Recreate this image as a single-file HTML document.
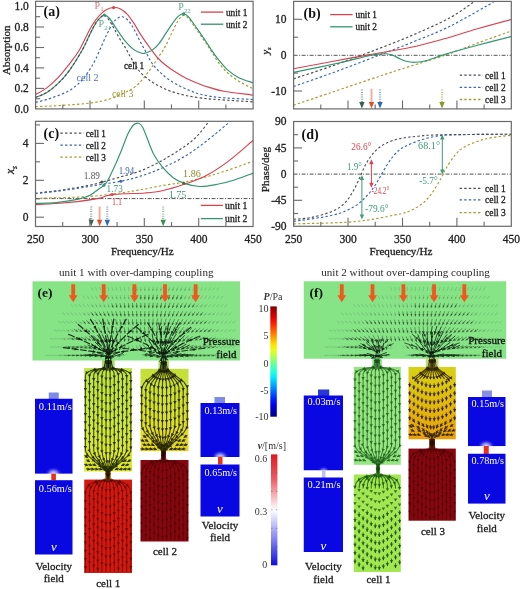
<!DOCTYPE html>
<html><head><meta charset="utf-8"><title>Figure</title>
<style>html,body{margin:0;padding:0;background:#fff;overflow:hidden;}svg{display:block;}</style>
</head><body>
<svg width="520" height="589" viewBox="0 0 520 589">
<rect width="520" height="589" fill="#fff"/>
<defs>
<clipPath id="ca"><rect x="35.6" y="1.3" width="217.5" height="107.6"/></clipPath>
<clipPath id="cb"><rect x="293.6" y="1.4" width="217.7" height="107.5"/></clipPath>
<clipPath id="cc"><rect x="35.5" y="121.3" width="217.6" height="105.2"/></clipPath>
<clipPath id="cd"><rect x="293.6" y="121.5" width="217.7" height="104.8"/></clipPath>
</defs>
<g clip-path="url(#ca)">
<path d="M35.6,106.6 C39.7,106.4 50.9,106.1 60.0,105.5 C69.1,104.9 81.7,104.2 90.0,103.1 C98.3,102.0 103.8,100.7 109.6,99.0 C115.4,97.3 120.4,94.7 124.6,92.7 C128.8,90.7 131.9,89.2 135.0,86.9 C138.1,84.6 140.5,81.7 143.0,78.8 C145.5,75.9 148.0,72.3 150.0,69.6 C152.0,66.9 153.3,65.0 155.0,62.5 C156.7,60.0 158.2,57.6 160.0,54.8 C161.8,52.0 163.7,49.5 165.8,45.5 C167.9,41.5 170.6,35.3 172.7,31.1 C174.8,26.9 176.6,22.8 178.4,20.2 C180.2,17.6 181.9,15.7 183.6,15.4 C185.3,15.1 187.0,16.7 188.8,18.6 C190.6,20.5 192.7,24.1 194.6,26.8 C196.5,29.5 198.4,32.1 200.4,35.0 C202.4,37.9 204.5,41.0 206.5,44.0 C208.5,47.0 210.0,49.3 212.3,52.8 C214.6,56.3 217.5,61.4 220.4,65.0 C223.3,68.6 226.2,71.7 229.6,74.6 C233.0,77.5 237.8,80.5 241.1,82.6 C244.4,84.6 247.1,85.9 249.2,86.9 C251.3,87.9 252.8,88.5 253.5,88.8" fill="none" stroke="#a49c2c" stroke-width="1.15" stroke-dasharray="2.4 2.2"/>
<path d="M35.6,102.5 C37.4,102.0 42.8,100.8 46.5,99.6 C50.2,98.4 54.2,97.1 58.1,95.6 C62.0,94.1 66.1,92.4 69.6,90.4 C73.0,88.4 76.2,85.7 78.8,83.4 C81.4,81.1 83.1,79.0 85.0,76.5 C86.9,74.0 88.6,71.3 90.4,68.4 C92.2,65.5 94.0,62.7 95.8,59.0 C97.6,55.3 99.6,50.4 101.5,46.1 C103.4,41.8 105.4,37.3 107.3,33.4 C109.2,29.5 111.4,25.3 113.1,22.8 C114.8,20.3 116.2,19.3 117.7,18.3 C119.2,17.3 120.6,16.4 122.3,16.7 C124.0,17.0 126.2,18.2 128.1,20.2 C130.0,22.2 131.9,25.4 133.8,28.8 C135.7,32.2 137.7,36.7 139.6,40.4 C141.5,44.1 143.4,47.3 145.4,51.0 C147.4,54.7 149.3,59.2 151.5,62.5 C153.7,65.8 155.8,68.1 158.5,70.8 C161.2,73.5 164.2,76.3 167.7,78.8 C171.1,81.3 175.4,83.8 179.2,85.8 C183.0,87.8 187.2,89.5 190.7,90.9 C194.2,92.3 195.4,93.1 200.0,94.2 C204.6,95.3 209.2,96.4 218.1,97.3 C227.0,98.2 247.6,99.2 253.5,99.6" fill="none" stroke="#3c64b4" stroke-width="1.15" stroke-dasharray="2.4 2.2"/>
<path d="M35.6,94.6 C37.4,93.5 42.8,90.9 46.5,88.1 C50.2,85.3 54.2,81.8 58.1,77.7 C62.0,73.7 66.0,68.4 69.6,63.8 C73.1,59.2 76.0,55.8 79.4,50.0 C82.8,44.2 87.3,34.0 90.0,29.0 C92.7,24.0 93.9,22.4 95.8,19.8 C97.7,17.2 99.6,15.1 101.5,13.3 C103.4,11.5 105.3,10.2 107.3,9.2 C109.3,8.2 111.5,7.6 113.6,7.5 C115.7,7.4 117.8,7.6 120.0,8.7 C122.2,9.8 124.6,11.4 126.9,13.8 C129.2,16.2 131.5,19.6 133.8,23.1 C136.1,26.6 137.8,30.1 140.7,34.6 C143.6,39.1 148.7,46.2 151.5,50.0 C154.3,53.8 155.0,55.0 157.3,57.5 C159.6,60.0 162.5,62.6 165.4,65.0 C168.3,67.3 171.2,69.4 174.6,71.6 C178.0,73.8 181.9,76.2 186.1,78.3 C190.3,80.4 196.0,82.7 200.0,84.2 C204.0,85.8 206.0,86.4 210.0,87.6 C214.0,88.8 216.6,89.9 223.8,91.2 C231.1,92.5 248.6,94.5 253.5,95.2" fill="none" stroke="#d8434f" stroke-width="1.15"/>
<path d="M35.6,97.3 C37.4,96.5 42.8,95.0 46.5,92.7 C50.2,90.4 54.2,87.2 58.1,83.4 C62.0,79.7 65.6,75.8 69.6,70.2 C73.6,64.6 78.9,56.0 82.3,50.0 C85.7,44.0 87.8,38.5 90.0,34.0 C92.2,29.5 94.1,25.8 95.8,23.1 C97.5,20.4 99.0,19.0 100.4,17.6 C101.8,16.2 102.9,14.8 104.4,15.0 C105.9,15.2 107.6,16.2 109.6,18.5 C111.6,20.8 114.0,25.2 116.5,28.8 C119.0,32.5 121.7,36.9 124.6,40.4 C127.5,43.9 130.9,47.5 133.8,49.6 C136.7,51.8 139.9,52.8 141.9,53.3 C143.9,53.8 144.3,53.3 146.0,52.8 C147.7,52.3 149.8,51.9 151.9,50.4 C154.0,48.9 156.5,46.6 158.8,43.8 C161.1,41.0 163.5,36.8 165.8,33.4 C168.1,29.9 170.6,26.0 172.7,23.1 C174.8,20.2 176.6,17.7 178.4,16.1 C180.2,14.6 181.9,13.6 183.6,13.8 C185.3,14.0 187.0,15.2 188.8,17.1 C190.6,19.0 192.7,22.3 194.6,25.0 C196.5,27.7 198.4,30.5 200.4,33.4 C202.4,36.3 204.7,39.6 206.5,42.3 C208.3,45.0 209.2,46.7 211.1,49.5 C213.0,52.3 215.4,55.9 218.1,59.2 C220.8,62.6 223.9,66.5 227.3,69.6 C230.8,72.7 234.4,75.5 238.8,77.7 C243.2,79.9 251.1,82.1 253.5,83.0" fill="none" stroke="#2f9670" stroke-width="1.15"/>
<path d="M35.6,97.3 C37.4,96.5 42.8,95.0 46.5,92.7 C50.2,90.4 54.2,87.2 58.1,83.4 C62.0,79.7 65.6,75.8 69.6,70.2 C73.6,64.6 78.9,56.0 82.3,50.0 C85.7,44.0 87.8,38.5 90.0,34.0 C92.2,29.5 94.1,25.8 95.8,23.1 C97.5,20.4 99.0,18.9 100.4,17.6 C101.8,16.3 102.9,14.7 104.4,15.2 C105.9,15.7 108.0,18.5 109.6,20.8 C111.2,23.1 112.5,25.7 114.2,28.8 C115.9,31.9 118.1,35.9 120.0,39.2 C121.9,42.5 124.1,45.5 125.8,48.4 C127.5,51.3 128.9,54.2 130.4,56.9 C131.9,59.6 133.3,61.9 135.0,64.5 C136.7,67.1 138.0,69.8 140.4,72.4 C142.8,75.0 146.2,77.8 149.2,80.0 C152.2,82.2 155.0,84.0 158.5,85.8 C162.0,87.6 165.8,89.5 170.0,91.0 C174.2,92.5 178.8,93.8 183.8,95.0 C188.8,96.2 194.3,97.1 200.0,97.9 C205.7,98.7 209.2,98.9 218.1,99.6 C227.0,100.3 247.6,101.5 253.5,101.9" fill="none" stroke="#4d4d55" stroke-width="1.15" stroke-dasharray="2.4 2.2"/>
</g>
<circle cx="113.6" cy="7.6" r="1.6" fill="#d8434f"/>
<circle cx="104.4" cy="15.1" r="1.6" fill="#2f9670"/>
<circle cx="183.6" cy="13.9" r="1.6" fill="#2f9670"/>
<rect x="35.6" y="1.3" width="217.5" height="107.6" fill="none" stroke="#6a6a6a" stroke-width="1.2"/>
<line x1="62.8" y1="108.9" x2="62.8" y2="104.4" stroke="#6a6a6a" stroke-width="1.1"/>
<line x1="90.0" y1="108.9" x2="90.0" y2="100.4" stroke="#6a6a6a" stroke-width="1.1"/>
<line x1="117.2" y1="108.9" x2="117.2" y2="104.4" stroke="#6a6a6a" stroke-width="1.1"/>
<line x1="144.3" y1="108.9" x2="144.3" y2="100.4" stroke="#6a6a6a" stroke-width="1.1"/>
<line x1="171.5" y1="108.9" x2="171.5" y2="104.4" stroke="#6a6a6a" stroke-width="1.1"/>
<line x1="198.7" y1="108.9" x2="198.7" y2="100.4" stroke="#6a6a6a" stroke-width="1.1"/>
<line x1="225.9" y1="108.9" x2="225.9" y2="104.4" stroke="#6a6a6a" stroke-width="1.1"/>
<line x1="35.6" y1="98.7" x2="40.1" y2="98.7" stroke="#6a6a6a" stroke-width="1.1"/>
<line x1="35.6" y1="88.4" x2="44.1" y2="88.4" stroke="#6a6a6a" stroke-width="1.1"/>
<line x1="35.6" y1="78.2" x2="40.1" y2="78.2" stroke="#6a6a6a" stroke-width="1.1"/>
<line x1="35.6" y1="67.9" x2="44.1" y2="67.9" stroke="#6a6a6a" stroke-width="1.1"/>
<line x1="35.6" y1="57.7" x2="40.1" y2="57.7" stroke="#6a6a6a" stroke-width="1.1"/>
<line x1="35.6" y1="47.5" x2="44.1" y2="47.5" stroke="#6a6a6a" stroke-width="1.1"/>
<line x1="35.6" y1="37.2" x2="40.1" y2="37.2" stroke="#6a6a6a" stroke-width="1.1"/>
<line x1="35.6" y1="27.0" x2="44.1" y2="27.0" stroke="#6a6a6a" stroke-width="1.1"/>
<line x1="35.6" y1="16.7" x2="40.1" y2="16.7" stroke="#6a6a6a" stroke-width="1.1"/>
<line x1="35.6" y1="6.5" x2="44.1" y2="6.5" stroke="#6a6a6a" stroke-width="1.1"/>
<text x="28.8" y="112.7" font-family="'Liberation Serif', serif" font-size="11.5" text-anchor="end" fill="#222" stroke="#222" stroke-width="0.30" font-weight="normal" font-style="normal">0.0</text>
<text x="28.8" y="92.2" font-family="'Liberation Serif', serif" font-size="11.5" text-anchor="end" fill="#222" stroke="#222" stroke-width="0.30" font-weight="normal" font-style="normal">0.2</text>
<text x="28.8" y="71.7" font-family="'Liberation Serif', serif" font-size="11.5" text-anchor="end" fill="#222" stroke="#222" stroke-width="0.30" font-weight="normal" font-style="normal">0.4</text>
<text x="28.8" y="51.3" font-family="'Liberation Serif', serif" font-size="11.5" text-anchor="end" fill="#222" stroke="#222" stroke-width="0.30" font-weight="normal" font-style="normal">0.6</text>
<text x="28.8" y="30.8" font-family="'Liberation Serif', serif" font-size="11.5" text-anchor="end" fill="#222" stroke="#222" stroke-width="0.30" font-weight="normal" font-style="normal">0.8</text>
<text x="28.8" y="10.3" font-family="'Liberation Serif', serif" font-size="11.5" text-anchor="end" fill="#222" stroke="#222" stroke-width="0.30" font-weight="normal" font-style="normal">1.0</text>
<text x="6.5" y="50.3" font-family="'Liberation Serif', serif" font-size="11.0" text-anchor="middle" fill="#222" stroke="#222" stroke-width="0.30" font-weight="normal" font-style="normal" transform="rotate(-90 6.5 50.3)" dy="3.5">Absorption</text>
<text x="43.5" y="16.0" font-family="'Liberation Serif', serif" font-size="14.0" text-anchor="start" fill="#111" stroke="#111" stroke-width="0.00" font-weight="bold" font-style="normal">(a)</text>
<text x="94.6" y="8.8" font-family="'Liberation Serif', serif" font-size="10.0" text-anchor="start" fill="#e0707a" stroke="#e0707a" stroke-width="0.00" font-weight="normal" font-style="normal" stroke-opacity="0">P<tspan font-size="7" dy="2.2">1</tspan></text>
<text x="98.6" y="26.8" font-family="'Liberation Serif', serif" font-size="10.0" text-anchor="start" fill="#60a888" stroke="#60a888" stroke-width="0.00" font-weight="normal" font-style="normal" stroke-opacity="0">P<tspan font-size="7" dy="3">21</tspan></text>
<text x="178.2" y="10.2" font-family="'Liberation Serif', serif" font-size="10.0" text-anchor="start" fill="#60a888" stroke="#60a888" stroke-width="0.00" font-weight="normal" font-style="normal" stroke-opacity="0">P<tspan font-size="7" dy="2.5">22</tspan></text>
<line x1="200.8" y1="12.1" x2="223.3" y2="12.1" stroke="#d8434f" stroke-width="1.3"/>
<text x="225.9" y="15.5" font-family="'Liberation Serif', serif" font-size="10.0" text-anchor="start" fill="#222" stroke="#222" stroke-width="0.30" font-weight="normal" font-style="normal" textLength="21.6" lengthAdjust="spacingAndGlyphs">unit 1</text>
<line x1="200.8" y1="24.2" x2="223.3" y2="24.2" stroke="#2f9670" stroke-width="1.3"/>
<text x="225.9" y="27.6" font-family="'Liberation Serif', serif" font-size="10.0" text-anchor="start" fill="#222" stroke="#222" stroke-width="0.30" font-weight="normal" font-style="normal" textLength="21.6" lengthAdjust="spacingAndGlyphs">unit 2</text>
<text x="124.0" y="69.0" font-family="'Liberation Serif', serif" font-size="10.5" text-anchor="start" fill="#1a1a1a" stroke="#1a1a1a" stroke-width="0.30" font-weight="normal" font-style="normal" textLength="20.2" lengthAdjust="spacingAndGlyphs">cell 1</text>
<text x="76.5" y="81.0" font-family="'Liberation Serif', serif" font-size="10.5" text-anchor="start" fill="#4a72b8" stroke="#4a72b8" stroke-width="0.00" font-weight="normal" font-style="normal" textLength="22" lengthAdjust="spacingAndGlyphs">cell 2</text>
<text x="111.9" y="96.8" font-family="'Liberation Serif', serif" font-size="10.5" text-anchor="start" fill="#9a9a30" stroke="#9a9a30" stroke-width="0.00" font-weight="normal" font-style="normal" textLength="21.4" lengthAdjust="spacingAndGlyphs">cell 3</text>
<g clip-path="url(#cb)">
<line x1="293.6" y1="55.3" x2="511.3" y2="55.3" stroke="#555" stroke-width="1" stroke-dasharray="4 1.5 1 1.5"/>
<path d="M293.6,105.2 C300.0,103.0 319.3,96.6 332.0,92.3 C344.7,88.0 358.7,83.2 370.0,79.4 C381.3,75.6 387.6,73.5 400.0,69.5 C412.4,65.5 431.3,59.9 444.2,55.5 C457.1,51.1 466.2,47.2 477.4,43.1 C488.6,39.0 505.8,33.0 511.5,31.0" fill="none" stroke="#a49c2c" stroke-width="1.15" stroke-dasharray="2.4 2.2"/>
<path d="M293.6,86.5 C300.0,84.2 319.3,77.6 332.0,73.0 C344.7,68.4 357.0,63.7 370.0,58.7 C383.0,53.7 396.7,48.5 410.0,43.1 C423.3,37.7 435.5,33.4 450.0,26.2 C464.5,19.0 489.2,4.4 497.0,0.0" fill="none" stroke="#3c64b4" stroke-width="1.15" stroke-dasharray="2.4 2.2"/>
<path d="M293.6,78.8 C300.0,76.7 319.3,70.5 332.0,66.0 C344.7,61.5 357.0,57.0 370.0,52.0 C383.0,47.0 396.7,41.9 410.0,36.2 C423.3,30.5 438.7,23.9 450.0,17.7 C461.3,11.5 473.3,2.1 478.0,-1.0" fill="none" stroke="#4d4d55" stroke-width="1.15" stroke-dasharray="2.4 2.2"/>
<path d="M293.6,68.8 C300.1,67.6 319.6,63.9 332.3,61.5 C345.0,59.1 357.1,56.9 370.0,54.6 C382.9,52.3 397.6,50.1 410.0,47.5 C422.4,44.9 433.0,41.9 444.2,38.8 C455.4,35.7 466.2,31.9 477.4,28.7 C488.6,25.5 505.8,20.9 511.5,19.4" fill="none" stroke="#d8434f" stroke-width="1.15"/>
<path d="M293.6,72.4 C301.3,70.8 327.3,65.5 340.0,62.7 C352.7,59.9 362.8,57.0 370.0,55.5 C377.2,54.0 379.5,54.0 383.0,53.8 C386.5,53.6 388.4,53.8 391.0,54.5 C393.6,55.2 396.0,57.0 398.5,58.1 C401.0,59.2 403.4,60.5 406.2,61.2 C409.0,61.9 411.8,62.5 415.4,62.3 C419.0,62.1 422.9,61.5 427.7,60.2 C432.5,58.9 435.9,57.1 444.2,54.6 C452.5,52.1 466.2,48.3 477.4,45.3 C488.6,42.3 505.8,37.9 511.5,36.4" fill="none" stroke="#2f9670" stroke-width="1.15"/>
</g>
<line x1="361.9" y1="89.6" x2="361.9" y2="102.4" stroke="#3f5d50" stroke-width="2.2" stroke-dasharray="1 1.3" opacity="0.55"/>
<path d="M359.2,101.9 L364.6,101.9 L361.9,108.4 Z" fill="#3f5d50"/>
<line x1="371.5" y1="88.8" x2="371.5" y2="102.4" stroke="#e0502a" stroke-width="2" opacity="0.45"/>
<path d="M368.8,101.9 L374.2,101.9 L371.5,108.4 Z" fill="#e0502a"/>
<line x1="380.0" y1="89.6" x2="380.0" y2="102.4" stroke="#2a6ab0" stroke-width="2.2" stroke-dasharray="1 1.3" opacity="0.55"/>
<path d="M377.3,101.9 L382.7,101.9 L380.0,108.4 Z" fill="#2a6ab0"/>
<line x1="442.0" y1="89.6" x2="442.0" y2="102.4" stroke="#8a9a20" stroke-width="2.2" stroke-dasharray="1 1.3" opacity="0.55"/>
<path d="M439.3,101.9 L444.7,101.9 L442.0,108.4 Z" fill="#8a9a20"/>
<rect x="293.6" y="1.4" width="217.7" height="107.5" fill="none" stroke="#6a6a6a" stroke-width="1.2"/>
<line x1="320.8" y1="108.9" x2="320.8" y2="104.4" stroke="#6a6a6a" stroke-width="1.1"/>
<line x1="348.0" y1="108.9" x2="348.0" y2="100.4" stroke="#6a6a6a" stroke-width="1.1"/>
<line x1="375.2" y1="108.9" x2="375.2" y2="104.4" stroke="#6a6a6a" stroke-width="1.1"/>
<line x1="402.5" y1="108.9" x2="402.5" y2="100.4" stroke="#6a6a6a" stroke-width="1.1"/>
<line x1="429.7" y1="108.9" x2="429.7" y2="104.4" stroke="#6a6a6a" stroke-width="1.1"/>
<line x1="456.9" y1="108.9" x2="456.9" y2="100.4" stroke="#6a6a6a" stroke-width="1.1"/>
<line x1="484.1" y1="108.9" x2="484.1" y2="104.4" stroke="#6a6a6a" stroke-width="1.1"/>
<line x1="293.6" y1="19.3" x2="302.1" y2="19.3" stroke="#6a6a6a" stroke-width="1.1"/>
<line x1="293.6" y1="37.2" x2="298.1" y2="37.2" stroke="#6a6a6a" stroke-width="1.1"/>
<line x1="293.6" y1="73.1" x2="298.1" y2="73.1" stroke="#6a6a6a" stroke-width="1.1"/>
<line x1="293.6" y1="91.0" x2="302.1" y2="91.0" stroke="#6a6a6a" stroke-width="1.1"/>
<text x="286.5" y="22.8" font-family="'Liberation Serif', serif" font-size="11.5" text-anchor="end" fill="#222" stroke="#222" stroke-width="0.30" font-weight="normal" font-style="normal">10</text>
<text x="286.5" y="59.0" font-family="'Liberation Serif', serif" font-size="11.5" text-anchor="end" fill="#222" stroke="#222" stroke-width="0.30" font-weight="normal" font-style="normal">0</text>
<text x="286.5" y="94.8" font-family="'Liberation Serif', serif" font-size="11.5" text-anchor="end" fill="#222" stroke="#222" stroke-width="0.30" font-weight="normal" font-style="normal">-10</text>
<text x="268.6" y="51.0" font-family="'Liberation Serif', serif" font-size="10.5" text-anchor="middle" fill="#222" stroke="#222" stroke-width="0.30" font-weight="normal" font-style="italic" transform="rotate(-90 268.6 51)">y<tspan font-size="6.5" dy="2">s</tspan></text>
<text x="303.5" y="18.0" font-family="'Liberation Serif', serif" font-size="14.0" text-anchor="start" fill="#111" stroke="#111" stroke-width="0.00" font-weight="bold" font-style="normal">(b)</text>
<line x1="330.2" y1="14.6" x2="352.6" y2="14.6" stroke="#d8434f" stroke-width="1.3"/>
<text x="355.6" y="18.0" font-family="'Liberation Serif', serif" font-size="10.0" text-anchor="start" fill="#222" stroke="#222" stroke-width="0.30" font-weight="normal" font-style="normal" textLength="21.3" lengthAdjust="spacingAndGlyphs">unit 1</text>
<line x1="330.2" y1="26.8" x2="352.6" y2="26.8" stroke="#2f9670" stroke-width="1.3"/>
<text x="355.6" y="30.2" font-family="'Liberation Serif', serif" font-size="10.0" text-anchor="start" fill="#222" stroke="#222" stroke-width="0.30" font-weight="normal" font-style="normal" textLength="21.3" lengthAdjust="spacingAndGlyphs">unit 2</text>
<line x1="459.7" y1="75.2" x2="482.9" y2="75.2" stroke="#4d4d55" stroke-width="1.3" stroke-dasharray="2.4 2.2"/>
<text x="485.1" y="78.6" font-family="'Liberation Serif', serif" font-size="10.0" text-anchor="start" fill="#222" stroke="#222" stroke-width="0.30" font-weight="normal" font-style="normal" textLength="20.6" lengthAdjust="spacingAndGlyphs">cell 1</text>
<line x1="459.7" y1="87.4" x2="482.9" y2="87.4" stroke="#3c64b4" stroke-width="1.3" stroke-dasharray="2.4 2.2"/>
<text x="485.1" y="90.8" font-family="'Liberation Serif', serif" font-size="10.0" text-anchor="start" fill="#222" stroke="#222" stroke-width="0.30" font-weight="normal" font-style="normal" textLength="20.6" lengthAdjust="spacingAndGlyphs">cell 2</text>
<line x1="459.7" y1="99.5" x2="482.9" y2="99.5" stroke="#a49c2c" stroke-width="1.3" stroke-dasharray="2.4 2.2"/>
<text x="485.1" y="102.9" font-family="'Liberation Serif', serif" font-size="10.0" text-anchor="start" fill="#222" stroke="#222" stroke-width="0.30" font-weight="normal" font-style="normal" textLength="20.6" lengthAdjust="spacingAndGlyphs">cell 3</text>
<g clip-path="url(#cc)">
<line x1="35.5" y1="198.6" x2="253.1" y2="198.6" stroke="#555" stroke-width="1" stroke-dasharray="4 1.5 1 1.5"/>
<path d="M35.5,198.3 C41.2,198.2 60.1,197.8 70.0,197.4 C79.9,197.0 86.7,196.7 95.0,196.0 C103.3,195.3 112.5,194.0 120.0,193.0 C127.5,192.0 133.0,191.1 140.0,189.9 C147.0,188.7 154.7,186.9 162.1,185.6 C169.5,184.3 176.8,183.6 184.2,182.1 C191.6,180.6 198.9,178.8 206.3,176.8 C213.7,174.8 220.6,172.6 228.5,170.0 C236.4,167.4 249.3,162.5 253.5,161.0" fill="none" stroke="#a49c2c" stroke-width="1.15" stroke-dasharray="2.4 2.2"/>
<path d="M35.5,193.2 C39.6,192.7 52.6,191.3 60.0,190.3 C67.4,189.3 74.2,188.1 80.0,187.0 C85.8,185.9 91.3,184.8 95.0,184.0 C98.7,183.2 97.8,183.3 101.9,182.2 C106.0,181.1 113.2,179.0 119.6,177.2 C125.9,175.3 132.9,173.9 140.0,171.1 C147.1,168.3 154.7,164.6 162.1,160.5 C169.5,156.4 178.3,150.8 184.2,146.7 C190.1,142.6 193.2,140.1 197.5,135.7 C201.8,131.2 207.9,122.6 210.0,120.0" fill="none" stroke="#4d4d55" stroke-width="1.15" stroke-dasharray="2.4 2.2"/>
<path d="M35.5,193.6 C39.6,193.2 52.6,191.8 60.0,190.9 C67.4,190.0 74.2,188.9 80.0,188.0 C85.8,187.1 88.2,186.5 95.0,185.4 C101.8,184.3 113.3,182.7 120.8,181.2 C128.3,179.7 133.1,178.5 140.0,176.3 C146.9,174.1 154.7,171.3 162.1,168.0 C169.5,164.7 176.8,161.2 184.2,156.7 C191.6,152.2 198.3,147.3 206.3,141.2 C214.3,135.1 227.7,123.5 232.0,120.0" fill="none" stroke="#3c64b4" stroke-width="1.15" stroke-dasharray="2.4 2.2"/>
<path d="M35.5,204.6 C39.6,204.4 53.0,203.7 60.0,203.2 C67.0,202.7 70.9,202.4 77.3,201.6 C83.7,200.8 93.7,199.3 98.5,198.4 C103.3,197.5 103.7,196.6 106.0,196.0 C108.3,195.4 109.0,195.0 112.2,194.6 C115.4,194.2 119.5,194.1 125.0,193.8 C130.5,193.5 138.8,193.5 145.0,193.0 C151.2,192.5 155.6,192.2 162.1,190.8 C168.6,189.4 176.8,186.9 184.2,184.3 C191.6,181.8 198.9,179.4 206.3,175.5 C213.7,171.6 220.6,167.0 228.5,161.1 C236.4,155.2 249.3,143.5 253.5,140.0" fill="none" stroke="#d8434f" stroke-width="1.15"/>
<path d="M35.5,203.4 C39.0,203.3 49.2,203.3 56.2,202.6 C63.2,201.9 71.7,200.6 77.3,199.4 C82.9,198.2 86.5,196.9 90.0,195.2 C93.5,193.5 96.2,190.8 98.5,189.2 C100.8,187.5 102.3,186.8 103.9,185.3 C105.5,183.8 106.1,183.5 108.0,180.0 C109.9,176.5 113.1,169.6 115.4,164.5 C117.7,159.4 119.6,154.9 121.7,149.7 C123.8,144.5 126.1,137.6 128.1,133.5 C130.1,129.4 131.8,126.7 133.5,125.0 C135.2,123.3 137.0,123.0 138.5,123.3 C140.0,123.6 141.2,124.8 142.5,127.0 C143.8,129.2 144.8,132.4 146.6,136.8 C148.4,141.2 150.7,148.4 153.3,153.4 C155.9,158.4 158.8,162.6 162.1,166.7 C165.4,170.8 169.5,174.9 173.2,177.7 C176.9,180.5 179.8,181.9 184.2,183.4 C188.6,184.9 194.2,186.3 199.7,186.5 C205.2,186.7 211.5,185.4 217.4,184.3 C223.3,183.2 229.1,181.6 235.1,179.7 C241.1,177.8 250.4,174.2 253.5,173.1" fill="none" stroke="#2f9670" stroke-width="1.15"/>
</g>
<circle cx="101.9" cy="182" r="1.5" fill="#4d4d55"/>
<circle cx="103.9" cy="185.3" r="1.5" fill="#2f9670"/>
<circle cx="120.8" cy="181.2" r="1.5" fill="#3c64b4"/>
<circle cx="112.2" cy="194.6" r="1.5" fill="#d8434f"/>
<circle cx="183.8" cy="183.3" r="1.5" fill="#5a6a2a"/>
<line x1="91.2" y1="206.5" x2="91.2" y2="220.2" stroke="#3f5d50" stroke-width="2.2" stroke-dasharray="1 1.3" opacity="0.55"/>
<path d="M88.5,219.7 L93.9,219.7 L91.2,226.2 Z" fill="#3f5d50"/>
<line x1="99.6" y1="206.5" x2="99.6" y2="220.2" stroke="#e0502a" stroke-width="2" opacity="0.45"/>
<path d="M96.9,219.7 L102.3,219.7 L99.6,226.2 Z" fill="#e0502a"/>
<line x1="107.3" y1="206.5" x2="107.3" y2="220.2" stroke="#2a6ab0" stroke-width="2.2" stroke-dasharray="1 1.3" opacity="0.55"/>
<path d="M104.6,219.7 L110.0,219.7 L107.3,226.2 Z" fill="#2a6ab0"/>
<line x1="163.2" y1="206.5" x2="163.2" y2="220.2" stroke="#3f8a50" stroke-width="2.2" stroke-dasharray="1 1.3" opacity="0.55"/>
<path d="M160.5,219.7 L165.9,219.7 L163.2,226.2 Z" fill="#3f8a50"/>
<rect x="35.5" y="121.3" width="217.6" height="105.2" fill="none" stroke="#6a6a6a" stroke-width="1.2"/>
<line x1="62.7" y1="226.5" x2="62.7" y2="222.0" stroke="#6a6a6a" stroke-width="1.1"/>
<line x1="89.9" y1="226.5" x2="89.9" y2="218.0" stroke="#6a6a6a" stroke-width="1.1"/>
<line x1="117.1" y1="226.5" x2="117.1" y2="222.0" stroke="#6a6a6a" stroke-width="1.1"/>
<line x1="144.3" y1="226.5" x2="144.3" y2="218.0" stroke="#6a6a6a" stroke-width="1.1"/>
<line x1="171.5" y1="226.5" x2="171.5" y2="222.0" stroke="#6a6a6a" stroke-width="1.1"/>
<line x1="198.7" y1="226.5" x2="198.7" y2="218.0" stroke="#6a6a6a" stroke-width="1.1"/>
<line x1="225.9" y1="226.5" x2="225.9" y2="222.0" stroke="#6a6a6a" stroke-width="1.1"/>
<line x1="35.5" y1="198.8" x2="40.0" y2="198.8" stroke="#6a6a6a" stroke-width="1.1"/>
<line x1="35.5" y1="180.3" x2="44.0" y2="180.3" stroke="#6a6a6a" stroke-width="1.1"/>
<line x1="35.5" y1="161.8" x2="40.0" y2="161.8" stroke="#6a6a6a" stroke-width="1.1"/>
<line x1="35.5" y1="143.4" x2="44.0" y2="143.4" stroke="#6a6a6a" stroke-width="1.1"/>
<line x1="35.5" y1="124.9" x2="40.0" y2="124.9" stroke="#6a6a6a" stroke-width="1.1"/>
<line x1="35.5" y1="217.2" x2="44.0" y2="217.2" stroke="#6a6a6a" stroke-width="1.1"/>
<text x="28.5" y="221.0" font-family="'Liberation Serif', serif" font-size="11.5" text-anchor="end" fill="#222" stroke="#222" stroke-width="0.30" font-weight="normal" font-style="normal">0</text>
<text x="28.5" y="184.1" font-family="'Liberation Serif', serif" font-size="11.5" text-anchor="end" fill="#222" stroke="#222" stroke-width="0.30" font-weight="normal" font-style="normal">2</text>
<text x="28.5" y="147.2" font-family="'Liberation Serif', serif" font-size="11.5" text-anchor="end" fill="#222" stroke="#222" stroke-width="0.30" font-weight="normal" font-style="normal">4</text>
<text x="14.0" y="170.0" font-family="'Liberation Serif', serif" font-size="11.5" text-anchor="middle" fill="#222" stroke="#222" stroke-width="0.30" font-weight="normal" font-style="italic" transform="rotate(-90 14 170)">x<tspan font-size="7.5" dy="2.5">s</tspan></text>
<text x="43.5" y="137.5" font-family="'Liberation Serif', serif" font-size="14.0" text-anchor="start" fill="#111" stroke="#111" stroke-width="0.00" font-weight="bold" font-style="normal">(c)</text>
<line x1="60.4" y1="133.2" x2="83.7" y2="133.2" stroke="#4d4d55" stroke-width="1.3" stroke-dasharray="2.4 2.2"/>
<text x="85.8" y="136.6" font-family="'Liberation Serif', serif" font-size="10.0" text-anchor="start" fill="#222" stroke="#222" stroke-width="0.30" font-weight="normal" font-style="normal" textLength="20.1" lengthAdjust="spacingAndGlyphs">cell 1</text>
<line x1="60.4" y1="145.1" x2="83.7" y2="145.1" stroke="#3c64b4" stroke-width="1.3" stroke-dasharray="2.4 2.2"/>
<text x="85.8" y="148.5" font-family="'Liberation Serif', serif" font-size="10.0" text-anchor="start" fill="#222" stroke="#222" stroke-width="0.30" font-weight="normal" font-style="normal" textLength="20.1" lengthAdjust="spacingAndGlyphs">cell 2</text>
<line x1="60.4" y1="157.1" x2="83.7" y2="157.1" stroke="#a49c2c" stroke-width="1.3" stroke-dasharray="2.4 2.2"/>
<text x="85.8" y="160.5" font-family="'Liberation Serif', serif" font-size="10.0" text-anchor="start" fill="#222" stroke="#222" stroke-width="0.30" font-weight="normal" font-style="normal" textLength="20.1" lengthAdjust="spacingAndGlyphs">cell 3</text>
<line x1="200.8" y1="205.4" x2="222.9" y2="205.4" stroke="#d8434f" stroke-width="1.3"/>
<text x="225.1" y="208.8" font-family="'Liberation Serif', serif" font-size="10.0" text-anchor="start" fill="#222" stroke="#222" stroke-width="0.30" font-weight="normal" font-style="normal" textLength="22.2" lengthAdjust="spacingAndGlyphs">unit 1</text>
<line x1="200.8" y1="218.6" x2="222.9" y2="218.6" stroke="#2f9670" stroke-width="1.3"/>
<text x="225.1" y="222.0" font-family="'Liberation Serif', serif" font-size="10.0" text-anchor="start" fill="#222" stroke="#222" stroke-width="0.30" font-weight="normal" font-style="normal" textLength="22.2" lengthAdjust="spacingAndGlyphs">unit 2</text>
<text x="83.7" y="179.2" font-family="'Liberation Serif', serif" font-size="10.0" text-anchor="start" fill="#555" stroke="#555" stroke-width="0.00" font-weight="normal" font-style="normal" textLength="16.2" lengthAdjust="spacingAndGlyphs">1.89</text>
<text x="118.7" y="174.4" font-family="'Liberation Serif', serif" font-size="10.0" text-anchor="start" fill="#3c64b4" stroke="#3c64b4" stroke-width="0.00" font-weight="normal" font-style="normal" textLength="15.5" lengthAdjust="spacingAndGlyphs">1.94</text>
<text x="106.6" y="192.0" font-family="'Liberation Serif', serif" font-size="10.0" text-anchor="start" fill="#3f9a78" stroke="#3f9a78" stroke-width="0.00" font-weight="normal" font-style="normal" textLength="16.2" lengthAdjust="spacingAndGlyphs">1.73</text>
<text x="112.0" y="205.4" font-family="'Liberation Serif', serif" font-size="10.0" text-anchor="start" fill="#d8434f" stroke="#d8434f" stroke-width="0.00" font-weight="normal" font-style="normal" textLength="10.1" lengthAdjust="spacingAndGlyphs">1.1</text>
<text x="183.1" y="177.1" font-family="'Liberation Serif', serif" font-size="10.0" text-anchor="start" fill="#8a8a28" stroke="#8a8a28" stroke-width="0.00" font-weight="normal" font-style="normal" textLength="17.7" lengthAdjust="spacingAndGlyphs">1.86</text>
<text x="168.7" y="197.7" font-family="'Liberation Serif', serif" font-size="10.0" text-anchor="start" fill="#3f9a78" stroke="#3f9a78" stroke-width="0.00" font-weight="normal" font-style="normal" textLength="17.7" lengthAdjust="spacingAndGlyphs">1.75</text>
<text x="35.6" y="243.3" font-family="'Liberation Serif', serif" font-size="11.5" text-anchor="middle" fill="#222" stroke="#222" stroke-width="0.30" font-weight="normal" font-style="normal">250</text>
<text x="90.0" y="243.3" font-family="'Liberation Serif', serif" font-size="11.5" text-anchor="middle" fill="#222" stroke="#222" stroke-width="0.30" font-weight="normal" font-style="normal">300</text>
<text x="144.4" y="243.3" font-family="'Liberation Serif', serif" font-size="11.5" text-anchor="middle" fill="#222" stroke="#222" stroke-width="0.30" font-weight="normal" font-style="normal">350</text>
<text x="198.8" y="243.3" font-family="'Liberation Serif', serif" font-size="11.5" text-anchor="middle" fill="#222" stroke="#222" stroke-width="0.30" font-weight="normal" font-style="normal">400</text>
<text x="253.1" y="243.3" font-family="'Liberation Serif', serif" font-size="11.5" text-anchor="middle" fill="#222" stroke="#222" stroke-width="0.30" font-weight="normal" font-style="normal">450</text>
<text x="142.3" y="255.0" font-family="'Liberation Serif', serif" font-size="11.1" text-anchor="middle" fill="#222" stroke="#222" stroke-width="0.30" font-weight="normal" font-style="normal">Frequency/Hz</text>
<g clip-path="url(#cd)">
<line x1="293.6" y1="174.1" x2="511.3" y2="174.1" stroke="#555" stroke-width="1" stroke-dasharray="4 1.5 1 1.5"/>
<path d="M293.6,223.9 C303.6,223.5 336.6,223.2 353.5,221.7 C370.4,220.2 385.4,216.9 395.0,215.0 C404.6,213.1 406.2,212.6 411.2,210.3 C416.2,208.0 421.2,204.7 425.0,201.3 C428.8,197.9 431.5,193.7 434.2,189.8 C436.9,185.9 439.3,181.5 441.2,178.0 C443.1,174.5 443.5,172.6 445.8,168.8 C448.1,165.0 451.9,158.8 455.0,155.2 C458.1,151.6 460.3,149.3 464.2,147.0 C468.1,144.7 473.5,142.8 478.1,141.2 C482.7,139.6 486.3,138.6 491.9,137.6 C497.5,136.6 508.2,135.7 511.5,135.3" fill="none" stroke="#a49c2c" stroke-width="1.15" stroke-dasharray="2.4 2.2"/>
<path d="M293.6,221.4 C300.1,220.4 322.3,217.7 332.3,215.3 C342.3,212.9 347.9,210.2 353.5,207.1 C359.1,204.0 362.7,200.0 366.2,196.5 C369.7,193.0 372.1,189.5 374.6,186.0 C377.1,182.5 378.9,178.9 381.0,175.3 C383.1,171.7 385.2,167.8 387.3,164.5 C389.4,161.2 391.6,158.0 393.7,155.5 C395.8,153.0 397.9,151.1 400.0,149.5 C402.1,147.9 403.5,147.2 406.5,145.8 C409.5,144.4 413.5,142.5 418.1,141.0 C422.7,139.5 428.4,137.6 434.2,136.6 C440.0,135.6 439.8,135.2 452.7,134.8 C465.6,134.4 501.7,134.3 511.5,134.2" fill="none" stroke="#3c64b4" stroke-width="1.15" stroke-dasharray="2.4 2.2"/>
<path d="M293.6,219.3 C296.5,219.0 304.8,218.8 311.2,217.5 C317.6,216.2 326.7,213.8 332.3,211.3 C337.9,208.9 341.5,206.3 345.0,202.8 C348.5,199.3 351.0,194.7 353.5,190.5 C356.0,186.3 357.7,182.0 359.8,177.5 C361.9,173.0 363.7,167.8 366.2,163.5 C368.7,159.2 371.4,155.1 374.6,151.8 C377.8,148.5 381.0,145.8 385.2,143.6 C389.4,141.4 394.5,139.8 400.0,138.6 C405.5,137.4 411.2,136.8 418.1,136.2 C425.0,135.6 425.6,135.1 441.2,134.8 C456.8,134.5 499.8,134.3 511.5,134.2" fill="none" stroke="#4d4d55" stroke-width="1.15" stroke-dasharray="2.4 2.2"/>
</g>
<line x1="371.4" y1="162.3" x2="371.4" y2="184.8" stroke="#d8434f" stroke-width="1.0"/>
<path d="M369.2,164.3 L373.6,164.3 L371.4,159.3 Z" fill="#d8434f"/>
<path d="M369.2,182.8 L373.6,182.8 L371.4,187.8 Z" fill="#d8434f"/>
<line x1="361.9" y1="178.1" x2="361.9" y2="216.5" stroke="#3f9a78" stroke-width="1.0"/>
<path d="M359.7,180.1 L364.1,180.1 L361.9,175.1 Z" fill="#3f9a78"/>
<path d="M359.7,214.5 L364.1,214.5 L361.9,219.5 Z" fill="#3f9a78"/>
<line x1="442.3" y1="137.6" x2="442.3" y2="171.5" stroke="#3f9a78" stroke-width="1.0"/>
<path d="M440.1,139.6 L444.5,139.6 L442.3,134.6 Z" fill="#3f9a78"/>
<path d="M440.1,169.5 L444.5,169.5 L442.3,174.5 Z" fill="#3f9a78"/>
<rect x="293.6" y="121.5" width="217.7" height="104.8" fill="none" stroke="#6a6a6a" stroke-width="1.2"/>
<line x1="320.8" y1="226.3" x2="320.8" y2="221.8" stroke="#6a6a6a" stroke-width="1.1"/>
<line x1="348.0" y1="226.3" x2="348.0" y2="217.8" stroke="#6a6a6a" stroke-width="1.1"/>
<line x1="375.2" y1="226.3" x2="375.2" y2="221.8" stroke="#6a6a6a" stroke-width="1.1"/>
<line x1="402.5" y1="226.3" x2="402.5" y2="217.8" stroke="#6a6a6a" stroke-width="1.1"/>
<line x1="429.7" y1="226.3" x2="429.7" y2="221.8" stroke="#6a6a6a" stroke-width="1.1"/>
<line x1="456.9" y1="226.3" x2="456.9" y2="217.8" stroke="#6a6a6a" stroke-width="1.1"/>
<line x1="484.1" y1="226.3" x2="484.1" y2="221.8" stroke="#6a6a6a" stroke-width="1.1"/>
<line x1="293.6" y1="134.7" x2="298.1" y2="134.7" stroke="#6a6a6a" stroke-width="1.1"/>
<line x1="293.6" y1="147.9" x2="302.1" y2="147.9" stroke="#6a6a6a" stroke-width="1.1"/>
<line x1="293.6" y1="161.0" x2="298.1" y2="161.0" stroke="#6a6a6a" stroke-width="1.1"/>
<line x1="293.6" y1="187.2" x2="298.1" y2="187.2" stroke="#6a6a6a" stroke-width="1.1"/>
<line x1="293.6" y1="200.3" x2="302.1" y2="200.3" stroke="#6a6a6a" stroke-width="1.1"/>
<line x1="293.6" y1="213.5" x2="298.1" y2="213.5" stroke="#6a6a6a" stroke-width="1.1"/>
<text x="286.5" y="125.4" font-family="'Liberation Serif', serif" font-size="11.5" text-anchor="end" fill="#222" stroke="#222" stroke-width="0.30" font-weight="normal" font-style="normal">90</text>
<text x="286.5" y="151.7" font-family="'Liberation Serif', serif" font-size="11.5" text-anchor="end" fill="#222" stroke="#222" stroke-width="0.30" font-weight="normal" font-style="normal">45</text>
<text x="286.5" y="177.9" font-family="'Liberation Serif', serif" font-size="11.5" text-anchor="end" fill="#222" stroke="#222" stroke-width="0.30" font-weight="normal" font-style="normal">0</text>
<text x="286.5" y="204.1" font-family="'Liberation Serif', serif" font-size="11.5" text-anchor="end" fill="#222" stroke="#222" stroke-width="0.30" font-weight="normal" font-style="normal">-45</text>
<text x="286.5" y="230.4" font-family="'Liberation Serif', serif" font-size="11.5" text-anchor="end" fill="#222" stroke="#222" stroke-width="0.30" font-weight="normal" font-style="normal">-90</text>
<text x="265.3" y="169.5" font-family="'Liberation Serif', serif" font-size="11.2" text-anchor="middle" fill="#222" stroke="#222" stroke-width="0.30" font-weight="normal" font-style="normal" transform="rotate(-90 265.3 169.5)" dy="3.3">Phase/deg</text>
<text x="301.5" y="138.5" font-family="'Liberation Serif', serif" font-size="14.0" text-anchor="start" fill="#111" stroke="#111" stroke-width="0.00" font-weight="bold" font-style="normal">(d)</text>
<text x="351.3" y="150.0" font-family="'Liberation Serif', serif" font-size="10.0" text-anchor="start" fill="#d8434f" stroke="#d8434f" stroke-width="0.00" font-weight="normal" font-style="normal" textLength="20" lengthAdjust="spacingAndGlyphs">26.6°</text>
<text x="347.1" y="170.1" font-family="'Liberation Serif', serif" font-size="10.0" text-anchor="start" fill="#3f9a78" stroke="#3f9a78" stroke-width="0.00" font-weight="normal" font-style="normal" textLength="14.8" lengthAdjust="spacingAndGlyphs">1.9°</text>
<text x="371.4" y="194.4" font-family="'Liberation Serif', serif" font-size="10.0" text-anchor="start" fill="#d8434f" stroke="#d8434f" stroke-width="0.00" font-weight="normal" font-style="normal" textLength="18" lengthAdjust="spacingAndGlyphs">-24.2°</text>
<text x="365.1" y="212.4" font-family="'Liberation Serif', serif" font-size="10.0" text-anchor="start" fill="#3f9a78" stroke="#3f9a78" stroke-width="0.00" font-weight="normal" font-style="normal" textLength="23.3" lengthAdjust="spacingAndGlyphs">-79.6°</text>
<text x="418.1" y="148.6" font-family="'Liberation Serif', serif" font-size="10.0" text-anchor="start" fill="#3f9a78" stroke="#3f9a78" stroke-width="0.00" font-weight="normal" font-style="normal" textLength="21.9" lengthAdjust="spacingAndGlyphs">68.1°</text>
<text x="419.2" y="183.7" font-family="'Liberation Serif', serif" font-size="10.0" text-anchor="start" fill="#3f9a78" stroke="#3f9a78" stroke-width="0.00" font-weight="normal" font-style="normal" textLength="18.5" lengthAdjust="spacingAndGlyphs">-5.7°</text>
<line x1="459.6" y1="188.4" x2="482.7" y2="188.4" stroke="#4d4d55" stroke-width="1.3" stroke-dasharray="2.4 2.2"/>
<text x="485.0" y="191.8" font-family="'Liberation Serif', serif" font-size="10.0" text-anchor="start" fill="#222" stroke="#222" stroke-width="0.30" font-weight="normal" font-style="normal" textLength="20.8" lengthAdjust="spacingAndGlyphs">cell 1</text>
<line x1="459.6" y1="199.9" x2="482.7" y2="199.9" stroke="#3c64b4" stroke-width="1.3" stroke-dasharray="2.4 2.2"/>
<text x="485.0" y="203.3" font-family="'Liberation Serif', serif" font-size="10.0" text-anchor="start" fill="#222" stroke="#222" stroke-width="0.30" font-weight="normal" font-style="normal" textLength="20.8" lengthAdjust="spacingAndGlyphs">cell 2</text>
<line x1="459.6" y1="212.6" x2="482.7" y2="212.6" stroke="#a49c2c" stroke-width="1.3" stroke-dasharray="2.4 2.2"/>
<text x="485.0" y="216.0" font-family="'Liberation Serif', serif" font-size="10.0" text-anchor="start" fill="#222" stroke="#222" stroke-width="0.30" font-weight="normal" font-style="normal" textLength="20.8" lengthAdjust="spacingAndGlyphs">cell 3</text>
<text x="293.6" y="243.3" font-family="'Liberation Serif', serif" font-size="11.5" text-anchor="middle" fill="#222" stroke="#222" stroke-width="0.30" font-weight="normal" font-style="normal">250</text>
<text x="348.0" y="243.3" font-family="'Liberation Serif', serif" font-size="11.5" text-anchor="middle" fill="#222" stroke="#222" stroke-width="0.30" font-weight="normal" font-style="normal">300</text>
<text x="402.5" y="243.3" font-family="'Liberation Serif', serif" font-size="11.5" text-anchor="middle" fill="#222" stroke="#222" stroke-width="0.30" font-weight="normal" font-style="normal">350</text>
<text x="456.9" y="243.3" font-family="'Liberation Serif', serif" font-size="11.5" text-anchor="middle" fill="#222" stroke="#222" stroke-width="0.30" font-weight="normal" font-style="normal">400</text>
<text x="511.3" y="243.3" font-family="'Liberation Serif', serif" font-size="11.5" text-anchor="middle" fill="#222" stroke="#222" stroke-width="0.30" font-weight="normal" font-style="normal">450</text>
<text x="401.0" y="255.0" font-family="'Liberation Serif', serif" font-size="11.1" text-anchor="middle" fill="#222" stroke="#222" stroke-width="0.30" font-weight="normal" font-style="normal">Frequency/Hz</text>
<defs>
<linearGradient id="gP" x1="0" y1="0" x2="0" y2="1"><stop offset="0.000" stop-color="#800000"/><stop offset="0.050" stop-color="#b30000"/><stop offset="0.100" stop-color="#e50000"/><stop offset="0.150" stop-color="#ff1a00"/><stop offset="0.200" stop-color="#ff4c00"/><stop offset="0.250" stop-color="#ff8000"/><stop offset="0.300" stop-color="#ffb300"/><stop offset="0.350" stop-color="#ffe500"/><stop offset="0.400" stop-color="#e5ff1a"/><stop offset="0.450" stop-color="#b3ff4c"/><stop offset="0.500" stop-color="#80ff80"/><stop offset="0.550" stop-color="#4cffb3"/><stop offset="0.600" stop-color="#1affe5"/><stop offset="0.650" stop-color="#00e5ff"/><stop offset="0.700" stop-color="#00b3ff"/><stop offset="0.750" stop-color="#0080ff"/><stop offset="0.800" stop-color="#004cff"/><stop offset="0.850" stop-color="#001aff"/><stop offset="0.900" stop-color="#0000e5"/><stop offset="0.950" stop-color="#0000b3"/><stop offset="1.000" stop-color="#000080"/></linearGradient>
<linearGradient id="gV" x1="0" y1="0" x2="0" y2="1"><stop offset="0.000" stop-color="#dc1a20"/><stop offset="0.220" stop-color="#ec5a62"/><stop offset="0.500" stop-color="#ffffff"/><stop offset="0.780" stop-color="#7a7cf0"/><stop offset="1.000" stop-color="#1010dc"/></linearGradient>
<linearGradient id="gE1" x1="0" y1="0" x2="0" y2="1"><stop offset="0.000" stop-color="#bee446"/><stop offset="0.500" stop-color="#cce840"/><stop offset="1.000" stop-color="#dee632"/></linearGradient>
<linearGradient id="gE2" x1="0" y1="0" x2="0" y2="1"><stop offset="0.000" stop-color="#c2e03a"/><stop offset="0.550" stop-color="#d8e232"/><stop offset="1.000" stop-color="#e4d428"/></linearGradient>
<linearGradient id="gF3" x1="0" y1="0" x2="0" y2="1"><stop offset="0.000" stop-color="#d6d214"/><stop offset="0.500" stop-color="#e0b812"/><stop offset="1.000" stop-color="#e8a00c"/></linearGradient>
<radialGradient id="glow"><stop offset="0" stop-color="#ffffff" stop-opacity="0.95"/><stop offset="0.45" stop-color="#c8c8ff" stop-opacity="0.6"/><stop offset="1" stop-color="#0a08e2" stop-opacity="0"/></radialGradient>
</defs>
<text x="136.3" y="276.0" font-family="'Liberation Serif', serif" font-size="11.1" text-anchor="middle" fill="#2a2a2a" stroke="#2a2a2a" stroke-width="0.00" font-weight="normal" font-style="normal">unit 1 with over-damping coupling</text>
<text x="405.6" y="276.0" font-family="'Liberation Serif', serif" font-size="11.1" text-anchor="middle" fill="#2a2a2a" stroke="#2a2a2a" stroke-width="0.00" font-weight="normal" font-style="normal">unit 2 without over-damping coupling</text>
<rect x="32.50" y="281.30" width="207.50" height="79.20" fill="#86e386"/>
<rect x="102.00" y="360.00" width="12.60" height="8.50" fill="#a8d868"/>
<rect x="158.50" y="360.00" width="10.40" height="9.00" fill="#a8d868"/>
<rect x="84.20" y="368.10" width="47.80" height="103.40" fill="url(#gE1)"/>
<rect x="105.00" y="471.00" width="6.00" height="9.00" fill="#b09020"/>
<rect x="84.20" y="479.60" width="47.80" height="93.40" fill="#d41a10"/>
<rect x="140.50" y="368.80" width="48.00" height="82.40" fill="url(#gE2)"/>
<rect x="161.00" y="451.00" width="5.00" height="9.50" fill="#8a1010"/>
<rect x="140.50" y="460.00" width="48.00" height="81.50" fill="#84080e"/>
<path d="M104.8,368.1L102.6,368.4L100.4,368.6L98.1,369.0L95.9,369.4L93.8,369.8L91.8,370.3L90.1,371.0L88.5,371.7L87.2,372.6L86.2,373.6L85.6,374.8L85.4,376.1L85.4,451.0L88.5,456.2L106.3,471.5M105.5,368.1L103.6,368.4L101.8,368.6L99.9,369.0L98.1,369.4L96.4,369.8L94.8,370.3L93.3,371.0L92.1,371.7L91.0,372.6L90.2,373.6L89.7,374.8L89.5,376.1L89.5,451.0L92.1,456.2L106.7,471.5M106.1,360.1L106.1,368.1L104.7,368.4L103.2,368.6L101.8,369.0L100.4,369.4L99.0,369.8L97.8,370.3L96.6,371.0L95.6,371.7L94.8,372.6L94.2,373.6L93.8,374.8L93.7,376.1L93.7,451.0L95.6,456.2L107.0,471.5L107.0,479.5M106.7,360.1L106.7,368.1L105.7,368.4L104.7,368.6L103.6,369.0L102.6,369.4L101.6,369.8L100.7,370.3L99.9,371.0L99.2,371.7L98.6,372.6L98.2,373.6L97.9,374.8L97.8,376.1L97.8,451.0L99.2,456.2L107.2,471.5L107.2,479.5M107.4,360.1L107.4,368.1L106.7,368.4L106.1,368.6L105.5,369.0L104.9,369.4L104.3,369.8L103.7,370.3L103.2,371.0L102.8,371.7L102.4,372.6L102.1,373.6L102.0,374.8L101.9,376.1L101.9,451.0L102.8,456.2L107.5,471.5L107.5,479.5M108.0,360.1L108.0,368.1L107.8,368.4L107.5,368.6L107.3,369.0L107.1,369.4L106.9,369.8L106.7,370.3L106.5,371.0L106.3,371.7L106.2,372.6L106.1,373.6L106.1,374.8L106.0,376.1L106.0,451.0L106.3,456.2L107.8,471.5L107.8,479.5M108.6,360.1L108.6,368.1L108.8,368.4L109.0,368.6L109.2,369.0L109.3,369.4L109.5,369.8L109.7,370.3L109.8,371.0L109.9,371.7L110.0,372.6L110.1,373.6L110.1,374.8L110.2,376.1L110.2,451.0L109.9,456.2L108.2,471.5L108.2,479.5M109.2,360.1L109.2,368.1L109.8,368.4L110.4,368.6L111.0,369.0L111.6,369.4L112.1,369.8L112.6,370.3L113.1,371.0L113.5,371.7L113.8,372.6L114.1,373.6L114.2,374.8L114.3,376.1L114.3,451.0L113.4,456.2L108.5,471.5L108.5,479.5M109.9,360.1L109.9,368.1L110.9,368.4L111.8,368.6L112.8,369.0L113.8,369.4L114.7,369.8L115.6,370.3L116.4,371.0L117.1,371.7L117.6,372.6L118.1,373.6L118.3,374.8L118.4,376.1L118.4,451.0L117.0,456.2L108.8,471.5L108.8,479.5M110.5,360.1L110.5,368.1L111.9,368.4L113.3,368.6L114.7,369.0L116.0,369.4L117.3,369.8L118.6,370.3L119.7,371.0L120.6,371.7L121.4,372.6L122.0,373.6L122.4,374.8L122.5,376.1L122.5,451.0L120.5,456.2L109.0,471.5L109.0,479.5M111.1,368.1L112.9,368.4L114.7,368.6L116.5,369.0L118.3,369.4L120.0,369.8L121.5,370.3L123.0,371.0L124.2,371.7L125.2,372.6L126.0,373.6L126.5,374.8L126.7,376.1L126.7,451.0L124.1,456.2L109.3,471.5M111.8,368.1L113.9,368.4L116.1,368.6L118.4,369.0L120.5,369.4L122.6,369.8L124.5,370.3L126.2,371.0L127.8,371.7L129.0,372.6L130.0,373.6L130.6,374.8L130.8,376.1L130.8,451.0L127.6,456.2L109.7,471.5M84.5,455.3L87.9,457.7M86.4,459.7L90.0,461.7M126.9,459.6L123.3,461.8M131.1,459.7L127.3,461.7M84.2,464.3L88.2,465.5M88.3,464.2L92.3,465.6M92.5,464.0L96.3,465.8M125.0,464.1L121.2,465.7M129.2,464.2L125.2,465.6M86.1,468.8L90.3,469.4M90.2,468.8L94.4,469.4M94.3,468.7L98.5,469.5M98.5,468.5L102.5,469.7M118.9,468.6L114.9,469.6M123.1,468.7L118.9,469.5M127.2,468.8L123.0,469.4M131.3,468.9L127.1,469.3" fill="none" stroke="#1a2200" stroke-width="1.10" opacity="0.80"/>
<path d="M100.7,368.6L103.5,366.4L103.9,370.0ZM92.6,370.1L95.0,367.6L95.9,371.1ZM85.8,374.4L85.6,371.0L88.8,372.6ZM85.4,382.7L83.6,379.7L87.2,379.7ZM85.4,391.0L83.6,388.0L87.2,388.0ZM85.4,399.3L83.6,396.3L87.2,396.3ZM85.4,407.6L83.6,404.6L87.2,404.6ZM85.4,415.9L83.6,412.9L87.2,412.9ZM85.4,424.2L83.6,421.2L87.2,421.2ZM85.4,432.5L83.6,429.5L87.2,429.5ZM85.4,440.8L83.6,437.8L87.2,437.8ZM85.4,449.1L83.6,446.1L87.2,446.1ZM88.8,456.4L85.3,455.8L87.7,453.1ZM95.1,461.8L91.6,461.2L94.0,458.5ZM101.4,467.2L97.9,466.6L100.3,463.9ZM101.4,368.7L104.0,366.4L104.6,370.0ZM93.4,370.9L95.4,368.1L96.9,371.4ZM89.5,377.6L87.7,374.6L91.3,374.6ZM89.5,385.9L87.7,382.9L91.3,382.9ZM89.5,394.2L87.7,391.2L91.3,391.2ZM89.5,402.5L87.7,399.5L91.3,399.5ZM89.5,410.8L87.7,407.8L91.3,407.8ZM89.5,419.1L87.7,416.1L91.3,416.1ZM89.5,427.4L87.7,424.4L91.3,424.4ZM89.5,435.7L87.7,432.7L91.3,432.7ZM89.5,444.0L87.7,441.0L91.3,441.0ZM90.1,452.2L87.2,450.3L90.4,448.7ZM94.7,458.9L91.3,458.0L93.9,455.5ZM100.4,465.0L97.1,464.0L99.7,461.5ZM106.1,471.0L102.8,470.0L105.4,467.6ZM106.1,364.2L104.3,361.2L107.9,361.2ZM101.7,369.0L104.2,366.5L105.1,369.9ZM94.6,372.9L94.7,369.4L97.7,371.3ZM93.7,381.0L91.9,378.0L95.5,378.0ZM93.7,389.3L91.9,386.3L95.5,386.3ZM93.7,397.6L91.9,394.6L95.5,394.6ZM93.7,405.9L91.9,402.9L95.5,402.9ZM93.7,414.2L91.9,411.2L95.5,411.2ZM93.7,422.5L91.9,419.5L95.5,419.5ZM93.7,430.8L91.9,427.8L95.5,427.8ZM93.7,439.1L91.9,436.1L95.5,436.1ZM93.7,447.4L91.9,444.4L95.5,444.4ZM95.3,455.4L92.6,453.2L95.9,451.9ZM100.1,462.2L96.8,460.8L99.7,458.7ZM105.0,468.9L101.8,467.5L104.7,465.4ZM107.0,476.5L105.2,473.5L108.8,473.5ZM106.7,364.2L104.9,361.2L108.5,361.2ZM102.5,369.4L104.4,366.5L106.0,369.8ZM97.8,375.7L96.2,372.5L99.8,372.8ZM97.8,384.0L96.0,381.0L99.6,381.0ZM97.8,392.3L96.0,389.3L99.6,389.3ZM97.8,400.6L96.0,397.6L99.6,397.6ZM97.8,408.9L96.0,405.9L99.6,405.9ZM97.8,417.2L96.0,414.2L99.6,414.2ZM97.8,425.5L96.0,422.5L99.6,422.5ZM97.8,433.8L96.0,430.8L99.6,430.8ZM97.8,442.1L96.0,439.1L99.6,439.1ZM97.8,450.4L96.0,447.4L99.6,447.4ZM100.3,458.2L97.3,456.4L100.5,454.7ZM104.1,465.6L101.1,463.7L104.3,462.1ZM107.2,473.1L105.5,470.1L109.0,470.1ZM107.4,364.2L105.6,361.2L109.2,361.2ZM103.6,370.4L104.1,367.0L106.9,369.2ZM101.9,378.4L100.1,375.4L103.7,375.4ZM101.9,386.7L100.1,383.7L103.7,383.7ZM101.9,395.0L100.1,392.0L103.7,392.0ZM101.9,403.3L100.1,400.3L103.7,400.3ZM101.9,411.6L100.1,408.6L103.7,408.6ZM101.9,419.9L100.1,416.9L103.7,416.9ZM101.9,428.2L100.1,425.2L103.7,425.2ZM101.9,436.5L100.1,433.5L103.7,433.5ZM101.9,444.8L100.1,441.8L103.7,441.8ZM102.2,453.0L100.0,450.4L103.5,449.8ZM104.3,461.1L101.7,458.7L105.1,457.7ZM106.8,469.0L104.1,466.7L107.6,465.6ZM107.5,477.2L105.8,474.2L109.3,474.2ZM108.0,364.2L106.2,361.2L109.8,361.2ZM106.3,372.1L104.9,368.9L108.5,369.4ZM106.0,380.4L104.2,377.4L107.8,377.4ZM106.0,388.7L104.2,385.7L107.8,385.7ZM106.0,397.0L104.2,394.0L107.8,394.0ZM106.0,405.3L104.2,402.3L107.8,402.3ZM106.0,413.6L104.2,410.6L107.8,410.6ZM106.0,421.9L104.2,418.9L107.8,418.9ZM106.0,430.2L104.2,427.2L107.8,427.2ZM106.0,438.5L104.2,435.5L107.8,435.5ZM106.0,446.8L104.2,443.8L107.8,443.8ZM106.3,455.1L104.3,452.2L107.9,452.0ZM107.0,463.4L104.9,460.6L108.5,460.2ZM107.8,471.6L106.0,468.6L109.6,468.6ZM108.6,364.2L106.8,361.2L110.4,361.2ZM110.0,372.3L107.8,369.5L111.4,369.1ZM110.2,380.6L108.4,377.6L112.0,377.6ZM110.2,388.9L108.4,385.9L112.0,385.9ZM110.2,397.2L108.4,394.2L112.0,394.2ZM110.2,405.5L108.4,402.5L112.0,402.5ZM110.2,413.8L108.4,410.8L112.0,410.8ZM110.2,422.1L108.4,419.1L112.0,419.1ZM110.2,430.4L108.4,427.4L112.0,427.4ZM110.2,438.7L108.4,435.7L112.0,435.7ZM110.2,447.0L108.4,444.0L112.0,444.0ZM109.9,455.3L108.3,452.2L111.9,452.4ZM109.0,463.5L107.6,460.3L111.2,460.7ZM108.2,471.8L106.4,468.8L110.0,468.8ZM109.2,364.2L107.4,361.2L111.0,361.2ZM112.8,370.6L109.6,369.3L112.5,367.1ZM114.3,378.6L112.5,375.6L116.1,375.6ZM114.3,386.9L112.5,383.9L116.1,383.9ZM114.3,395.2L112.5,392.2L116.1,392.2ZM114.3,403.5L112.5,400.5L116.1,400.5ZM114.3,411.8L112.5,408.8L116.1,408.8ZM114.3,420.1L112.5,417.1L116.1,417.1ZM114.3,428.4L112.5,425.4L116.1,425.4ZM114.3,436.7L112.5,433.7L116.1,433.7ZM114.3,445.0L112.5,442.0L116.1,442.0ZM113.9,453.3L112.6,450.1L116.2,450.6ZM111.8,461.3L111.0,457.9L114.4,459.0ZM109.2,469.2L108.4,465.8L111.8,466.9ZM108.5,477.4L106.7,474.4L110.2,474.4ZM109.9,364.2L108.1,361.2L111.7,361.2ZM114.1,369.5L110.6,369.8L112.2,366.6ZM118.4,376.0L116.4,373.1L120.0,372.9ZM118.4,384.3L116.6,381.3L120.2,381.3ZM118.4,392.6L116.6,389.6L120.2,389.6ZM118.4,400.9L116.6,397.9L120.2,397.9ZM118.4,409.2L116.6,406.2L120.2,406.2ZM118.4,417.5L116.6,414.5L120.2,414.5ZM118.4,425.8L116.6,422.8L120.2,422.8ZM118.4,434.1L116.6,431.1L120.2,431.1ZM118.4,442.4L116.6,439.4L120.2,439.4ZM118.4,450.7L116.6,447.7L120.2,447.7ZM115.7,458.5L115.6,455.0L118.7,456.7ZM111.8,465.8L111.6,462.3L114.8,464.0ZM108.8,473.3L107.0,470.3L110.5,470.3ZM110.5,364.2L108.7,361.2L112.3,361.2ZM114.9,369.0L111.5,369.9L112.5,366.5ZM121.8,373.2L118.7,371.5L121.8,369.7ZM122.5,381.3L120.7,378.3L124.3,378.3ZM122.5,389.6L120.7,386.6L124.3,386.6ZM122.5,397.9L120.7,394.9L124.3,394.9ZM122.5,406.2L120.7,403.2L124.3,403.2ZM122.5,414.5L120.7,411.5L124.3,411.5ZM122.5,422.8L120.7,419.8L124.3,419.8ZM122.5,431.1L120.7,428.1L124.3,428.1ZM122.5,439.4L120.7,436.4L124.3,436.4ZM122.5,447.7L120.7,444.7L124.3,444.7ZM120.7,455.7L120.1,452.3L123.5,453.6ZM115.9,462.4L116.2,458.9L119.1,461.1ZM110.9,469.1L111.2,465.6L114.1,467.7ZM109.0,476.7L107.2,473.7L110.8,473.7ZM115.2,368.7L112.0,370.0L112.6,366.4ZM123.2,371.1L119.7,371.1L121.5,368.0ZM126.7,377.9L124.9,374.9L128.5,374.9ZM126.7,386.2L124.9,383.2L128.5,383.2ZM126.7,394.5L124.9,391.5L128.5,391.5ZM126.7,402.8L124.9,399.8L128.5,399.8ZM126.7,411.1L124.9,408.1L128.5,408.1ZM126.7,419.4L124.9,416.4L128.5,416.4ZM126.7,427.7L124.9,424.7L128.5,424.7ZM126.7,436.0L124.9,433.0L128.5,433.0ZM126.7,444.3L124.9,441.3L128.5,441.3ZM125.9,452.5L125.7,449.0L128.9,450.6ZM121.2,459.2L122.0,455.8L124.6,458.3ZM115.5,465.2L116.2,461.8L118.8,464.2ZM109.7,471.1L110.5,467.7L113.1,470.2ZM115.9,368.6L112.7,370.0L113.1,366.4ZM124.0,370.2L120.6,371.1L121.6,367.7ZM130.6,374.8L128.3,372.1L131.9,371.5ZM130.8,383.1L129.0,380.1L132.6,380.1ZM130.8,391.4L129.0,388.4L132.6,388.4ZM130.8,399.7L129.0,396.7L132.6,396.7ZM130.8,408.0L129.0,405.0L132.6,405.0ZM130.8,416.3L129.0,413.3L132.6,413.3ZM130.8,424.6L129.0,421.6L132.6,421.6ZM130.8,432.9L129.0,429.9L132.6,429.9ZM130.8,441.2L129.0,438.2L132.6,438.2ZM130.8,449.5L129.0,446.5L132.6,446.5ZM127.1,456.6L128.2,453.3L130.6,456.1ZM120.8,462.0L121.9,458.7L124.2,461.4ZM114.5,467.4L115.6,464.1L117.9,466.8ZM87.9,457.7L84.4,457.5L86.5,454.5ZM90.0,461.7L86.5,461.8L88.3,458.7ZM123.3,461.8L124.9,458.7L126.8,461.7ZM127.3,461.7L129.2,458.7L130.8,461.9ZM88.2,465.5L84.8,466.4L85.9,462.9ZM92.3,465.6L88.8,466.3L90.1,462.9ZM96.3,465.8L92.8,466.1L94.4,462.9ZM121.2,465.7L123.2,462.9L124.6,466.2ZM125.2,465.6L127.5,462.9L128.6,466.3ZM90.3,469.4L87.1,470.8L87.5,467.2ZM94.4,469.4L91.1,470.7L91.7,467.2ZM98.5,469.5L95.2,470.7L95.9,467.2ZM102.5,469.7L99.1,470.5L100.2,467.1ZM114.9,469.6L117.3,467.1L118.2,470.6ZM118.9,469.5L121.6,467.2L122.2,470.7ZM123.0,469.4L125.7,467.2L126.2,470.8ZM127.1,469.3L129.9,467.2L130.3,470.8Z" fill="#1a2200" opacity="0.80"/>
<path d="M106.3,479.6L104.0,479.9L101.5,480.2L99.1,480.6L96.7,481.2L94.5,481.9L92.3,482.8L90.4,483.9L88.7,485.3L87.3,486.9L86.3,488.8L85.6,491.0L85.4,493.6L85.4,572.0M106.7,479.6L104.7,479.9L102.7,480.2L100.7,480.6L98.8,481.2L96.9,481.9L95.2,482.8L93.6,483.9L92.3,485.3L91.1,486.9L90.3,488.8L89.7,491.0L89.5,493.6L89.5,572.0M107.0,471.6L107.0,479.6L105.4,479.9L103.9,480.2L102.3,480.6L100.8,481.2L99.4,481.9L98.1,482.8L96.8,483.9L95.8,485.3L94.9,486.9L94.2,488.8L93.8,491.0L93.7,493.6L93.7,572.0M107.2,471.6L107.2,479.6L106.2,479.9L105.1,480.2L104.0,480.6L102.9,481.2L101.9,481.9L100.9,482.8L100.0,483.9L99.3,485.3L98.7,486.9L98.2,488.8L97.9,491.0L97.8,493.6L97.8,572.0M107.5,471.6L107.5,479.6L106.9,479.9L106.3,480.2L105.6,480.6L105.0,481.2L104.3,481.9L103.8,482.8L103.3,483.9L102.8,485.3L102.4,486.9L102.2,488.8L102.0,491.0L101.9,493.6L101.9,572.0M107.8,471.6L107.8,479.6L107.6,479.9L107.4,480.2L107.2,480.6L107.0,481.2L106.8,481.9L106.6,482.8L106.5,483.9L106.3,485.3L106.2,486.9L106.1,488.8L106.1,491.0L106.0,493.6L106.0,572.0M108.2,471.6L108.2,479.6L108.4,479.9L108.6,480.2L108.8,480.6L109.1,481.2L109.3,481.9L109.5,482.8L109.7,483.9L109.8,485.3L110.0,486.9L110.1,488.8L110.1,491.0L110.2,493.6L110.2,572.0M108.5,471.6L108.5,479.6L109.1,479.9L109.8,480.2L110.5,480.6L111.1,481.2L111.8,481.9L112.4,482.8L112.9,483.9L113.4,485.3L113.7,486.9L114.0,488.8L114.2,491.0L114.3,493.6L114.3,572.0M108.8,471.6L108.8,479.6L109.9,479.9L111.0,480.2L112.1,480.6L113.2,481.2L114.2,481.9L115.2,482.8L116.1,483.9L116.9,485.3L117.5,486.9L118.0,488.8L118.3,491.0L118.4,493.6L118.4,572.0M109.0,471.6L109.0,479.6L110.6,479.9L112.2,480.2L113.7,480.6L115.2,481.2L116.7,481.9L118.1,482.8L119.3,483.9L120.4,485.3L121.3,486.9L122.0,488.8L122.4,491.0L122.5,493.6L122.5,572.0M109.3,479.6L111.3,479.9L113.3,480.2L115.3,480.6L117.3,481.2L119.2,481.9L120.9,482.8L122.5,483.9L123.9,485.3L125.1,486.9L125.9,488.8L126.5,491.0L126.7,493.6L126.7,572.0M109.7,479.6L112.1,479.9L114.5,480.2L117.0,480.6L119.4,481.2L121.7,481.9L123.8,482.8L125.7,483.9L127.4,485.3L128.8,486.9L129.9,488.8L130.6,491.0L130.8,493.6L130.8,572.0" fill="none" stroke="#3a0000" stroke-width="1.10" opacity="0.50"/>
<path d="M102.2,480.1L105.0,477.9L105.5,481.5ZM94.2,482.0L96.2,479.2L97.6,482.5ZM87.5,486.7L88.1,483.3L90.8,485.6ZM85.4,494.6L83.6,491.6L87.2,491.6ZM85.4,502.9L83.6,499.9L87.2,499.9ZM85.4,511.2L83.6,508.2L87.2,508.2ZM85.4,519.5L83.6,516.5L87.2,516.5ZM85.4,527.8L83.6,524.8L87.2,524.8ZM85.4,536.1L83.6,533.1L87.2,533.1ZM85.4,544.4L83.6,541.4L87.2,541.4ZM85.4,552.7L83.6,549.7L87.2,549.7ZM85.4,561.0L83.6,558.0L87.2,558.0ZM85.4,569.3L83.6,566.3L87.2,566.3ZM102.6,480.2L105.1,477.8L105.9,481.4ZM94.8,483.1L96.2,479.9L98.3,482.8ZM90.1,489.6L89.0,486.3L92.5,487.1ZM89.5,497.9L87.7,494.9L91.3,494.9ZM89.5,506.2L87.7,503.2L91.3,503.2ZM89.5,514.5L87.7,511.5L91.3,511.5ZM89.5,522.8L87.7,519.8L91.3,519.8ZM89.5,531.1L87.7,528.1L91.3,528.1ZM89.5,539.4L87.7,536.4L91.3,536.4ZM89.5,547.7L87.7,544.7L91.3,544.7ZM89.5,556.0L87.7,553.0L91.3,553.0ZM89.5,564.3L87.7,561.3L91.3,561.3ZM107.0,475.8L105.2,472.8L108.8,472.8ZM102.6,480.6L105.0,478.0L106.0,481.5ZM95.9,485.1L96.3,481.7L99.1,483.9ZM93.7,493.0L92.1,489.9L95.7,490.1ZM93.7,501.3L91.9,498.3L95.5,498.3ZM93.7,509.6L91.9,506.6L95.5,506.6ZM93.7,517.9L91.9,514.9L95.5,514.9ZM93.7,526.2L91.9,523.2L95.5,523.2ZM93.7,534.5L91.9,531.5L95.5,531.5ZM93.7,542.8L91.9,539.8L95.5,539.8ZM93.7,551.1L91.9,548.1L95.5,548.1ZM93.7,559.4L91.9,556.4L95.5,556.4ZM93.7,567.7L91.9,564.7L95.5,564.7ZM107.2,475.8L105.5,472.8L109.0,472.8ZM103.1,481.1L104.9,478.1L106.6,481.3ZM98.5,487.7L97.4,484.4L100.9,485.2ZM97.8,496.0L96.0,493.0L99.6,493.0ZM97.8,504.3L96.0,501.3L99.6,501.3ZM97.8,512.6L96.0,509.6L99.6,509.6ZM97.8,520.9L96.0,517.9L99.6,517.9ZM97.8,529.2L96.0,526.2L99.6,526.2ZM97.8,537.5L96.0,534.5L99.6,534.5ZM97.8,545.8L96.0,542.8L99.6,542.8ZM97.8,554.1L96.0,551.1L99.6,551.1ZM97.8,562.4L96.0,559.4L99.6,559.4ZM97.8,570.7L96.0,567.7L99.6,567.7ZM107.5,475.8L105.8,472.8L109.3,472.8ZM104.1,482.3L104.2,478.8L107.2,480.7ZM102.0,490.2L100.5,487.1L104.1,487.4ZM101.9,498.5L100.1,495.5L103.7,495.5ZM101.9,506.8L100.1,503.8L103.7,503.8ZM101.9,515.1L100.1,512.1L103.7,512.1ZM101.9,523.4L100.1,520.4L103.7,520.4ZM101.9,531.7L100.1,528.7L103.7,528.7ZM101.9,540.0L100.1,537.0L103.7,537.0ZM101.9,548.3L100.1,545.3L103.7,545.3ZM101.9,556.6L100.1,553.6L103.7,553.6ZM101.9,564.9L100.1,561.9L103.7,561.9ZM107.8,475.8L106.0,472.8L109.6,472.8ZM106.5,483.8L105.2,480.5L108.7,481.1ZM106.0,492.1L104.3,489.0L107.9,489.1ZM106.0,500.4L104.2,497.4L107.8,497.4ZM106.0,508.7L104.2,505.7L107.8,505.7ZM106.0,517.0L104.2,514.0L107.8,514.0ZM106.0,525.3L104.2,522.3L107.8,522.3ZM106.0,533.6L104.2,530.6L107.8,530.6ZM106.0,541.9L104.2,538.9L107.8,538.9ZM106.0,550.2L104.2,547.2L107.8,547.2ZM106.0,558.5L104.2,555.5L107.8,555.5ZM106.0,566.8L104.2,563.8L107.8,563.8ZM108.2,475.8L106.4,472.8L110.0,472.8ZM109.6,483.7L107.4,481.1L110.9,480.5ZM110.1,492.0L108.3,489.0L111.9,489.0ZM110.2,500.3L108.4,497.3L112.0,497.3ZM110.2,508.6L108.4,505.6L112.0,505.6ZM110.2,516.9L108.4,513.9L112.0,513.9ZM110.2,525.2L108.4,522.2L112.0,522.2ZM110.2,533.5L108.4,530.5L112.0,530.5ZM110.2,541.8L108.4,538.8L112.0,538.8ZM110.2,550.1L108.4,547.1L112.0,547.1ZM110.2,558.4L108.4,555.4L112.0,555.4ZM110.2,566.7L108.4,563.7L112.0,563.7ZM108.5,475.8L106.7,472.8L110.2,472.8ZM112.0,482.2L108.8,480.7L111.8,478.7ZM114.2,490.1L112.1,487.3L115.7,487.0ZM114.3,498.4L112.5,495.4L116.1,495.4ZM114.3,506.7L112.5,503.7L116.1,503.7ZM114.3,515.0L112.5,512.0L116.1,512.0ZM114.3,523.3L112.5,520.3L116.1,520.3ZM114.3,531.6L112.5,528.6L116.1,528.6ZM114.3,539.9L112.5,536.9L116.1,536.9ZM114.3,548.2L112.5,545.2L116.1,545.2ZM114.3,556.5L112.5,553.5L116.1,553.5ZM114.3,564.8L112.5,561.8L116.1,561.8ZM108.8,475.8L107.0,472.8L110.5,472.8ZM112.9,481.1L109.4,481.3L111.1,478.1ZM117.7,487.6L115.2,485.1L118.7,484.2ZM118.4,495.8L116.6,492.8L120.2,492.8ZM118.4,504.1L116.6,501.1L120.2,501.1ZM118.4,512.4L116.6,509.4L120.2,509.4ZM118.4,520.7L116.6,517.7L120.2,517.7ZM118.4,529.0L116.6,526.0L120.2,526.0ZM118.4,537.3L116.6,534.3L120.2,534.3ZM118.4,545.6L116.6,542.6L120.2,542.6ZM118.4,553.9L116.6,550.9L120.2,550.9ZM118.4,562.2L116.6,559.2L120.2,559.2ZM118.4,570.5L116.6,567.5L120.2,567.5ZM109.0,475.8L107.2,472.8L110.8,472.8ZM113.4,480.6L110.0,481.5L111.0,478.0ZM120.2,485.0L116.9,483.8L119.7,481.6ZM122.5,492.9L120.5,490.0L124.1,489.8ZM122.5,501.2L120.7,498.2L124.3,498.2ZM122.5,509.5L120.7,506.5L124.3,506.5ZM122.5,517.8L120.7,514.8L124.3,514.8ZM122.5,526.1L120.7,523.1L124.3,523.1ZM122.5,534.4L120.7,531.4L124.3,531.4ZM122.5,542.7L120.7,539.7L124.3,539.7ZM122.5,551.0L120.7,548.0L124.3,548.0ZM122.5,559.3L120.7,556.3L124.3,556.3ZM122.5,567.6L120.7,564.6L124.3,564.6ZM113.5,480.2L110.1,481.4L110.9,477.8ZM121.2,483.0L117.7,482.8L119.8,479.8ZM126.1,489.5L123.6,487.0L127.1,486.1ZM126.7,497.7L124.9,494.7L128.5,494.7ZM126.7,506.0L124.9,503.0L128.5,503.0ZM126.7,514.3L124.9,511.3L128.5,511.3ZM126.7,522.6L124.9,519.6L128.5,519.6ZM126.7,530.9L124.9,527.9L128.5,527.9ZM126.7,539.2L124.9,536.2L128.5,536.2ZM126.7,547.5L124.9,544.5L128.5,544.5ZM126.7,555.8L124.9,552.8L128.5,552.8ZM126.7,564.1L124.9,561.1L128.5,561.1ZM113.8,480.1L110.5,481.5L111.0,477.9ZM121.8,482.0L118.4,482.5L119.8,479.2ZM128.6,486.6L125.3,485.5L128.0,483.2ZM130.8,494.4L129.0,491.4L132.6,491.4ZM130.8,502.7L129.0,499.7L132.6,499.7ZM130.8,511.0L129.0,508.0L132.6,508.0ZM130.8,519.3L129.0,516.3L132.6,516.3ZM130.8,527.6L129.0,524.6L132.6,524.6ZM130.8,535.9L129.0,532.9L132.6,532.9ZM130.8,544.2L129.0,541.2L132.6,541.2ZM130.8,552.5L129.0,549.5L132.6,549.5ZM130.8,560.8L129.0,557.8L132.6,557.8ZM130.8,569.1L129.0,566.1L132.6,566.1Z" fill="#3a0000" opacity="0.50"/>
<path d="M160.8,368.8L144.6,382.4L141.7,387.3L141.7,426.7L144.8,432.5L162.1,451.2M161.4,368.8L148.2,382.4L145.8,387.3L145.8,426.7L148.3,432.5L162.4,451.2M161.9,360.8L161.9,368.8L151.8,382.4L150.0,387.3L150.0,426.7L151.9,432.5L162.6,451.2L162.6,459.2M162.4,360.8L162.4,368.8L155.4,382.4L154.1,387.3L154.1,426.7L155.4,432.5L162.9,451.2L162.9,459.2M162.9,360.8L162.9,368.8L159.0,382.4L158.3,387.3L158.3,426.7L159.0,432.5L163.1,451.2L163.1,459.2M163.4,360.8L163.4,368.8L162.6,382.4L162.4,387.3L162.4,426.7L162.6,432.5L163.4,451.2L163.4,459.2M164.0,360.8L164.0,368.8L166.2,382.4L166.6,387.3L166.6,426.7L166.1,432.5L163.6,451.2L163.6,459.2M164.5,360.8L164.5,368.8L169.8,382.4L170.7,387.3L170.7,426.7L169.7,432.5L163.9,451.2L163.9,459.2M165.0,360.8L165.0,368.8L173.4,382.4L174.9,387.3L174.9,426.7L173.3,432.5L164.1,451.2L164.1,459.2M165.5,360.8L165.5,368.8L177.0,382.4L179.0,387.3L179.0,426.7L176.8,432.5L164.4,451.2L164.4,459.2M166.0,368.8L180.6,382.4L183.2,387.3L183.2,426.7L180.4,432.5L164.6,451.2M166.6,368.8L184.2,382.4L187.3,387.3L187.3,426.7L183.9,432.5L164.9,451.2M142.8,435.1L146.2,437.7M187.2,435.2L183.8,437.6M140.6,439.7L144.4,441.5M144.8,439.5L148.4,441.7M181.1,439.4L177.7,441.8M185.4,439.6L181.6,441.6M142.5,444.1L146.5,445.5M146.7,444.0L150.5,445.6M150.9,443.7L154.5,445.9M179.2,443.9L175.4,445.7M183.4,444.1L179.4,445.5M187.5,444.2L183.5,445.4M140.4,448.8L144.6,449.2M144.5,448.7L148.7,449.3M148.6,448.6L152.8,449.4M152.8,448.5L156.8,449.5M173.2,448.4L169.2,449.6M177.4,448.6L173.2,449.4M181.5,448.7L177.3,449.3M185.6,448.8L181.4,449.2" fill="none" stroke="#1a1a00" stroke-width="1.10" opacity="0.80"/>
<path d="M157.7,371.5L158.8,368.2L161.1,370.9ZM151.3,376.8L152.4,373.5L154.7,376.2ZM144.9,382.1L146.1,378.8L148.4,381.6ZM141.7,389.5L139.9,386.5L143.5,386.5ZM141.7,397.8L139.9,394.8L143.5,394.8ZM141.7,406.1L139.9,403.1L143.5,403.1ZM141.7,414.4L139.9,411.4L143.5,411.4ZM141.7,422.7L139.9,419.7L143.5,419.7ZM143.7,430.5L140.7,428.7L143.9,427.0ZM148.9,436.9L145.5,435.9L148.1,433.5ZM154.5,443.0L151.1,442.0L153.8,439.6ZM160.1,449.1L156.8,448.1L159.4,445.6ZM158.5,371.8L159.3,368.4L161.9,370.9ZM152.7,377.7L153.5,374.3L156.1,376.8ZM147.4,384.0L147.1,380.5L150.3,382.1ZM145.8,392.0L144.0,389.0L147.6,389.0ZM145.8,400.3L144.0,397.3L147.6,397.3ZM145.8,408.6L144.0,405.6L147.6,405.6ZM145.8,416.9L144.0,413.9L147.6,413.9ZM145.8,425.2L144.0,422.2L147.6,422.2ZM148.6,432.9L145.4,431.6L148.2,429.4ZM153.6,439.5L150.4,438.2L153.2,436.0ZM158.6,446.2L155.3,444.8L158.2,442.7ZM161.9,364.9L160.1,361.9L163.7,361.9ZM159.2,372.4L159.6,368.9L162.5,371.0ZM154.3,379.0L154.6,375.6L157.5,377.7ZM150.4,386.3L149.7,382.8L153.1,384.1ZM150.0,394.5L148.2,391.5L151.8,391.5ZM150.0,402.8L148.2,399.8L151.8,399.8ZM150.0,411.1L148.2,408.1L151.8,408.1ZM150.0,419.4L148.2,416.4L151.8,416.4ZM150.3,427.6L147.7,425.4L151.1,424.2ZM153.5,435.3L150.4,433.6L153.5,431.8ZM157.6,442.5L154.6,440.8L157.7,439.0ZM161.7,449.7L158.7,448.0L161.8,446.2ZM162.6,457.7L160.8,454.7L164.4,454.7ZM162.4,364.9L160.6,361.9L164.2,361.9ZM160.4,372.8L160.1,369.3L163.3,370.9ZM156.5,380.1L156.3,376.6L159.5,378.3ZM154.1,388.0L152.3,385.0L155.9,385.0ZM154.1,396.3L152.3,393.3L155.9,393.3ZM154.1,404.6L152.3,401.6L155.9,401.6ZM154.1,412.9L152.3,409.9L155.9,409.9ZM154.1,421.2L152.3,418.2L155.9,418.2ZM154.8,429.4L152.3,426.9L155.8,426.1ZM157.3,437.3L154.6,435.2L157.9,433.8ZM160.4,445.0L157.6,442.9L161.0,441.5ZM162.9,452.8L161.1,449.8L164.7,449.8ZM162.9,364.9L161.1,361.9L164.7,361.9ZM161.7,373.1L160.8,369.7L164.2,370.7ZM159.4,381.0L158.5,377.7L161.9,378.7ZM158.3,389.2L156.5,386.2L160.1,386.2ZM158.3,397.5L156.5,394.5L160.1,394.5ZM158.3,405.8L156.5,402.8L160.1,402.8ZM158.3,414.1L156.5,411.1L160.1,411.1ZM158.3,422.4L156.5,419.4L160.1,419.4ZM158.8,430.7L156.6,428.0L160.2,427.5ZM160.4,438.8L158.0,436.3L161.5,435.5ZM162.2,446.9L159.8,444.4L163.3,443.6ZM163.1,455.1L161.3,452.1L164.9,452.1ZM163.4,364.9L161.6,361.9L165.2,361.9ZM163.2,373.2L161.6,370.1L165.1,370.4ZM162.6,381.5L161.0,378.4L164.6,378.6ZM162.4,389.8L160.6,386.8L164.2,386.8ZM162.4,398.1L160.6,395.1L164.2,395.1ZM162.4,406.4L160.6,403.4L164.2,403.4ZM162.4,414.7L160.6,411.7L164.2,411.7ZM162.4,423.0L160.6,420.0L164.2,420.0ZM162.5,431.3L160.7,428.4L164.3,428.3ZM162.9,439.6L160.9,436.7L164.5,436.5ZM163.2,447.9L161.3,445.0L164.9,444.8ZM163.4,456.2L161.6,453.2L165.2,453.2ZM164.0,364.9L162.2,361.9L165.8,361.9ZM164.7,373.2L162.4,370.5L166.0,369.9ZM166.0,381.4L163.8,378.7L167.3,378.1ZM166.6,389.7L164.8,386.7L168.4,386.7ZM166.6,398.0L164.8,395.0L168.4,395.0ZM166.6,406.3L164.8,403.3L168.4,403.3ZM166.6,414.6L164.8,411.6L168.4,411.6ZM166.6,422.9L164.8,419.9L168.4,419.9ZM166.2,431.1L164.7,428.0L168.3,428.3ZM165.2,439.4L163.8,436.2L167.4,436.6ZM164.1,447.6L162.7,444.4L166.3,444.9ZM163.6,455.9L161.8,452.9L165.4,452.9ZM164.5,364.9L162.7,361.9L166.3,361.9ZM166.1,372.9L163.3,370.8L166.7,369.5ZM169.1,380.7L166.3,378.5L169.7,377.2ZM170.7,388.8L168.9,385.8L172.5,385.8ZM170.7,397.1L168.9,394.1L172.5,394.1ZM170.7,405.4L168.9,402.4L172.5,402.4ZM170.7,413.7L168.9,410.7L172.5,410.7ZM170.7,422.0L168.9,419.0L172.5,419.0ZM170.1,430.2L168.8,426.9L172.4,427.6ZM167.9,438.2L167.1,434.8L170.5,435.9ZM165.5,446.1L164.6,442.7L168.1,443.8ZM163.9,454.2L162.1,451.2L165.7,451.2ZM165.0,364.9L163.2,361.9L166.8,361.9ZM167.3,372.6L164.2,371.0L167.3,369.1ZM171.7,379.7L168.6,378.0L171.6,376.2ZM174.9,387.3L172.3,384.9L175.7,383.9ZM174.9,395.6L173.1,392.6L176.7,392.6ZM174.9,403.9L173.1,400.9L176.7,400.9ZM174.9,412.2L173.1,409.2L176.7,409.2ZM174.9,420.5L173.1,417.5L176.7,417.5ZM174.3,428.7L173.4,425.3L176.9,426.3ZM171.4,436.4L171.0,432.9L174.3,434.5ZM167.7,443.9L167.4,440.4L170.6,441.9ZM164.1,451.3L162.3,448.3L165.9,448.3ZM165.5,364.9L163.7,361.9L167.3,361.9ZM168.4,372.2L165.1,371.1L167.8,368.7ZM173.7,378.5L170.4,377.4L173.2,375.1ZM178.2,385.4L175.4,383.3L178.7,382.0ZM179.0,393.6L177.2,390.6L180.8,390.6ZM179.0,401.9L177.2,398.9L180.8,398.9ZM179.0,410.2L177.2,407.2L180.8,407.2ZM179.0,418.5L177.2,415.5L180.8,415.5ZM179.0,426.8L178.4,423.3L181.7,424.6ZM175.6,434.3L175.8,430.8L178.8,432.8ZM171.0,441.2L171.2,437.7L174.2,439.7ZM166.4,448.1L166.6,444.6L169.6,446.6ZM164.4,455.8L162.6,452.8L166.2,452.8ZM169.1,371.6L165.7,370.9L168.1,368.3ZM175.1,377.3L171.7,376.6L174.2,373.9ZM181.0,383.1L178.0,381.3L181.2,379.6ZM183.2,390.9L181.4,387.9L185.0,387.9ZM183.2,399.2L181.4,396.2L185.0,396.2ZM183.2,407.5L181.4,404.5L185.0,404.5ZM183.2,415.8L181.4,412.8L185.0,412.8ZM183.2,424.1L181.4,421.1L185.0,421.1ZM180.7,431.8L180.4,428.4L183.6,429.9ZM175.5,438.3L176.1,434.8L178.8,437.2ZM170.2,444.6L170.7,441.2L173.5,443.5ZM164.8,451.0L165.4,447.5L168.1,449.9ZM169.8,371.3L166.4,370.9L168.6,368.1ZM176.4,376.4L172.9,376.0L175.1,373.1ZM183.0,381.5L179.5,381.1L181.7,378.2ZM187.3,388.3L185.5,385.3L189.1,385.3ZM187.3,396.6L185.5,393.6L189.1,393.6ZM187.3,404.9L185.5,401.9L189.1,401.9ZM187.3,413.2L185.5,410.2L189.1,410.2ZM187.3,421.5L185.5,418.5L189.1,418.5ZM185.8,429.4L185.7,425.9L188.8,427.7ZM180.6,435.8L181.5,432.4L184.0,435.0ZM174.7,441.6L175.6,438.2L178.1,440.8ZM168.7,447.4L169.6,444.0L172.2,446.6ZM146.2,437.7L142.7,437.3L144.9,434.4ZM183.8,437.6L185.2,434.4L187.3,437.4ZM144.4,441.5L140.9,441.8L142.5,438.6ZM148.4,441.7L144.9,441.6L146.8,438.6ZM177.7,441.8L179.2,438.6L181.1,441.6ZM181.6,441.6L183.5,438.6L185.1,441.8ZM146.5,445.5L143.1,446.2L144.2,442.8ZM150.5,445.6L147.1,446.1L148.5,442.8ZM154.5,445.9L151.0,445.9L152.8,442.8ZM175.4,445.7L177.4,442.8L178.9,446.1ZM179.4,445.5L181.6,442.8L182.9,446.2ZM183.5,445.4L185.9,442.8L186.9,446.3ZM144.6,449.2L141.4,450.7L141.8,447.1ZM148.7,449.3L145.5,450.7L145.9,447.1ZM152.8,449.4L149.5,450.6L150.1,447.1ZM156.8,449.5L153.5,450.5L154.4,447.0ZM169.2,449.6L171.6,447.0L172.6,450.5ZM173.2,449.4L175.9,447.1L176.5,450.6ZM177.3,449.3L180.0,447.1L180.5,450.7ZM181.4,449.2L184.2,447.1L184.6,450.7Z" fill="#1a1a00" opacity="0.80"/>
<path d="M162.1,460.0L159.8,460.3L157.4,460.6L155.1,461.0L152.7,461.6L150.5,462.3L148.5,463.2L146.6,464.3L145.0,465.7L143.6,467.3L142.6,469.2L141.9,471.4L141.7,474.0L141.7,540.5M162.4,460.0L160.5,460.3L158.6,460.6L156.7,461.0L154.8,461.6L153.0,462.3L151.3,463.2L149.8,464.3L148.5,465.7L147.4,467.3L146.6,469.2L146.0,471.4L145.8,474.0L145.8,540.5M162.6,452.0L162.6,460.0L161.2,460.3L159.7,460.6L158.3,461.0L156.8,461.6L155.5,462.3L154.2,463.2L153.0,464.3L152.0,465.7L151.2,467.3L150.5,469.2L150.1,471.4L150.0,474.0L150.0,540.5M162.9,452.0L162.9,460.0L161.9,460.3L160.9,460.6L159.9,461.0L158.9,461.6L157.9,462.3L157.0,463.2L156.2,464.3L155.5,465.7L154.9,467.3L154.5,469.2L154.2,471.4L154.1,474.0L154.1,540.5M163.1,452.0L163.1,460.0L162.6,460.3L162.0,460.6L161.4,461.0L160.9,461.6L160.4,462.3L159.9,463.2L159.4,464.3L159.1,465.7L158.7,467.3L158.5,469.2L158.3,471.4L158.3,474.0L158.3,540.5M163.4,452.0L163.4,460.0L163.3,460.3L163.2,460.6L163.0,461.0L162.9,461.6L162.8,462.3L162.7,463.2L162.7,464.3L162.6,465.7L162.5,467.3L162.5,469.2L162.4,471.4L162.4,474.0L162.4,540.5M163.6,452.0L163.6,460.0L164.0,460.3L164.3,460.6L164.6,461.0L165.0,461.6L165.3,462.3L165.6,463.2L165.9,464.3L166.1,465.7L166.3,467.3L166.4,469.2L166.5,471.4L166.6,474.0L166.6,540.5M163.9,452.0L163.9,460.0L164.7,460.3L165.5,460.6L166.2,461.0L167.0,461.6L167.8,462.3L168.5,463.2L169.1,464.3L169.6,465.7L170.1,467.3L170.4,469.2L170.6,471.4L170.7,474.0L170.7,540.5M164.1,452.0L164.1,460.0L165.4,460.3L166.6,460.6L167.8,461.0L169.1,461.6L170.2,462.3L171.3,463.2L172.3,464.3L173.2,465.7L173.9,467.3L174.4,469.2L174.7,471.4L174.9,474.0L174.9,540.5M164.4,452.0L164.4,460.0L166.0,460.3L167.7,460.6L169.4,461.0L171.1,461.6L172.7,462.3L174.2,463.2L175.5,464.3L176.7,465.7L177.6,467.3L178.4,469.2L178.8,471.4L179.0,474.0L179.0,540.5M164.6,460.0L166.7,460.3L168.9,460.6L171.0,461.0L173.1,461.6L175.1,462.3L177.0,463.2L178.7,464.3L180.2,465.7L181.4,467.3L182.4,469.2L182.9,471.4L183.2,474.0L183.2,540.5M164.9,460.0L167.4,460.3L170.0,460.6L172.6,461.0L175.2,461.6L177.6,462.3L179.9,463.2L181.9,464.3L183.7,465.7L185.2,467.3L186.3,469.2L187.1,471.4L187.3,474.0L187.3,540.5" fill="none" stroke="#2a0000" stroke-width="1.10" opacity="0.35"/>
<path d="M158.0,460.5L160.7,458.3L161.2,461.9ZM150.0,462.6L152.0,459.7L153.5,463.0ZM143.5,467.5L143.3,464.0L146.5,465.7ZM141.7,475.5L139.9,472.5L143.5,472.5ZM141.7,483.8L139.9,480.8L143.5,480.8ZM141.7,492.1L139.9,489.1L143.5,489.1ZM141.7,500.4L139.9,497.4L143.5,497.4ZM141.7,508.7L139.9,505.7L143.5,505.7ZM141.7,517.0L139.9,514.0L143.5,514.0ZM141.7,525.3L139.9,522.3L143.5,522.3ZM141.7,533.6L139.9,530.6L143.5,530.6ZM158.3,460.7L160.8,458.3L161.6,461.8ZM150.6,463.7L152.0,460.5L154.1,463.4ZM146.2,470.5L145.2,467.2L148.7,468.0ZM145.8,478.8L144.0,475.8L147.6,475.8ZM145.8,487.1L144.0,484.1L147.6,484.1ZM145.8,495.4L144.0,492.4L147.6,492.4ZM145.8,503.7L144.0,500.7L147.6,500.7ZM145.8,512.0L144.0,509.0L147.6,509.0ZM145.8,520.3L144.0,517.3L147.6,517.3ZM145.8,528.6L144.0,525.6L147.6,525.6ZM145.8,536.9L144.0,533.9L147.6,533.9ZM162.6,456.1L160.8,453.1L164.4,453.1ZM158.3,461.0L160.7,458.5L161.7,461.9ZM151.9,466.0L151.6,462.5L154.8,464.1ZM150.0,473.9L148.4,470.8L152.0,471.0ZM150.0,482.2L148.2,479.2L151.8,479.2ZM150.0,490.5L148.2,487.5L151.8,487.5ZM150.0,498.8L148.2,495.8L151.8,495.8ZM150.0,507.1L148.2,504.1L151.8,504.1ZM150.0,515.4L148.2,512.4L151.8,512.4ZM150.0,523.7L148.2,520.7L151.8,520.7ZM150.0,532.0L148.2,529.0L151.8,529.0ZM150.0,540.3L148.2,537.3L151.8,537.3ZM162.9,456.1L161.1,453.1L164.7,453.1ZM158.8,461.7L160.1,458.4L162.3,461.3ZM154.6,468.6L153.6,465.3L157.1,466.1ZM154.1,476.9L152.3,473.9L155.9,473.9ZM154.1,485.2L152.3,482.2L155.9,482.2ZM154.1,493.5L152.3,490.5L155.9,490.5ZM154.1,501.8L152.3,498.8L155.9,498.8ZM154.1,510.1L152.3,507.1L155.9,507.1ZM154.1,518.4L152.3,515.4L155.9,515.4ZM154.1,526.7L152.3,523.7L155.9,523.7ZM154.1,535.0L152.3,532.0L155.9,532.0ZM163.1,456.1L161.3,453.1L164.9,453.1ZM160.0,463.0L159.9,459.5L163.0,461.3ZM158.4,471.1L156.8,468.0L160.4,468.2ZM158.3,479.4L156.5,476.4L160.1,476.4ZM158.3,487.7L156.5,484.7L160.1,484.7ZM158.3,496.0L156.5,493.0L160.1,493.0ZM158.3,504.3L156.5,501.3L160.1,501.3ZM158.3,512.6L156.5,509.6L160.1,509.6ZM158.3,520.9L156.5,517.9L160.1,517.9ZM158.3,529.2L156.5,526.2L160.1,526.2ZM158.3,537.5L156.5,534.5L160.1,534.5ZM163.4,456.1L161.6,453.1L165.2,453.1ZM162.7,464.4L161.0,461.3L164.6,461.5ZM162.4,472.7L160.6,469.7L164.2,469.7ZM162.4,481.0L160.6,478.0L164.2,478.0ZM162.4,489.3L160.6,486.3L164.2,486.3ZM162.4,497.6L160.6,494.6L164.2,494.6ZM162.4,505.9L160.6,502.9L164.2,502.9ZM162.4,514.2L160.6,511.2L164.2,511.2ZM162.4,522.5L160.6,519.5L164.2,519.5ZM162.4,530.8L160.6,527.8L164.2,527.8ZM162.4,539.1L160.6,536.1L164.2,536.1ZM163.6,456.1L161.8,453.1L165.4,453.1ZM165.7,463.8L163.3,461.3L166.8,460.5ZM166.5,472.0L164.7,469.1L168.3,469.0ZM166.6,480.3L164.8,477.3L168.4,477.3ZM166.6,488.6L164.8,485.6L168.4,485.6ZM166.6,496.9L164.8,493.9L168.4,493.9ZM166.6,505.2L164.8,502.2L168.4,502.2ZM166.6,513.5L164.8,510.5L168.4,510.5ZM166.6,521.8L164.8,518.8L168.4,518.8ZM166.6,530.1L164.8,527.1L168.4,527.1ZM166.6,538.4L164.8,535.4L168.4,535.4ZM163.9,456.1L162.1,453.1L165.7,453.1ZM167.7,462.2L164.3,461.5L166.7,458.9ZM170.5,469.9L168.4,467.1L172.0,466.7ZM170.7,478.2L168.9,475.2L172.5,475.2ZM170.7,486.5L168.9,483.5L172.5,483.5ZM170.7,494.8L168.9,491.8L172.5,491.8ZM170.7,503.1L168.9,500.1L172.5,500.1ZM170.7,511.4L168.9,508.4L172.5,508.4ZM170.7,519.7L168.9,516.7L172.5,516.7ZM170.7,528.0L168.9,525.0L172.5,525.0ZM170.7,536.3L168.9,533.3L172.5,533.3ZM164.1,456.1L162.3,453.1L165.9,453.1ZM168.4,461.3L164.9,461.7L166.4,458.4ZM173.8,467.2L171.0,465.2L174.3,463.7ZM174.9,475.4L173.1,472.4L176.7,472.4ZM174.9,483.7L173.1,480.7L176.7,480.7ZM174.9,492.0L173.1,489.0L176.7,489.0ZM174.9,500.3L173.1,497.3L176.7,497.3ZM174.9,508.6L173.1,505.6L176.7,505.6ZM174.9,516.9L173.1,513.9L176.7,513.9ZM174.9,525.2L173.1,522.2L176.7,522.2ZM174.9,533.5L173.1,530.5L176.7,530.5ZM164.4,456.1L162.6,453.1L166.2,453.1ZM168.7,460.9L165.4,461.9L166.3,458.4ZM175.9,464.8L172.6,463.7L175.3,461.3ZM178.9,472.3L176.9,469.5L180.5,469.2ZM179.0,480.6L177.2,477.6L180.8,477.6ZM179.0,488.9L177.2,485.9L180.8,485.9ZM179.0,497.2L177.2,494.2L180.8,494.2ZM179.0,505.5L177.2,502.5L180.8,502.5ZM179.0,513.8L177.2,510.8L180.8,510.8ZM179.0,522.1L177.2,519.1L180.8,519.1ZM179.0,530.4L177.2,527.4L180.8,527.4ZM179.0,538.7L177.2,535.7L180.8,535.7ZM168.7,460.6L165.5,461.9L166.1,458.3ZM176.6,463.0L173.1,463.4L174.7,460.1ZM182.2,468.9L179.3,467.0L182.5,465.4ZM183.2,477.1L181.4,474.1L185.0,474.1ZM183.2,485.4L181.4,482.4L185.0,482.4ZM183.2,493.7L181.4,490.7L185.0,490.7ZM183.2,502.0L181.4,499.0L185.0,499.0ZM183.2,510.3L181.4,507.3L185.0,507.3ZM183.2,518.6L181.4,515.6L185.0,515.6ZM183.2,526.9L181.4,523.9L185.0,523.9ZM183.2,535.2L181.4,532.2L185.0,532.2ZM169.0,460.5L165.8,461.9L166.3,458.3ZM177.1,462.2L173.7,463.1L174.7,459.6ZM184.2,466.2L180.9,465.2L183.5,462.8ZM187.3,473.7L185.2,470.9L188.8,470.6ZM187.3,482.0L185.5,479.0L189.1,479.0ZM187.3,490.3L185.5,487.3L189.1,487.3ZM187.3,498.6L185.5,495.6L189.1,495.6ZM187.3,506.9L185.5,503.9L189.1,503.9ZM187.3,515.2L185.5,512.2L189.1,512.2ZM187.3,523.5L185.5,520.5L189.1,520.5ZM187.3,531.8L185.5,528.8L189.1,528.8ZM187.3,540.1L185.5,537.1L189.1,537.1Z" fill="#2a0000" opacity="0.35"/>
<path d="M91.5,287.8L92.9,290.2M95.6,287.7L96.9,290.3M99.7,287.6L100.9,290.4M103.8,287.6L104.9,290.4M107.9,287.5L108.9,290.5M112.0,287.4L112.9,290.6M116.1,287.4L116.9,290.6M120.2,287.3L120.9,290.7M124.3,287.3L124.9,290.7M128.4,287.3L128.9,290.7M132.6,287.2L132.8,290.8M136.7,287.2L136.8,290.8M140.8,287.2L140.8,290.8M144.9,287.2L144.8,290.8M149.0,287.1L148.8,290.9M153.2,287.1L152.7,290.9M157.3,287.1L156.7,290.9M161.4,287.1L160.7,290.9M165.5,287.2L164.7,290.8M169.6,287.2L168.7,290.8M173.7,287.2L172.7,290.8M177.9,287.2L176.6,290.8M182.0,287.3L180.6,290.7M186.0,287.3L184.7,290.7M190.1,287.4L188.7,290.6M194.2,287.5L192.7,290.5M198.3,287.5L196.7,290.5M202.3,287.6L200.8,290.4M206.4,287.7L204.8,290.3M210.5,287.7L208.8,290.3M214.5,287.8L212.9,290.2M218.6,287.8L216.9,290.2M83.3,296.1L84.9,298.5M87.3,296.0L89.0,298.6M91.4,295.9L93.0,298.7M95.5,295.9L97.0,298.7M99.6,295.8L101.0,298.8M103.7,295.7L105.0,298.9M107.8,295.6L109.0,299.0M111.9,295.6L113.0,299.0M116.0,295.5L117.0,299.1M120.2,295.5L120.9,299.1M124.3,295.4L124.9,299.2M128.4,295.4L128.9,299.2M132.5,295.3L132.9,299.3M136.7,295.3L136.8,299.3M186.2,295.5L184.5,299.1M190.3,295.6L188.5,299.0M194.4,295.7L192.5,298.9M198.4,295.8L196.6,298.8M202.5,295.8L200.6,298.8M206.5,295.9L204.7,298.7M210.6,296.0L208.7,298.6M214.6,296.1L212.8,298.5M218.7,296.1L216.8,298.5M222.7,296.2L220.9,298.4M70.9,304.6L73.0,306.6M75.0,304.5L77.0,306.7M79.0,304.4L81.1,306.8M83.1,304.3L85.1,306.9M87.2,304.2L89.1,307.0M91.3,304.1L93.1,307.1M95.4,304.0L97.1,307.2M99.5,303.9L101.1,307.3M103.6,303.8L105.1,307.4M107.7,303.7L109.1,307.5M198.6,304.0L196.4,307.2M202.7,304.1L200.4,307.1M206.7,304.2L204.5,307.0M210.7,304.3L208.6,306.9M214.8,304.3L212.6,306.9M218.8,304.4L216.7,306.8M222.8,304.5L220.8,306.7M226.9,304.6L224.8,306.6M62.7,313.1L65.0,314.7M66.7,313.0L69.1,314.8M70.7,312.9L73.2,314.9M74.8,312.8L77.2,315.0M78.8,312.7L81.3,315.1M82.9,312.5L85.3,315.3M86.9,312.4L89.4,315.4M206.9,312.5L204.3,315.3M210.9,312.6L208.4,315.2M214.9,312.7L212.5,315.1M219.0,312.7L216.5,315.1M223.0,312.8L220.6,315.0M227.0,312.9L224.7,314.9M231.0,312.9L228.8,314.9M58.5,321.5L61.1,322.9M62.5,321.4L65.2,323.0M66.5,321.3L69.3,323.1M70.5,321.2L73.4,323.2M74.5,321.1L77.5,323.3M78.5,320.9L81.6,323.5M211.1,320.9L208.2,323.5M215.1,321.0L212.3,323.4M219.1,321.1L216.4,323.3M223.1,321.2L220.5,323.2M227.1,321.2L224.6,323.2M231.1,321.3L228.7,323.1M235.1,321.4L232.8,323.0M54.4,330.0L57.1,331.0M58.4,329.9L61.2,331.1M62.3,329.8L65.4,331.2M66.3,329.7L69.5,331.3M70.2,329.6L73.7,331.4M215.3,329.4L212.1,331.6M219.3,329.5L216.2,331.5M223.2,329.6L220.4,331.4M227.2,329.6L224.5,331.4M231.2,329.7L228.6,331.3M235.2,329.7L232.7,331.3M50.3,338.4L53.1,339.2M54.3,338.4L57.2,339.2M58.2,338.3L61.4,339.3M62.1,338.2L65.6,339.4M66.0,338.2L69.8,339.4M219.4,337.9L216.1,339.7M223.4,338.0L220.2,339.6M227.3,338.1L224.4,339.5M231.3,338.1L228.5,339.5M235.2,338.2L232.7,339.4M50.2,346.9L53.2,347.3M54.2,346.9L57.3,347.3M58.1,346.8L61.5,347.4M62.0,346.8L65.7,347.4M128.9,345.3L128.4,348.9M132.5,345.5L132.9,348.7M136.2,345.5L137.3,348.7M219.5,346.4L216.0,347.8M223.4,346.5L220.2,347.7M227.4,346.5L224.3,347.7M231.3,346.6L228.5,347.6M235.3,346.6L232.6,347.6M46.2,355.4L49.1,355.4M50.2,355.4L53.2,355.4M54.1,355.4L57.4,355.4M58.0,355.4L61.6,355.4M61.9,355.3L65.8,355.5M126.0,354.8L123.2,356.0M219.6,355.0L215.9,355.8M223.5,355.0L220.1,355.8M227.4,355.0L224.3,355.8M231.3,355.0L228.5,355.8M235.3,355.0L232.6,355.8" fill="none" stroke="#16301a" stroke-width="0.70" opacity="0.22" stroke-linecap="round"/>
<path d="M140.8,295.3L140.8,299.3M144.9,295.3L144.8,299.3M149.1,295.2L148.7,299.4M153.2,295.2L152.7,299.4M157.3,295.2L156.7,299.4M161.5,295.2L160.6,299.4M165.6,295.2L164.6,299.4M169.7,295.3L168.6,299.3M173.9,295.3L172.5,299.3M178.0,295.4L176.5,299.2M182.1,295.4L180.5,299.2M111.8,303.7L113.1,307.5M116.0,303.6L117.0,307.6M120.1,303.6L121.0,307.6M124.2,303.5L125.0,307.7M128.4,303.5L128.9,307.7M132.5,303.4L132.9,307.8M136.6,303.4L136.9,307.8M140.8,303.4L140.8,307.8M144.9,303.3L144.8,307.9M149.1,303.3L148.7,307.9M153.2,303.3L152.7,307.9M157.4,303.3L156.6,307.9M161.5,303.3L160.6,307.9M165.7,303.3L164.5,307.9M169.9,303.3L168.4,307.9M174.0,303.4L172.4,307.8M178.1,303.5L176.4,307.7M182.3,303.5L180.3,307.7M186.4,303.6L184.3,307.6M190.5,303.8L188.3,307.4M194.5,303.9L192.4,307.3M91.0,312.2L93.4,315.6M95.1,312.1L97.4,315.7M99.3,312.0L101.3,315.8M103.4,311.9L105.3,315.9M107.6,311.8L109.2,316.0M111.7,311.7L113.2,316.1M115.9,311.7L117.1,316.1M120.0,311.6L121.1,316.2M124.2,311.6L125.0,316.2M128.3,311.5L129.0,316.3M132.4,311.5L133.0,316.3M136.6,311.5L136.9,316.3M140.7,311.4L140.9,316.4M144.9,311.4L144.8,316.4M149.0,311.3L148.8,316.5M153.2,311.2L152.7,316.6M157.4,311.2L156.6,316.6M161.6,311.2L160.5,316.6M165.8,311.2L164.4,316.6M170.0,311.3L168.3,316.5M174.2,311.4L172.2,316.4M178.4,311.5L176.1,316.3M182.5,311.6L180.1,316.2M186.6,311.8L184.1,316.0M190.7,311.9L188.1,315.9M194.8,312.1L192.1,315.7M198.8,312.2L196.2,315.6M202.9,312.3L200.2,315.5M82.6,320.7L85.6,323.7M86.6,320.5L89.7,323.9M90.7,320.3L93.7,324.1M94.8,320.2L97.7,324.2M99.0,320.0L101.6,324.4M103.2,319.8L105.5,324.6M107.4,319.7L109.4,324.7M111.6,319.7L113.3,324.7M115.8,319.6L117.2,324.8M120.0,319.6L121.1,324.8M124.2,319.6L125.0,324.8M128.3,319.6L129.0,324.8M132.4,319.6L133.0,324.8M136.5,319.6L137.0,324.8M140.6,319.5L141.0,324.9M144.8,319.4L144.9,325.0M148.9,319.2L148.9,325.2M153.2,319.1L152.7,325.3M157.4,319.0L156.6,325.4M161.7,319.0L160.4,325.4M166.0,319.0L164.2,325.4M170.3,319.1L168.0,325.3M174.5,319.3L171.9,325.1M178.7,319.4L175.8,325.0M182.9,319.6L179.7,324.8M187.0,319.9L183.7,324.5M191.1,320.1L187.7,324.3M195.1,320.3L191.8,324.1M199.1,320.5L195.9,323.9M203.1,320.6L200.0,323.8M207.1,320.8L204.1,323.6M74.2,329.4L77.8,331.6M78.2,329.2L81.9,331.8M82.2,329.0L86.0,332.0M86.2,328.7L90.1,332.3M90.2,328.4L94.2,332.6M94.4,328.1L98.1,332.9M98.6,327.8L102.0,333.2M102.9,327.6L105.8,333.4M107.2,327.5L109.6,333.5M111.6,327.4L113.3,333.6M115.9,327.5L117.1,333.5M120.1,327.6L121.0,333.4M124.2,327.7L125.0,333.3M128.3,327.8L129.0,333.2M132.4,327.8L133.0,333.2M136.4,327.8L137.1,333.2M140.5,327.6L141.1,333.4M144.5,327.4L145.2,333.6M148.7,327.2L149.1,333.8M152.9,326.9L153.0,334.1M157.3,326.6L156.7,334.4M179.3,327.3L175.2,333.7M183.5,327.6L179.1,333.4M187.6,328.0L183.1,333.0M191.6,328.3L187.2,332.7M195.6,328.6L191.3,332.4M199.5,328.8L195.5,332.2M203.5,329.0L199.6,332.0M207.4,329.2L203.8,331.8M211.4,329.3L207.9,331.7M69.9,338.0L74.0,339.6M73.8,337.8L78.2,339.8M77.7,337.6L82.4,340.0M81.6,337.3L86.6,340.3M85.5,337.0L90.8,340.6M89.4,336.5L95.0,341.1M116.3,335.1L116.7,342.5M120.5,335.6L120.6,342.0M124.6,336.0L124.6,341.6M128.5,336.3L128.8,341.3M132.4,336.4L133.0,341.2M136.3,336.3L137.2,341.3M140.1,336.1L141.5,341.5M144.0,335.7L145.7,341.9M148.0,335.2L149.8,342.4M188.4,336.2L182.3,341.4M192.3,336.7L186.5,340.9M196.1,337.0L190.8,340.6M199.9,337.3L195.1,340.3M203.8,337.5L199.3,340.1M207.7,337.6L203.5,340.0M211.6,337.8L207.7,339.8M215.5,337.9L211.9,339.7M65.8,346.7L70.0,347.5M69.7,346.6L74.2,347.6M73.5,346.5L78.5,347.7M77.2,346.3L82.9,347.9M80.9,346.0L87.3,348.2M84.5,345.6L91.8,348.6M121.8,344.1L119.3,350.1M125.4,344.9L123.8,349.3M139.7,345.2L141.9,349.0M143.1,344.7L146.6,349.5M193.0,345.5L185.8,348.7M196.6,345.8L190.3,348.4M200.3,346.0L194.7,348.2M204.1,346.1L199.0,348.1M207.9,346.2L203.3,348.0M211.7,346.3L207.6,347.9M215.6,346.4L211.8,347.8M65.7,355.3L70.1,355.5M69.6,355.3L74.3,355.5M73.3,355.3L78.7,355.5M76.9,355.2L83.2,355.6M80.5,355.2L87.7,355.6M123.5,354.5L117.6,356.3M142.5,354.7L147.2,356.1M196.9,354.8L190.0,356.0M200.5,354.8L194.5,356.0M204.2,354.9L198.9,355.9M208.0,354.9L203.2,355.9M211.8,354.9L207.5,355.9M215.7,355.0L211.7,355.8" fill="none" stroke="#16301a" stroke-width="0.80" opacity="0.55" stroke-linecap="round"/>
<path d="M161.7,326.5L160.4,334.5M166.2,326.5L164.0,334.5M170.7,326.6L167.6,334.4M175.1,326.9L171.3,334.1M93.4,335.9L99.1,341.7M97.7,335.3L102.9,342.3M102.3,334.8L106.4,342.8M107.0,334.6L109.8,343.0M111.7,334.7L113.2,342.9M152.2,334.4L153.7,343.2M156.7,333.7L157.3,343.9M161.5,333.1L160.6,344.5M166.6,333.0L163.6,344.6M171.6,333.4L166.7,344.2M176.2,334.2L170.2,343.4M180.5,335.0L174.0,342.6M184.5,335.7L178.1,341.9M88.0,345.0L96.4,349.2M91.5,344.0L101.0,350.2M95.3,342.3L105.3,351.9M100.2,340.3L108.5,353.9M106.8,339.3L110.0,354.9M113.2,340.5L111.7,353.7M118.0,342.6L115.0,351.6M146.5,343.8L151.3,350.4M149.9,342.2L156.0,352.0M154.0,339.7L160.0,354.5M160.2,339.1L161.9,355.1M167.1,339.4L163.1,354.8M173.5,340.4L164.8,353.8M179.0,341.6L167.4,352.6M182.8,343.1L171.7,351.1M186.1,344.3L176.5,349.9M189.5,345.0L181.2,349.2M83.8,355.0L92.5,355.8M86.7,354.9L97.7,355.9M88.8,354.4L103.7,356.4M92.4,353.9L108.2,356.9M96.9,352.6L111.8,358.2M108.1,347.4L108.7,363.4M119.7,352.0L105.2,358.8M122.5,353.6L110.5,357.2M144.9,354.4L152.9,356.4M146.1,353.7L159.8,357.1M149.4,353.0L164.6,357.8M154.4,350.9L167.7,359.9M170.5,349.5L159.7,361.3M176.8,353.1L161.5,357.7M181.0,353.8L165.4,357.0M185.1,354.1L169.4,356.7M187.5,354.4L175.1,356.4M190.3,354.6L180.4,356.2M193.5,354.7L185.3,356.1" fill="none" stroke="#16301a" stroke-width="0.95" opacity="0.90" stroke-linecap="round"/>
<path d="M132.8,290.8L131.7,289.0L133.7,288.8ZM136.8,290.8L135.7,288.9L137.8,288.9ZM140.8,290.8L139.7,288.9L141.9,288.9ZM144.8,290.8L143.8,288.9L145.9,289.0ZM148.8,290.9L147.8,288.9L150.0,289.0ZM152.7,290.9L151.9,288.8L154.0,289.1ZM156.7,290.9L156.0,288.8L158.1,289.1ZM160.7,290.9L160.0,288.8L162.1,289.1ZM164.7,290.8L164.1,288.7L166.2,289.2ZM168.7,290.8L168.1,288.7L170.2,289.2ZM172.7,290.8L172.2,288.6L174.2,289.3ZM176.6,290.8L176.3,288.6L178.3,289.3ZM180.6,290.7L180.3,288.6L182.3,289.3ZM184.7,290.7L184.4,288.5L186.4,289.3ZM188.7,290.6L188.5,288.5L190.4,289.3ZM109.0,299.0L107.4,297.5L109.3,296.8ZM113.0,299.0L111.4,297.5L113.4,296.9ZM117.0,299.1L115.5,297.5L117.5,297.0ZM120.9,299.1L119.5,297.5L121.6,297.0ZM124.9,299.2L123.5,297.4L125.7,297.1ZM128.9,299.2L127.6,297.4L129.7,297.1ZM132.9,299.3L131.6,297.4L133.8,297.2ZM136.8,299.3L135.7,297.3L137.8,297.2ZM184.5,299.1L184.4,296.8L186.3,297.8ZM188.5,299.0L188.5,296.8L190.4,297.8ZM192.5,298.9L192.6,296.7L194.4,297.8ZM196.6,298.8L196.7,296.7L198.4,297.8ZM93.1,307.1L91.3,306.1L93.0,304.9ZM97.1,307.2L95.3,306.0L97.1,305.0ZM101.1,307.3L99.3,306.0L101.2,305.1ZM105.1,307.4L103.3,306.0L105.3,305.1ZM109.1,307.5L107.4,306.0L109.4,305.2ZM196.4,307.2L196.6,305.0L198.4,306.2ZM200.4,307.1L200.7,304.9L202.4,306.2ZM204.5,307.0L204.8,304.9L206.5,306.2ZM85.3,315.3L83.3,314.5L84.8,313.1ZM89.4,315.4L87.3,314.5L89.0,313.2ZM204.3,315.3L204.8,313.2L206.4,314.6ZM208.4,315.2L208.9,313.1L210.5,314.6ZM212.5,315.1L213.1,313.1L214.5,314.5ZM77.5,323.3L75.3,323.0L76.6,321.3ZM81.6,323.5L79.3,323.0L80.8,321.4ZM208.2,323.5L208.9,321.4L210.4,323.0ZM212.3,323.4L213.1,321.3L214.4,323.0ZM216.4,323.3L217.2,321.3L218.5,322.9ZM69.5,331.3L67.3,331.4L68.3,329.5ZM73.7,331.4L71.4,331.4L72.4,329.5ZM212.1,331.6L213.1,329.6L214.3,331.4ZM216.2,331.5L217.2,329.6L218.4,331.3ZM65.6,339.4L63.4,339.8L64.1,337.8ZM69.8,339.4L67.5,339.8L68.2,337.8ZM216.1,339.7L217.3,337.8L218.3,339.7ZM65.7,347.4L63.6,348.1L64.0,346.0ZM128.4,348.9L127.6,346.8L129.7,347.2ZM137.3,348.7L135.7,347.3L137.7,346.6ZM216.0,347.8L217.4,346.1L218.2,348.1ZM61.6,355.4L59.7,356.4L59.7,354.4ZM65.8,355.5L63.8,356.5L63.9,354.3ZM215.9,355.8L217.6,354.4L218.1,356.4Z" fill="#16301a" opacity="0.22"/>
<path d="M140.8,299.3L139.7,297.3L141.9,297.3ZM144.8,299.3L143.7,297.3L146.0,297.4ZM148.7,299.4L147.8,297.3L150.0,297.4ZM152.7,299.4L151.8,297.2L154.1,297.5ZM156.7,299.4L155.9,297.2L158.1,297.5ZM160.6,299.4L159.9,297.1L162.1,297.6ZM164.6,299.4L164.0,297.1L166.2,297.6ZM168.6,299.3L168.1,297.0L170.2,297.7ZM172.5,299.3L172.1,297.0L174.3,297.7ZM176.5,299.2L176.2,296.9L178.3,297.7ZM180.5,299.2L180.3,296.9L182.3,297.7ZM113.1,307.5L111.4,305.9L113.5,305.3ZM117.0,307.6L115.4,305.9L117.6,305.3ZM121.0,307.6L119.5,305.9L121.7,305.4ZM125.0,307.7L123.5,305.9L125.7,305.5ZM128.9,307.7L127.5,305.8L129.8,305.5ZM132.9,307.8L131.6,305.8L133.9,305.6ZM136.9,307.8L135.6,305.8L137.9,305.6ZM140.8,307.8L139.6,305.7L142.0,305.7ZM144.8,307.9L143.7,305.7L146.0,305.8ZM148.7,307.9L147.7,305.7L150.1,305.8ZM152.7,307.9L151.7,305.6L154.1,305.9ZM156.6,307.9L155.8,305.6L158.2,306.0ZM160.6,307.9L159.8,305.5L162.2,306.0ZM164.5,307.9L163.9,305.5L166.2,306.1ZM168.4,307.9L167.9,305.4L170.2,306.1ZM172.4,307.8L172.0,305.4L174.3,306.2ZM176.4,307.7L176.1,305.3L178.3,306.2ZM180.3,307.7L180.2,305.2L182.3,306.2ZM184.3,307.6L184.3,305.2L186.3,306.2ZM188.3,307.4L188.4,305.1L190.4,306.2ZM192.4,307.3L192.5,305.0L194.4,306.2ZM93.4,315.6L91.3,314.5L93.1,313.3ZM97.4,315.7L95.3,314.5L97.2,313.3ZM101.3,315.8L99.3,314.5L101.3,313.4ZM105.3,315.9L103.3,314.5L105.5,313.5ZM109.2,316.0L107.4,314.5L109.5,313.6ZM113.2,316.1L111.4,314.4L113.6,313.7ZM117.1,316.1L115.4,314.4L117.7,313.7ZM121.1,316.2L119.4,314.3L121.8,313.8ZM125.0,316.2L123.5,314.3L125.8,313.9ZM129.0,316.3L127.5,314.3L129.9,313.9ZM133.0,316.3L131.5,314.2L133.9,314.0ZM136.9,316.3L135.5,314.2L138.0,314.0ZM140.9,316.4L139.6,314.2L142.0,314.1ZM144.8,316.4L143.6,314.2L146.1,314.2ZM148.8,316.5L147.6,314.1L150.1,314.3ZM152.7,316.6L151.6,314.1L154.2,314.4ZM156.6,316.6L155.7,314.1L158.2,314.4ZM160.5,316.6L159.7,314.0L162.2,314.5ZM164.4,316.6L163.7,313.9L166.3,314.6ZM168.3,316.5L167.8,313.8L170.3,314.7ZM172.2,316.4L171.9,313.7L174.3,314.7ZM176.1,316.3L175.9,313.7L178.3,314.7ZM180.1,316.2L180.1,313.6L182.3,314.8ZM184.1,316.0L184.2,313.5L186.3,314.7ZM188.1,315.9L188.3,313.4L190.3,314.7ZM192.1,315.7L192.4,313.3L194.3,314.7ZM196.2,315.6L196.6,313.3L198.3,314.7ZM200.2,315.5L200.7,313.2L202.4,314.6ZM85.6,323.7L83.4,323.1L84.9,321.4ZM89.7,323.9L87.4,323.1L89.1,321.5ZM93.7,324.1L91.4,323.1L93.3,321.6ZM97.7,324.2L95.4,323.1L97.4,321.7ZM101.6,324.4L99.4,323.1L101.5,321.8ZM105.5,324.6L103.3,323.0L105.6,321.9ZM109.4,324.7L107.3,323.0L109.7,322.0ZM113.3,324.7L111.3,322.9L113.8,322.1ZM117.2,324.8L115.3,322.8L117.8,322.2ZM121.1,324.8L119.4,322.8L121.9,322.2ZM125.0,324.8L123.4,322.7L125.9,322.3ZM129.0,324.8L127.4,322.7L129.9,322.3ZM133.0,324.8L131.5,322.6L134.0,322.4ZM137.0,324.8L135.5,322.6L138.1,322.4ZM141.0,324.9L139.5,322.6L142.1,322.5ZM144.9,325.0L143.5,322.7L146.2,322.6ZM148.9,325.2L147.5,322.7L150.3,322.7ZM152.7,325.3L151.5,322.6L154.3,322.8ZM156.6,325.4L155.5,322.6L158.3,323.0ZM160.4,325.4L159.5,322.5L162.3,323.1ZM164.2,325.4L163.5,322.4L166.3,323.2ZM168.0,325.3L167.6,322.3L170.3,323.3ZM171.9,325.1L171.6,322.2L174.3,323.4ZM175.8,325.0L175.7,322.0L178.2,323.4ZM179.7,324.8L179.9,321.9L182.2,323.4ZM183.7,324.5L184.0,321.8L186.2,323.3ZM187.7,324.3L188.2,321.7L190.2,323.3ZM191.8,324.1L192.3,321.6L194.2,323.2ZM195.9,323.9L196.5,321.5L198.2,323.2ZM200.0,323.8L200.6,321.5L202.3,323.1ZM204.1,323.6L204.8,321.4L206.3,323.1ZM77.8,331.6L75.5,331.5L76.6,329.6ZM81.9,331.8L79.5,331.5L80.8,329.6ZM86.0,332.0L83.5,331.6L85.0,329.7ZM90.1,332.3L87.5,331.7L89.3,329.8ZM94.2,332.6L91.5,331.7L93.5,329.9ZM98.1,332.9L95.5,331.8L97.7,330.1ZM102.0,333.2L99.4,331.8L101.8,330.2ZM105.8,333.4L103.3,331.7L105.9,330.4ZM109.6,333.5L107.3,331.6L110.0,330.6ZM113.3,333.6L111.2,331.5L114.0,330.7ZM117.1,333.5L115.2,331.3L118.0,330.7ZM121.0,333.4L119.3,331.2L122.0,330.7ZM125.0,333.3L123.3,331.1L126.0,330.7ZM129.0,333.2L127.4,331.0L130.0,330.7ZM133.0,333.2L131.5,331.0L134.0,330.7ZM137.1,333.2L135.5,331.0L138.1,330.7ZM141.1,333.4L139.5,331.1L142.2,330.8ZM145.2,333.6L143.5,331.2L146.3,330.9ZM149.1,333.8L147.5,331.3L150.4,331.1ZM153.0,334.1L151.4,331.3L154.5,331.3ZM156.7,334.4L155.3,331.3L158.5,331.6ZM175.2,333.7L175.4,330.4L178.1,332.2ZM179.1,333.4L179.6,330.2L182.0,332.1ZM183.1,333.0L183.8,330.0L186.0,332.0ZM187.2,332.7L188.0,329.9L190.0,331.9ZM191.3,332.4L192.2,329.8L194.0,331.8ZM195.5,332.2L196.4,329.7L198.1,331.7ZM199.6,332.0L200.6,329.7L202.1,331.6ZM203.8,331.8L204.8,329.6L206.2,331.5ZM207.9,331.7L209.0,329.6L210.3,331.4ZM74.0,339.6L71.6,339.9L72.4,337.8ZM78.2,339.8L75.7,340.0L76.7,337.8ZM82.4,340.0L79.8,340.1L80.9,337.8ZM86.6,340.3L83.8,340.2L85.2,337.9ZM90.8,340.6L87.9,340.3L89.5,338.0ZM95.0,341.1L91.8,340.5L93.8,338.1ZM116.7,342.5L115.0,339.7L118.1,339.5ZM120.6,342.0L119.1,339.4L122.0,339.4ZM124.6,341.6L123.3,339.2L125.9,339.2ZM128.8,341.3L127.4,339.1L129.9,339.0ZM133.0,341.2L131.5,339.2L133.9,338.9ZM137.2,341.3L135.6,339.3L138.0,338.8ZM141.5,341.5L139.6,339.5L142.2,338.9ZM145.7,341.9L143.6,339.8L146.4,339.0ZM149.8,342.4L147.6,340.0L150.6,339.3ZM182.3,341.4L183.5,338.2L185.6,340.7ZM186.5,340.9L187.9,338.0L189.7,340.5ZM190.8,340.6L192.2,337.9L193.8,340.3ZM195.1,340.3L196.4,337.9L197.8,340.2ZM199.3,340.1L200.6,337.9L201.9,340.0ZM203.5,340.0L204.8,337.8L206.0,339.9ZM207.7,339.8L209.0,337.8L210.1,339.9ZM211.9,339.7L213.2,337.8L214.2,339.8ZM70.0,347.5L67.7,348.2L68.2,346.0ZM74.2,347.6L71.9,348.3L72.4,346.0ZM78.5,347.7L76.0,348.4L76.6,345.9ZM82.9,347.9L80.1,348.5L80.9,345.9ZM87.3,348.2L84.3,348.7L85.2,345.9ZM91.8,348.6L88.4,349.0L89.7,345.9ZM119.3,350.1L119.0,347.1L121.7,348.2ZM123.8,349.3L123.4,346.9L125.7,347.6ZM141.9,349.0L139.9,347.8L141.8,346.6ZM146.6,349.5L144.0,348.3L146.2,346.7ZM185.8,348.7L187.8,346.0L189.2,349.0ZM190.3,348.4L192.2,346.0L193.4,348.8ZM194.7,348.2L196.5,346.0L197.5,348.6ZM199.0,348.1L200.7,346.0L201.7,348.4ZM203.3,348.0L205.0,346.0L205.8,348.3ZM207.6,347.9L209.1,346.1L210.0,348.2ZM211.8,347.8L213.3,346.1L214.1,348.1ZM70.1,355.5L67.9,356.5L68.0,354.3ZM74.3,355.5L72.1,356.6L72.2,354.2ZM78.7,355.5L76.3,356.7L76.4,354.1ZM83.2,355.6L80.5,356.8L80.7,354.0ZM87.7,355.6L84.8,357.0L85.0,353.9ZM117.6,356.3L119.6,354.2L120.4,356.9ZM147.2,356.1L144.7,356.6L145.4,354.3ZM190.0,356.0L192.4,354.0L193.0,357.0ZM194.5,356.0L196.7,354.1L197.2,356.9ZM198.9,355.9L201.0,354.2L201.4,356.7ZM203.2,355.9L205.1,354.2L205.6,356.6ZM207.5,355.9L209.3,354.3L209.8,356.6ZM211.7,355.8L213.5,354.3L213.9,356.5Z" fill="#16301a" opacity="0.55"/>
<path d="M160.4,334.5L159.2,331.3L162.5,331.8ZM164.0,334.5L163.2,331.2L166.4,332.1ZM167.6,334.4L167.2,331.0L170.3,332.2ZM171.3,334.1L171.2,330.7L174.2,332.2ZM99.1,341.7L95.8,340.7L98.1,338.4ZM102.9,342.3L99.8,340.9L102.4,338.9ZM106.4,342.8L103.6,340.9L106.5,339.4ZM109.8,343.0L107.3,340.7L110.4,339.7ZM113.2,342.9L111.0,340.2L114.3,339.6ZM153.7,343.2L151.6,340.5L154.8,339.9ZM157.3,343.9L155.5,341.0L158.8,340.8ZM160.6,344.5L159.2,341.4L162.5,341.7ZM163.6,344.6L162.7,341.3L165.9,342.1ZM166.7,344.2L166.4,340.8L169.4,342.1ZM170.2,343.4L170.4,340.0L173.2,341.8ZM174.0,342.6L174.7,339.3L177.2,341.4ZM178.1,341.9L179.1,338.7L181.4,341.0ZM96.4,349.2L93.0,349.3L94.5,346.4ZM101.0,350.2L97.6,350.0L99.4,347.2ZM105.3,351.9L102.0,351.0L104.3,348.6ZM108.5,353.9L105.5,352.2L108.4,350.5ZM110.0,354.9L107.8,352.3L111.0,351.7ZM111.7,353.7L110.4,350.5L113.7,350.9ZM115.0,351.6L114.4,348.3L117.5,349.3ZM151.3,350.4L148.2,349.0L150.9,347.0ZM156.0,352.0L153.0,350.3L155.8,348.6ZM160.0,354.5L157.4,352.4L160.4,351.1ZM161.9,355.1L159.9,352.2L163.2,351.9ZM163.1,354.8L162.2,351.5L165.4,352.4ZM164.8,353.8L165.0,350.4L167.8,352.2ZM167.4,352.6L168.4,349.4L170.7,351.7ZM171.7,351.1L173.2,348.0L175.1,350.7ZM176.5,349.9L178.2,347.0L179.9,349.8ZM181.2,349.2L183.1,346.4L184.6,349.3ZM92.5,355.8L89.4,357.2L89.7,353.9ZM97.7,355.9L94.6,357.3L94.9,354.0ZM103.7,356.4L100.5,357.6L100.9,354.3ZM108.2,356.9L104.9,357.9L105.5,354.7ZM111.8,358.2L108.5,358.7L109.6,355.6ZM108.7,363.4L106.9,360.5L110.2,360.3ZM105.2,358.8L107.2,356.1L108.6,359.0ZM110.5,357.2L112.8,354.8L113.8,357.9ZM152.9,356.4L149.6,357.3L150.4,354.1ZM159.8,357.1L156.5,358.0L157.3,354.8ZM164.6,357.8L161.3,358.5L162.3,355.3ZM167.7,359.9L164.3,359.6L166.1,356.8ZM159.7,361.3L160.5,358.0L162.9,360.2ZM161.5,357.7L163.9,355.3L164.8,358.4ZM165.4,357.0L168.0,354.8L168.6,358.0ZM169.4,356.7L172.0,354.6L172.6,357.9ZM175.1,356.4L177.8,354.3L178.3,357.6ZM180.4,356.2L183.1,354.1L183.6,357.3ZM185.3,356.1L188.0,354.0L188.5,357.2Z" fill="#16301a" opacity="0.90"/>
<path d="M62.9,347.6Q87.9,350.5 108.3,354.0M68.1,334.2Q90.2,343.1 108.3,354.0M77.9,324.2Q94.6,337.6 108.3,354.0M90.2,318.9Q100.1,334.7 108.3,354.0M102.6,318.6Q105.7,334.5 108.3,354.0M114.0,318.6Q110.9,334.5 108.3,354.0M126.4,318.9Q116.5,334.7 108.3,354.0M138.7,324.2Q122.0,337.6 108.3,354.0M148.5,334.2Q126.4,343.1 108.3,354.0M153.7,347.6Q128.7,350.5 108.3,354.0" fill="none" stroke="#0a140a" stroke-width="1.20" opacity="0.85" stroke-dasharray="7 1.5"/>
<path d="M77.4,349.4L74.5,350.5L74.9,347.5ZM95.6,352.0L92.6,353.0L93.1,350.0ZM81.0,339.7L77.9,339.9L79.1,337.2ZM97.1,347.7L93.9,347.7L95.3,345.0ZM87.7,332.5L84.6,331.7L86.6,329.5ZM99.8,344.4L96.8,343.4L99.0,341.4ZM96.0,328.7L93.3,327.0L95.9,325.5ZM103.2,342.7L100.7,340.9L103.4,339.6ZM104.4,328.4L102.5,325.9L105.4,325.4ZM106.7,342.6L104.8,340.1L107.8,339.6ZM112.2,328.4L111.2,325.4L114.1,325.9ZM109.9,342.6L108.8,339.6L111.8,340.1ZM120.6,328.7L120.7,325.5L123.3,327.0ZM113.4,342.7L113.2,339.6L115.9,340.9ZM128.9,332.5L130.0,329.5L132.0,331.7ZM116.8,344.4L117.6,341.4L119.8,343.4ZM135.6,339.7L137.5,337.2L138.7,339.9ZM119.5,347.7L121.3,345.0L122.7,347.7ZM139.2,349.4L141.7,347.5L142.1,350.5ZM121.0,352.0L123.5,350.0L124.0,353.0Z" fill="#0a140a" opacity="0.85"/>
<path d="M107.0,354.0L104.1,368.0M108.3,354.0L108.3,368.0M109.6,354.0L112.5,368.0" fill="none" stroke="#0a140a" stroke-width="1.20" opacity="0.85"/>
<path d="M122.2,348.2Q145.0,350.8 163.7,354.0M127.1,336.0Q147.2,344.1 163.7,354.0M136.2,327.0Q151.3,339.1 163.7,354.0M147.4,322.5Q156.4,336.7 163.7,354.0M158.6,322.5Q161.4,336.7 163.7,354.0M168.8,322.5Q166.0,336.7 163.7,354.0M180.0,322.5Q171.0,336.7 163.7,354.0M191.2,327.0Q176.1,339.1 163.7,354.0M200.3,336.0Q180.2,344.1 163.7,354.0M205.2,348.2Q182.4,350.8 163.7,354.0" fill="none" stroke="#0a140a" stroke-width="1.10" opacity="0.80" stroke-dasharray="7 1.5"/>
<path d="M135.5,349.8L132.6,350.9L133.0,347.9ZM152.1,352.1L149.1,353.2L149.6,350.2ZM138.9,341.0L135.7,341.2L136.9,338.5ZM153.5,348.2L150.3,348.2L151.7,345.6ZM145.0,334.5L141.9,333.8L143.9,331.5ZM156.0,345.3L153.0,344.3L155.2,342.3ZM152.6,331.3L150.0,329.5L152.6,328.1ZM159.2,343.9L156.6,342.0L159.3,340.7ZM160.3,331.3L158.3,328.8L161.3,328.3ZM162.3,343.9L160.4,341.3L163.4,340.9ZM167.1,331.3L166.1,328.3L169.1,328.8ZM165.1,343.9L164.0,340.9L167.0,341.3ZM174.8,331.3L174.8,328.1L177.4,329.5ZM168.2,343.9L168.1,340.7L170.8,342.0ZM182.4,334.5L183.5,331.5L185.5,333.8ZM171.4,345.3L172.2,342.3L174.4,344.3ZM188.5,341.0L190.5,338.5L191.7,341.2ZM173.9,348.2L175.7,345.6L177.1,348.2ZM191.9,349.8L194.4,347.9L194.8,350.9ZM175.3,352.1L177.8,350.2L178.3,353.2Z" fill="#0a140a" opacity="0.80"/>
<path d="M162.7,354.0L160.2,369.0M163.7,354.0L163.7,369.0M164.7,354.0L167.2,369.0" fill="none" stroke="#0a140a" stroke-width="1.10" opacity="0.80"/>
<rect x="48.75" y="392.50" width="10.00" height="6.50" fill="#7d8ae6"/>
<rect x="35.00" y="398.75" width="37.50" height="75.05" fill="#0a08e2"/>
<ellipse cx="53.5" cy="473.8" rx="9" ry="7" fill="url(#glow)"/>
<rect x="35.00" y="473.80" width="37.50" height="6.40" fill="#ffffff"/>
<rect x="51.30" y="473.60" width="4.60" height="6.70" fill="#e8301e"/>
<rect x="35.00" y="480.20" width="37.50" height="74.30" fill="#0a08e2"/>
<rect x="214.50" y="397.00" width="10.50" height="6.50" fill="#7d8ae6"/>
<rect x="200.50" y="403.00" width="39.00" height="54.00" fill="#0a08e2"/>
<ellipse cx="220.2" cy="457" rx="9" ry="7" fill="url(#glow)"/>
<rect x="200.50" y="457.00" width="39.00" height="7.50" fill="#ffffff"/>
<rect x="218.00" y="456.60" width="4.50" height="7.90" fill="#e8301e"/>
<rect x="200.50" y="464.50" width="39.00" height="52.00" fill="#0a08e2"/>
<path d="M71.30,284.30 H75.10 V295.30 H77.55 L73.20,302.20 L68.85,295.30 H71.30 Z" fill="#f4561e"/>
<path d="M101.80,284.30 H105.60 V295.30 H108.05 L103.70,302.20 L99.35,295.30 H101.80 Z" fill="#f4561e"/>
<path d="M132.50,284.30 H136.30 V295.30 H138.75 L134.40,302.20 L130.05,295.30 H132.50 Z" fill="#f4561e"/>
<path d="M163.10,284.30 H166.90 V295.30 H169.35 L165.00,302.20 L160.65,295.30 H163.10 Z" fill="#f4561e"/>
<path d="M193.70,284.30 H197.50 V295.30 H199.95 L195.60,302.20 L191.25,295.30 H193.70 Z" fill="#f4561e"/>
<text x="37.5" y="296.5" font-family="'Liberation Serif', serif" font-size="13.5" text-anchor="start" fill="#111" stroke="#111" stroke-width="0.00" font-weight="bold" font-style="normal">(e)</text>
<text x="240.0" y="345.0" font-family="'Liberation Serif', serif" font-size="11.0" text-anchor="end" fill="#111" stroke="#111" stroke-width="0.30" font-weight="normal" font-style="normal">Pressure</text>
<text x="236.5" y="357.5" font-family="'Liberation Serif', serif" font-size="11.0" text-anchor="end" fill="#111" stroke="#111" stroke-width="0.30" font-weight="normal" font-style="normal">field</text>
<text x="38.8" y="409.5" font-family="'Liberation Serif', serif" font-size="10.5" text-anchor="start" fill="#fff" stroke="#fff" stroke-width="0.00" font-weight="normal" font-style="normal" textLength="33" lengthAdjust="spacingAndGlyphs">0.11m/s</text>
<text x="38.8" y="492.0" font-family="'Liberation Serif', serif" font-size="10.5" text-anchor="start" fill="#fff" stroke="#fff" stroke-width="0.00" font-weight="normal" font-style="normal" textLength="33" lengthAdjust="spacingAndGlyphs">0.56m/s</text>
<text x="53.8" y="550.8" font-family="'Liberation Serif', serif" font-size="13.0" text-anchor="middle" fill="#fff" stroke="#fff" stroke-width="0.00" font-weight="normal" font-style="italic">v</text>
<text x="53.8" y="569.5" font-family="'Liberation Serif', serif" font-size="11.0" text-anchor="middle" fill="#222" stroke="#222" stroke-width="0.30" font-weight="normal" font-style="normal">Velocity</text>
<text x="53.8" y="581.5" font-family="'Liberation Serif', serif" font-size="11.0" text-anchor="middle" fill="#222" stroke="#222" stroke-width="0.30" font-weight="normal" font-style="normal">field</text>
<text x="204.5" y="413.8" font-family="'Liberation Serif', serif" font-size="10.5" text-anchor="start" fill="#fff" stroke="#fff" stroke-width="0.00" font-weight="normal" font-style="normal" textLength="32.5" lengthAdjust="spacingAndGlyphs">0.13m/s</text>
<text x="204.5" y="475.5" font-family="'Liberation Serif', serif" font-size="10.5" text-anchor="start" fill="#fff" stroke="#fff" stroke-width="0.00" font-weight="normal" font-style="normal" textLength="32.5" lengthAdjust="spacingAndGlyphs">0.65m/s</text>
<text x="220.0" y="512.5" font-family="'Liberation Serif', serif" font-size="13.0" text-anchor="middle" fill="#fff" stroke="#fff" stroke-width="0.00" font-weight="normal" font-style="italic">v</text>
<text x="220.0" y="528.8" font-family="'Liberation Serif', serif" font-size="11.0" text-anchor="middle" fill="#222" stroke="#222" stroke-width="0.30" font-weight="normal" font-style="normal">Velocity</text>
<text x="220.0" y="541.2" font-family="'Liberation Serif', serif" font-size="11.0" text-anchor="middle" fill="#222" stroke="#222" stroke-width="0.30" font-weight="normal" font-style="normal">field</text>
<text x="108.2" y="586.5" font-family="'Liberation Serif', serif" font-size="11.0" text-anchor="middle" fill="#222" stroke="#222" stroke-width="0.30" font-weight="normal" font-style="normal">cell 1</text>
<text x="165.0" y="554.5" font-family="'Liberation Serif', serif" font-size="11.0" text-anchor="middle" fill="#222" stroke="#222" stroke-width="0.30" font-weight="normal" font-style="normal">cell 2</text>
<rect x="270.30" y="306.40" width="6.50" height="110.30" fill="url(#gP)"/>
<text x="273.0" y="300.3" font-family="'Liberation Serif', serif" font-size="10.0" text-anchor="middle" fill="#333" stroke="#333" stroke-width="0.00" font-weight="normal" font-style="normal"><tspan font-weight="bold" font-style="italic">P</tspan>/Pa</text>
<text x="268.6" y="312.2" font-family="'Liberation Serif', serif" font-size="10.0" text-anchor="end" fill="#333" stroke="#333" stroke-width="0.00" font-weight="normal" font-style="normal">10</text>
<text x="268.6" y="339.1" font-family="'Liberation Serif', serif" font-size="10.0" text-anchor="end" fill="#333" stroke="#333" stroke-width="0.00" font-weight="normal" font-style="normal">5</text>
<text x="268.6" y="366.5" font-family="'Liberation Serif', serif" font-size="10.0" text-anchor="end" fill="#333" stroke="#333" stroke-width="0.00" font-weight="normal" font-style="normal">0</text>
<text x="268.6" y="393.9" font-family="'Liberation Serif', serif" font-size="10.0" text-anchor="end" fill="#333" stroke="#333" stroke-width="0.00" font-weight="normal" font-style="normal">-5</text>
<text x="268.6" y="420.1" font-family="'Liberation Serif', serif" font-size="10.0" text-anchor="end" fill="#333" stroke="#333" stroke-width="0.00" font-weight="normal" font-style="normal">-10</text>
<rect x="271.00" y="454.40" width="6.40" height="110.90" fill="url(#gV)"/>
<path d="M271,472.9h1.6M277.4,472.9h-1.6M271,491.4h1.6M277.4,491.4h-1.6M271,509.8h1.6M277.4,509.8h-1.6M271,528.3h1.6M277.4,528.3h-1.6M271,546.8h1.6M277.4,546.8h-1.6" stroke="#666" stroke-width="0.8" opacity="0.7"/>
<text x="271.8" y="449.3" font-family="'Liberation Serif', serif" font-size="10.0" text-anchor="middle" fill="#333" stroke="#333" stroke-width="0.00" font-weight="normal" font-style="normal"><tspan font-weight="bold" font-style="italic">v</tspan>/[m/s]</text>
<text x="267.2" y="461.7" font-family="'Liberation Serif', serif" font-size="10.0" text-anchor="end" fill="#333" stroke="#333" stroke-width="0.00" font-weight="normal" font-style="normal">0.6</text>
<text x="267.2" y="515.0" font-family="'Liberation Serif', serif" font-size="10.0" text-anchor="end" fill="#333" stroke="#333" stroke-width="0.00" font-weight="normal" font-style="normal">0.3</text>
<text x="267.2" y="567.5" font-family="'Liberation Serif', serif" font-size="10.0" text-anchor="end" fill="#333" stroke="#333" stroke-width="0.00" font-weight="normal" font-style="normal">0</text>
<rect x="303.75" y="281.25" width="202.50" height="77.50" fill="#86e386"/>
<rect x="372.30" y="358.00" width="9.50" height="9.50" fill="#86e386"/>
<rect x="425.80" y="358.00" width="12.70" height="9.50" fill="#c6dc6a"/>
<rect x="353.80" y="367.00" width="47.00" height="97.80" fill="#96e682"/>
<rect x="376.00" y="464.00" width="4.00" height="11.00" fill="#6aa040"/>
<rect x="353.80" y="474.50" width="47.00" height="97.50" fill="#a2e652"/>
<rect x="408.50" y="367.00" width="47.30" height="72.30" fill="url(#gF3)"/>
<rect x="429.20" y="439.00" width="5.80" height="10.00" fill="#6a1808"/>
<rect x="408.50" y="448.60" width="47.30" height="72.10" fill="#84080e"/>
<path d="M374.4,367.0L372.2,367.3L370.0,367.5L367.7,367.9L365.5,368.3L363.4,368.7L361.4,369.2L359.7,369.9L358.1,370.6L356.8,371.5L355.8,372.5L355.2,373.7L355.0,375.0L355.0,446.3L358.3,451.2L376.9,464.8M374.9,367.0L373.1,367.3L371.3,367.5L369.4,367.9L367.6,368.3L365.9,368.7L364.3,369.2L362.9,369.9L361.6,370.6L360.5,371.5L359.7,372.5L359.2,373.7L359.1,375.0L359.1,446.3L361.8,451.2L377.1,464.8M375.4,359.0L375.4,367.0L374.0,367.3L372.6,367.5L371.1,367.9L369.7,368.3L368.4,368.7L367.2,369.2L366.0,369.9L365.1,370.6L364.3,371.5L363.6,372.5L363.2,373.7L363.1,375.0L363.1,446.3L365.2,451.2L377.3,464.8L377.3,472.8M375.9,359.0L375.9,367.0L374.9,367.3L373.9,367.5L372.9,367.9L371.9,368.3L370.9,368.7L370.0,369.2L369.2,369.9L368.5,370.6L368.0,371.5L367.5,372.5L367.3,373.7L367.2,375.0L367.2,446.3L368.7,451.2L377.5,464.8L377.5,472.8M376.3,359.0L376.3,367.0L375.8,367.3L375.2,367.5L374.6,367.9L374.0,368.3L373.4,368.7L372.9,369.2L372.4,369.9L372.0,370.6L371.7,371.5L371.4,372.5L371.3,373.7L371.2,375.0L371.2,446.3L372.2,451.2L377.7,464.8L377.7,472.8M376.8,359.0L376.8,367.0L376.6,367.3L376.5,367.5L376.3,367.9L376.1,368.3L375.9,368.7L375.8,369.2L375.6,369.9L375.5,370.6L375.4,371.5L375.3,372.5L375.3,373.7L375.3,375.0L375.3,446.3L375.7,451.2L377.9,464.8L377.9,472.8M377.3,359.0L377.3,367.0L377.5,367.3L377.8,367.5L378.0,367.9L378.2,368.3L378.4,368.7L378.7,369.2L378.8,369.9L379.0,370.6L379.1,371.5L379.2,372.5L379.3,373.7L379.3,375.0L379.3,446.3L379.1,451.2L378.1,464.8L378.1,472.8M377.8,359.0L377.8,367.0L378.4,367.3L379.1,367.5L379.7,367.9L380.3,368.3L381.0,368.7L381.5,369.2L382.0,369.9L382.5,370.6L382.9,371.5L383.1,372.5L383.3,373.7L383.4,375.0L383.4,446.3L382.6,451.2L378.3,464.8L378.3,472.8M378.2,359.0L378.2,367.0L379.3,367.3L380.4,367.5L381.4,367.9L382.5,368.3L383.5,368.7L384.4,369.2L385.2,369.9L386.0,370.6L386.6,371.5L387.0,372.5L387.3,373.7L387.4,375.0L387.4,446.3L386.1,451.2L378.5,464.8L378.5,472.8M378.7,359.0L378.7,367.0L380.2,367.3L381.7,367.5L383.1,367.9L384.6,368.3L386.0,368.7L387.3,369.2L388.4,369.9L389.5,370.6L390.3,371.5L390.9,372.5L391.3,373.7L391.5,375.0L391.5,446.3L389.6,451.2L378.7,464.8L378.7,472.8M379.2,367.0L381.1,367.3L383.0,367.5L384.8,367.9L386.7,368.3L388.5,368.7L390.1,369.2L391.6,369.9L392.9,370.6L394.0,371.5L394.8,372.5L395.4,373.7L395.5,375.0L395.5,446.3L393.0,451.2L378.9,464.8M379.7,367.0L381.9,367.3L384.3,367.5L386.6,367.9L388.8,368.3L391.0,368.7L393.0,369.2L394.8,369.9L396.4,370.6L397.7,371.5L398.7,372.5L399.4,373.7L399.6,375.0L399.6,446.3L396.5,451.2L379.1,464.8M354.0,450.7L357.6,452.9M355.9,455.2L359.7,456.8M360.1,455.0L363.7,457.0M396.6,455.0L392.8,457.0M400.7,455.2L396.9,456.8M353.7,459.8L357.9,460.6M357.9,459.7L361.9,460.7M362.0,459.5L366.0,460.9M390.5,459.4L386.7,461.0M394.7,459.6L390.7,460.8M398.8,459.7L394.8,460.7" fill="none" stroke="#0a4a08" stroke-width="1.10" opacity="0.60"/>
<path d="M370.3,367.5L373.1,365.3L373.5,368.9ZM362.2,369.0L364.6,366.5L365.5,370.0ZM355.4,373.3L355.2,369.9L358.4,371.5ZM355.0,381.6L353.2,378.6L356.8,378.6ZM355.0,389.9L353.2,386.9L356.8,386.9ZM355.0,398.2L353.2,395.2L356.8,395.2ZM355.0,406.5L353.2,403.5L356.8,403.5ZM355.0,414.8L353.2,411.8L356.8,411.8ZM355.0,423.1L353.2,420.1L356.8,420.1ZM355.0,431.4L353.2,428.4L356.8,428.4ZM355.0,439.7L353.2,436.7L356.8,436.7ZM355.9,447.7L352.8,446.2L355.8,444.2ZM361.6,453.6L358.1,453.3L360.2,450.4ZM368.3,458.5L364.8,458.2L366.9,455.3ZM375.0,463.4L371.5,463.1L373.6,460.2ZM370.8,367.6L373.4,365.3L374.1,368.9ZM362.8,369.9L364.5,366.8L366.3,369.9ZM359.1,376.6L357.3,373.6L360.9,373.6ZM359.1,384.9L357.3,381.9L360.9,381.9ZM359.1,393.2L357.3,390.2L360.9,390.2ZM359.1,401.5L357.3,398.5L360.9,398.5ZM359.1,409.8L357.3,406.8L360.9,406.8ZM359.1,418.1L357.3,415.1L360.9,415.1ZM359.1,426.4L357.3,423.4L360.9,423.4ZM359.1,434.7L357.3,431.7L360.9,431.7ZM359.1,443.0L357.3,440.0L360.9,440.0ZM361.5,450.6L358.4,448.9L361.6,447.1ZM367.5,456.3L364.1,455.6L366.4,452.9ZM373.7,461.8L370.3,461.1L372.7,458.5ZM375.4,363.1L373.6,360.1L377.2,360.1ZM371.0,367.9L373.4,365.4L374.4,368.8ZM364.0,371.9L364.0,368.4L367.1,370.3ZM363.1,380.0L361.3,377.0L364.9,377.0ZM363.1,388.3L361.3,385.3L364.9,385.3ZM363.1,396.6L361.3,393.6L364.9,393.6ZM363.1,404.9L361.3,401.9L364.9,401.9ZM363.1,413.2L361.3,410.2L364.9,410.2ZM363.1,421.5L361.3,418.5L364.9,418.5ZM363.1,429.8L361.3,426.8L364.9,426.8ZM363.1,438.1L361.3,435.1L364.9,435.1ZM363.2,446.4L360.3,444.4L363.6,443.0ZM367.3,453.5L364.0,452.5L366.6,450.1ZM372.8,459.7L369.5,458.7L372.2,456.3ZM377.3,466.3L375.5,463.3L379.1,463.3ZM375.9,363.1L374.1,360.1L377.7,360.1ZM371.6,368.4L373.6,365.4L375.1,368.7ZM367.2,374.8L365.6,371.6L369.2,371.9ZM367.2,383.1L365.4,380.1L369.0,380.1ZM367.2,391.4L365.4,388.4L369.0,388.4ZM367.2,399.7L365.4,396.7L369.0,396.7ZM367.2,408.0L365.4,405.0L369.0,405.0ZM367.2,416.3L365.4,413.3L369.0,413.3ZM367.2,424.6L365.4,421.6L369.0,421.6ZM367.2,432.9L365.4,429.9L369.0,429.9ZM367.2,441.2L365.4,438.2L369.0,438.2ZM368.1,449.3L365.5,447.0L368.9,445.9ZM372.1,456.5L369.0,455.0L372.0,453.0ZM376.6,463.5L373.5,461.9L376.5,460.0ZM377.5,471.5L375.7,468.5L379.3,468.5ZM376.3,363.1L374.5,360.1L378.1,360.1ZM372.7,369.5L373.1,366.0L376.0,368.2ZM371.2,377.5L369.4,374.5L373.0,374.5ZM371.2,385.8L369.4,382.8L373.0,382.8ZM371.2,394.1L369.4,391.1L373.0,391.1ZM371.2,402.4L369.4,399.4L373.0,399.4ZM371.2,410.7L369.4,407.7L373.0,407.7ZM371.2,419.0L369.4,416.0L373.0,416.0ZM371.2,427.3L369.4,424.3L373.0,424.3ZM371.2,435.6L369.4,432.6L373.0,432.6ZM371.2,443.9L369.4,440.9L373.0,440.9ZM372.5,452.0L369.7,449.9L373.1,448.6ZM375.6,459.7L372.8,457.6L376.2,456.3ZM377.7,467.6L375.9,464.6L379.5,464.6ZM376.8,363.1L375.0,360.1L378.6,360.1ZM375.5,371.2L374.0,368.0L377.6,368.4ZM375.3,379.5L373.5,376.5L377.1,376.5ZM375.3,387.8L373.5,384.8L377.1,384.8ZM375.3,396.1L373.5,393.1L377.1,393.1ZM375.3,404.4L373.5,401.4L377.1,401.4ZM375.3,412.7L373.5,409.7L377.1,409.7ZM375.3,421.0L373.5,418.0L377.1,418.0ZM375.3,429.3L373.5,426.3L377.1,426.3ZM375.3,437.6L373.5,434.6L377.1,434.6ZM375.3,445.9L373.5,442.9L377.1,442.9ZM376.1,454.1L373.9,451.4L377.4,450.9ZM377.5,462.3L375.2,459.6L378.8,459.1ZM377.9,470.6L376.1,467.6L379.7,467.6ZM377.3,363.1L375.5,360.1L379.1,360.1ZM379.1,371.0L376.8,368.3L380.4,367.8ZM379.3,379.3L377.5,376.3L381.1,376.3ZM379.3,387.6L377.5,384.6L381.1,384.6ZM379.3,395.9L377.5,392.9L381.1,392.9ZM379.3,404.2L377.5,401.2L381.1,401.2ZM379.3,412.5L377.5,409.5L381.1,409.5ZM379.3,420.8L377.5,417.8L381.1,417.8ZM379.3,429.1L377.5,426.1L381.1,426.1ZM379.3,437.4L377.5,434.4L381.1,434.4ZM379.3,445.7L377.5,442.7L381.1,442.7ZM378.9,454.0L377.4,450.8L381.0,451.1ZM378.3,462.2L376.7,459.1L380.3,459.4ZM378.1,470.5L376.3,467.5L379.9,467.5ZM377.8,363.1L376.0,360.1L379.6,360.1ZM381.5,369.3L378.3,368.1L381.0,365.8ZM383.4,377.1L381.6,374.1L385.2,374.1ZM383.4,385.4L381.6,382.4L385.2,382.4ZM383.4,393.7L381.6,390.7L385.2,390.7ZM383.4,402.0L381.6,399.0L385.2,399.0ZM383.4,410.3L381.6,407.3L385.2,407.3ZM383.4,418.6L381.6,415.6L385.2,415.6ZM383.4,426.9L381.6,423.9L385.2,423.9ZM383.4,435.2L381.6,432.2L385.2,432.2ZM383.4,443.5L381.6,440.5L385.2,440.5ZM382.4,451.8L381.6,448.3L385.1,449.4ZM379.9,459.7L379.1,456.3L382.6,457.3ZM378.3,467.7L376.5,464.7L380.1,464.7ZM378.2,363.1L376.4,360.1L380.0,360.1ZM382.5,368.3L379.0,368.7L380.5,365.4ZM387.4,374.4L385.4,371.5L389.0,371.2ZM387.4,382.7L385.6,379.7L389.2,379.7ZM387.4,391.0L385.6,388.0L389.2,388.0ZM387.4,399.3L385.6,396.3L389.2,396.3ZM387.4,407.6L385.6,404.6L389.2,404.6ZM387.4,415.9L385.6,412.9L389.2,412.9ZM387.4,424.2L385.6,421.2L389.2,421.2ZM387.4,432.5L385.6,429.5L389.2,429.5ZM387.4,440.8L385.6,437.8L389.2,437.8ZM386.7,449.0L385.8,445.6L389.2,446.5ZM383.2,456.4L383.1,452.9L386.2,454.7ZM379.1,463.7L379.0,460.2L382.2,461.9ZM378.5,471.8L376.7,468.8L380.3,468.8ZM378.7,363.1L376.9,360.1L380.5,360.1ZM383.1,367.9L379.8,369.0L380.5,365.5ZM390.3,371.6L387.2,370.0L390.3,368.1ZM391.5,379.6L389.7,376.6L393.3,376.6ZM391.5,387.9L389.7,384.9L393.3,384.9ZM391.5,396.2L389.7,393.2L393.3,393.2ZM391.5,404.5L389.7,401.5L393.3,401.5ZM391.5,412.8L389.7,409.8L393.3,409.8ZM391.5,421.1L389.7,418.1L393.3,418.1ZM391.5,429.4L389.7,426.4L393.3,426.4ZM391.5,437.7L389.7,434.7L393.3,434.7ZM391.5,446.0L389.7,443.0L393.3,443.0ZM387.9,453.3L388.3,449.9L391.1,452.1ZM382.7,459.8L383.1,456.4L386.0,458.6ZM378.7,466.7L376.9,463.7L380.5,463.7ZM383.3,367.6L380.0,368.9L380.6,365.3ZM391.3,369.7L387.8,370.2L389.2,366.9ZM395.5,376.1L393.7,373.1L397.3,373.1ZM395.5,384.4L393.7,381.4L397.3,381.4ZM395.5,392.7L393.7,389.7L397.3,389.7ZM395.5,401.0L393.7,398.0L397.3,398.0ZM395.5,409.3L393.7,406.3L397.3,406.3ZM395.5,417.6L393.7,414.6L397.3,414.6ZM395.5,425.9L393.7,422.9L397.3,422.9ZM395.5,434.2L393.7,431.2L397.3,431.2ZM395.5,442.5L393.7,439.5L397.3,439.5ZM393.5,450.3L393.3,446.8L396.5,448.5ZM387.8,456.3L388.7,452.9L391.2,455.5ZM381.8,462.0L382.7,458.6L385.2,461.2ZM383.8,367.5L380.6,368.9L381.0,365.3ZM391.9,369.0L388.6,369.9L389.5,366.5ZM399.0,372.9L396.0,371.2L399.1,369.4ZM399.6,381.1L397.8,378.1L401.4,378.1ZM399.6,389.4L397.8,386.4L401.4,386.4ZM399.6,397.7L397.8,394.7L401.4,394.7ZM399.6,406.0L397.8,403.0L401.4,403.0ZM399.6,414.3L397.8,411.3L401.4,411.3ZM399.6,422.6L397.8,419.6L401.4,419.6ZM399.6,430.9L397.8,427.9L401.4,427.9ZM399.6,439.2L397.8,436.2L401.4,436.2ZM398.9,447.3L399.0,443.8L402.1,445.8ZM393.6,453.5L394.8,450.2L397.0,453.1ZM387.0,458.6L388.3,455.3L390.5,458.2ZM380.5,463.7L381.7,460.5L384.0,463.3ZM357.6,452.9L354.1,452.9L355.9,449.8ZM359.7,456.8L356.3,457.3L357.7,454.0ZM363.7,457.0L360.2,457.1L362.0,454.0ZM392.8,457.0L394.7,454.0L396.3,457.2ZM396.9,456.8L398.9,454.0L400.3,457.3ZM357.9,460.6L354.6,461.8L355.3,458.3ZM361.9,460.7L358.6,461.7L359.5,458.2ZM366.0,460.9L362.6,461.6L363.7,458.2ZM386.7,461.0L388.7,458.2L390.1,461.5ZM390.7,460.8L393.0,458.2L394.1,461.6ZM394.8,460.7L397.2,458.2L398.1,461.7Z" fill="#0a4a08" opacity="0.60"/>
<path d="M376.9,474.5L374.4,474.8L371.9,475.1L369.3,475.5L366.8,476.1L364.5,476.8L362.3,477.7L360.2,478.8L358.5,480.2L357.0,481.8L355.9,483.7L355.2,485.9L355.0,488.5M377.1,474.5L375.0,474.8L372.9,475.1L370.9,475.5L368.8,476.1L366.9,476.8L365.0,477.7L363.4,478.8L361.9,480.2L360.7,481.8L359.8,483.7L359.3,485.9L359.1,488.5M377.3,466.5L377.3,474.5L375.7,474.8L374.0,475.1L372.4,475.5L370.8,476.1L369.2,476.8L367.8,477.7L366.5,478.8L365.4,480.2L364.4,481.8L363.7,483.7L363.3,485.9L363.1,488.5M377.5,466.5L377.5,474.5L376.3,474.8L375.1,475.1L373.9,475.5L372.8,476.1L371.6,476.8L370.6,477.7L369.6,478.8L368.8,480.2L368.1,481.8L367.6,483.7L367.3,485.9L367.2,488.5M377.7,466.5L377.7,474.5L377.0,474.8L376.2,475.1L375.5,475.5L374.7,476.1L374.0,476.8L373.4,477.7L372.8,478.8L372.3,480.2L371.8,481.8L371.5,483.7L371.3,485.9L371.2,488.5M377.9,466.5L377.9,474.5L377.6,474.8L377.3,475.1L377.0,475.5L376.7,476.1L376.4,476.8L376.1,477.7L375.9,478.8L375.7,480.2L375.5,481.8L375.4,483.7L375.3,485.9L375.3,488.5M378.1,466.5L378.1,474.5L378.2,474.8L378.4,475.1L378.5,475.5L378.7,476.1L378.8,476.8L378.9,477.7L379.0,478.8L379.1,480.2L379.2,481.8L379.3,483.7L379.3,485.9L379.3,488.5M378.3,466.5L378.3,474.5L378.9,474.8L379.5,475.1L380.1,475.5L380.6,476.1L381.2,476.8L381.7,477.7L382.2,478.8L382.6,480.2L382.9,481.8L383.2,483.7L383.3,485.9L383.4,488.5M378.5,466.5L378.5,474.5L379.5,474.8L380.6,475.1L381.6,475.5L382.6,476.1L383.6,476.8L384.5,477.7L385.3,478.8L386.0,480.2L386.6,481.8L387.1,483.7L387.3,485.9L387.4,488.5M378.7,466.5L378.7,474.5L380.2,474.8L381.6,475.1L383.1,475.5L384.6,476.1L386.0,476.8L387.3,477.7L388.4,478.8L389.5,480.2L390.3,481.8L390.9,483.7L391.3,485.9L391.5,488.5M378.9,474.5L380.8,474.8L382.7,475.1L384.7,475.5L386.5,476.1L388.3,476.8L390.0,477.7L391.6,478.8L392.9,480.2L394.0,481.8L394.8,483.7L395.4,485.9L395.5,488.5M379.1,474.5L381.4,474.8L383.8,475.1L386.2,475.5L388.5,476.1L390.7,476.8L392.8,477.7L394.7,478.8L396.3,480.2L397.7,481.8L398.7,483.7L399.4,485.9L399.6,488.5" fill="none" stroke="#0a4a08" stroke-width="1.10" opacity="0.70"/>
<path d="M355.0,509.0L355.0,513.6M355.0,517.3L355.0,521.9M355.0,525.6L355.0,530.2M355.0,533.9L355.0,538.5M355.0,542.2L355.0,546.8M355.0,550.5L355.0,555.1M355.0,558.8L355.0,563.4M359.1,512.3L359.1,516.9M359.1,520.6L359.1,525.2M359.1,528.9L359.1,533.5M359.1,537.2L359.1,541.8M359.1,545.5L359.1,550.1M359.1,553.8L359.1,558.4M359.1,562.1L359.1,566.7M363.1,515.8L363.1,520.4M363.1,524.1L363.1,528.7M363.1,532.4L363.1,537.0M363.1,540.7L363.1,545.3M363.1,549.0L363.1,553.6M363.1,557.3L363.1,561.9M363.1,565.6L363.1,570.2M367.2,510.5L367.2,515.1M367.2,518.8L367.2,523.4M367.2,527.1L367.2,531.7M367.2,535.4L367.2,540.0M367.2,543.7L367.2,548.3M367.2,552.0L367.2,556.6M367.2,560.3L367.2,564.9M371.2,513.2L371.2,517.8M371.2,521.5L371.2,526.1M371.2,529.8L371.2,534.4M371.2,538.1L371.2,542.7M371.2,546.4L371.2,551.0M371.2,554.7L371.2,559.3M371.2,563.0L371.2,567.6M375.3,515.3L375.3,519.9M375.3,523.6L375.3,528.2M375.3,531.9L375.3,536.5M375.3,540.2L375.3,544.8M375.3,548.5L375.3,553.1M375.3,556.8L375.3,561.4M375.3,565.1L375.3,569.7M379.3,515.7L379.3,520.3M379.3,524.0L379.3,528.6M379.3,532.3L379.3,536.9M379.3,540.6L379.3,545.2M379.3,548.9L379.3,553.5M379.3,557.2L379.3,561.8M379.3,565.5L379.3,570.1M383.4,514.1L383.4,518.7M383.4,522.4L383.4,527.0M383.4,530.7L383.4,535.3M383.4,539.0L383.4,543.6M383.4,547.3L383.4,551.9M383.4,555.6L383.4,560.2M383.4,563.9L383.4,568.5M387.4,511.6L387.4,516.1M387.4,519.9L387.4,524.4M387.4,528.2L387.4,532.7M387.4,536.5L387.4,541.0M387.4,544.8L387.4,549.3M387.4,553.1L387.4,557.6M387.4,561.4L387.4,565.9M391.5,517.0L391.5,521.5M391.5,525.3L391.5,529.8M391.5,533.6L391.5,538.1M391.5,541.9L391.5,546.4M391.5,550.2L391.5,554.7M391.5,558.5L391.5,563.0M395.5,513.5L395.5,518.1M395.5,521.8L395.5,526.4M395.5,530.1L395.5,534.7M395.5,538.4L395.5,543.0M395.5,546.7L395.5,551.3M395.5,555.0L395.5,559.6M395.5,563.3L395.5,567.9M399.6,510.2L399.6,514.8M399.6,518.5L399.6,523.1M399.6,526.8L399.6,531.4M399.6,535.1L399.6,539.7M399.6,543.4L399.6,548.0M399.6,551.7L399.6,556.3M399.6,560.0L399.6,564.6" fill="none" stroke="#0a4a08" stroke-width="1.10" opacity="0.70"/>
<path d="M372.8,475.0L375.5,472.8L376.0,476.4ZM364.7,476.8L367.0,474.2L368.1,477.6ZM357.7,481.0L358.4,477.6L361.0,480.0ZM355.0,488.7L353.2,485.7L356.8,485.7ZM355.0,497.0L353.2,494.0L356.8,494.0ZM355.0,505.3L353.2,502.3L356.8,502.3ZM355.0,513.6L353.2,510.6L356.8,510.6ZM355.0,521.9L353.2,518.9L356.8,518.9ZM355.0,530.2L353.2,527.2L356.8,527.2ZM355.0,538.5L353.2,535.5L356.8,535.5ZM355.0,546.8L353.2,543.8L356.8,543.8ZM355.0,555.1L353.2,552.1L356.8,552.1ZM355.0,563.4L353.2,560.4L356.8,560.4ZM373.0,475.1L375.7,472.8L376.2,476.4ZM365.1,477.7L367.0,474.7L368.6,478.0ZM359.8,483.8L358.8,480.4L362.3,481.3ZM359.1,492.0L357.3,489.0L360.9,489.0ZM359.1,500.3L357.3,497.3L360.9,497.3ZM359.1,508.6L357.3,505.6L360.9,505.6ZM359.1,516.9L357.3,513.9L360.9,513.9ZM359.1,525.2L357.3,522.2L360.9,522.2ZM359.1,533.5L357.3,530.5L360.9,530.5ZM359.1,541.8L357.3,538.8L360.9,538.8ZM359.1,550.1L357.3,547.1L360.9,547.1ZM359.1,558.4L357.3,555.4L360.9,555.4ZM359.1,566.7L357.3,563.7L360.9,563.7ZM377.3,470.6L375.5,467.6L379.1,467.6ZM372.9,475.4L375.4,472.9L376.3,476.4ZM365.9,479.5L366.5,476.1L369.2,478.4ZM363.2,487.2L361.6,484.1L365.2,484.3ZM363.1,495.5L361.3,492.5L364.9,492.5ZM363.1,503.8L361.3,500.8L364.9,500.8ZM363.1,512.1L361.3,509.1L364.9,509.1ZM363.1,520.4L361.3,517.4L364.9,517.4ZM363.1,528.7L361.3,525.7L364.9,525.7ZM363.1,537.0L361.3,534.0L364.9,534.0ZM363.1,545.3L361.3,542.3L364.9,542.3ZM363.1,553.6L361.3,550.6L364.9,550.6ZM363.1,561.9L361.3,558.9L364.9,558.9ZM363.1,570.2L361.3,567.2L364.9,567.2ZM377.5,470.6L375.7,467.6L379.3,467.6ZM373.3,475.9L375.2,472.9L376.8,476.2ZM368.1,482.0L367.1,478.6L370.6,479.6ZM367.2,490.2L365.4,487.2L369.0,487.2ZM367.2,498.5L365.4,495.5L369.0,495.5ZM367.2,506.8L365.4,503.8L369.0,503.8ZM367.2,515.1L365.4,512.1L369.0,512.1ZM367.2,523.4L365.4,520.4L369.0,520.4ZM367.2,531.7L365.4,528.7L369.0,528.7ZM367.2,540.0L365.4,537.0L369.0,537.0ZM367.2,548.3L365.4,545.3L369.0,545.3ZM367.2,556.6L365.4,553.6L369.0,553.6ZM367.2,564.9L365.4,561.9L369.0,561.9ZM377.7,470.6L375.9,467.6L379.5,467.6ZM374.0,476.9L374.3,473.4L377.2,475.5ZM371.4,484.6L369.9,481.5L373.5,481.8ZM371.2,492.9L369.4,489.9L373.0,489.9ZM371.2,501.2L369.4,498.2L373.0,498.2ZM371.2,509.5L369.4,506.5L373.0,506.5ZM371.2,517.8L369.4,514.8L373.0,514.8ZM371.2,526.1L369.4,523.1L373.0,523.1ZM371.2,534.4L369.4,531.4L373.0,531.4ZM371.2,542.7L369.4,539.7L373.0,539.7ZM371.2,551.0L369.4,548.0L373.0,548.0ZM371.2,559.3L369.4,556.3L373.0,556.3ZM371.2,567.6L369.4,564.6L373.0,564.6ZM377.9,470.6L376.1,467.6L379.7,467.6ZM376.0,478.4L374.9,475.1L378.4,475.9ZM375.3,486.7L373.5,483.7L377.1,483.7ZM375.3,495.0L373.5,492.0L377.1,492.0ZM375.3,503.3L373.5,500.3L377.1,500.3ZM375.3,511.6L373.5,508.6L377.1,508.6ZM375.3,519.9L373.5,516.9L377.1,516.9ZM375.3,528.2L373.5,525.2L377.1,525.2ZM375.3,536.5L373.5,533.5L377.1,533.5ZM375.3,544.8L373.5,541.8L377.1,541.8ZM375.3,553.1L373.5,550.1L377.1,550.1ZM375.3,561.4L373.5,558.4L377.1,558.4ZM375.3,569.7L373.5,566.7L377.1,566.7ZM378.1,470.6L376.3,467.6L379.9,467.6ZM379.0,478.8L377.0,476.0L380.6,475.7ZM379.3,487.1L377.5,484.1L381.1,484.1ZM379.3,495.4L377.5,492.4L381.1,492.4ZM379.3,503.7L377.5,500.7L381.1,500.7ZM379.3,512.0L377.5,509.0L381.1,509.0ZM379.3,520.3L377.5,517.3L381.1,517.3ZM379.3,528.6L377.5,525.6L381.1,525.6ZM379.3,536.9L377.5,533.9L381.1,533.9ZM379.3,545.2L377.5,542.2L381.1,542.2ZM379.3,553.5L377.5,550.5L381.1,550.5ZM379.3,561.8L377.5,558.8L381.1,558.8ZM379.3,570.1L377.5,567.1L381.1,567.1ZM378.3,470.6L376.5,467.6L380.1,467.6ZM381.5,477.4L378.5,475.7L381.6,473.9ZM383.3,485.5L381.3,482.6L384.9,482.3ZM383.4,493.8L381.6,490.8L385.2,490.8ZM383.4,502.1L381.6,499.1L385.2,499.1ZM383.4,510.4L381.6,507.4L385.2,507.4ZM383.4,518.7L381.6,515.7L385.2,515.7ZM383.4,527.0L381.6,524.0L385.2,524.0ZM383.4,535.3L381.6,532.3L385.2,532.3ZM383.4,543.6L381.6,540.6L385.2,540.6ZM383.4,551.9L381.6,548.9L385.2,548.9ZM383.4,560.2L381.6,557.2L385.2,557.2ZM383.4,568.5L381.6,565.5L385.2,565.5ZM378.5,470.6L376.7,467.6L380.3,467.6ZM382.6,476.1L379.1,475.8L381.3,472.9ZM386.9,483.0L384.5,480.5L388.0,479.6ZM387.4,491.2L385.6,488.2L389.2,488.2ZM387.4,499.5L385.6,496.5L389.2,496.5ZM387.4,507.8L385.6,504.8L389.2,504.8ZM387.4,516.1L385.6,513.1L389.2,513.1ZM387.4,524.4L385.6,521.4L389.2,521.4ZM387.4,532.7L385.6,529.7L389.2,529.7ZM387.4,541.0L385.6,538.0L389.2,538.0ZM387.4,549.3L385.6,546.3L389.2,546.3ZM387.4,557.6L385.6,554.6L389.2,554.6ZM387.4,565.9L385.6,562.9L389.2,562.9ZM378.7,470.6L376.9,467.6L380.5,467.6ZM383.0,475.5L379.6,476.4L380.7,472.9ZM389.6,480.3L386.6,478.5L389.7,476.9ZM391.5,488.3L389.5,485.4L393.1,485.2ZM391.5,496.6L389.7,493.6L393.3,493.6ZM391.5,504.9L389.7,501.9L393.3,501.9ZM391.5,513.2L389.7,510.2L393.3,510.2ZM391.5,521.5L389.7,518.5L393.3,518.5ZM391.5,529.8L389.7,526.8L393.3,526.8ZM391.5,538.1L389.7,535.1L393.3,535.1ZM391.5,546.4L389.7,543.4L393.3,543.4ZM391.5,554.7L389.7,551.7L393.3,551.7ZM391.5,563.0L389.7,560.0L393.3,560.0ZM383.0,475.2L379.7,476.3L380.5,472.8ZM390.7,478.2L387.2,477.9L389.3,475.0ZM395.1,484.9L392.7,482.4L396.2,481.6ZM395.5,493.2L393.7,490.2L397.3,490.2ZM395.5,501.5L393.7,498.5L397.3,498.5ZM395.5,509.8L393.7,506.8L397.3,506.8ZM395.5,518.1L393.7,515.1L397.3,515.1ZM395.5,526.4L393.7,523.4L397.3,523.4ZM395.5,534.7L393.7,531.7L397.3,531.7ZM395.5,543.0L393.7,540.0L397.3,540.0ZM395.5,551.3L393.7,548.3L397.3,548.3ZM395.5,559.6L393.7,556.6L397.3,556.6ZM395.5,567.9L393.7,564.9L397.3,564.9ZM383.2,475.0L380.0,476.4L380.5,472.8ZM391.2,477.0L387.8,477.5L389.2,474.2ZM397.8,481.9L394.8,480.1L397.9,478.4ZM399.6,489.9L397.8,486.9L401.4,486.9ZM399.6,498.2L397.8,495.2L401.4,495.2ZM399.6,506.5L397.8,503.5L401.4,503.5ZM399.6,514.8L397.8,511.8L401.4,511.8ZM399.6,523.1L397.8,520.1L401.4,520.1ZM399.6,531.4L397.8,528.4L401.4,528.4ZM399.6,539.7L397.8,536.7L401.4,536.7ZM399.6,548.0L397.8,545.0L401.4,545.0ZM399.6,556.3L397.8,553.3L401.4,553.3ZM399.6,564.6L397.8,561.6L401.4,561.6Z" fill="#0a4a08" opacity="0.70"/>
<path d="M428.7,367.0L412.5,378.9M429.3,367.0L416.1,378.9M429.9,359.0L429.9,367.0L419.7,378.9M430.6,359.0L430.6,367.0L423.2,378.9M431.2,359.0L431.2,367.0L426.8,378.9M431.8,359.0L431.8,367.0L430.4,378.9M432.5,359.0L432.5,367.0L433.9,378.9M433.1,359.0L433.1,367.0L437.5,378.9M433.7,359.0L433.7,367.0L441.1,378.9M434.4,359.0L434.4,367.0L444.6,378.9M435.0,367.0L448.2,378.9M435.6,367.0L451.8,378.9M408.7,425.2L412.3,427.4M410.6,429.6L414.4,431.4M451.3,429.5L447.5,431.5M455.4,429.7L451.6,431.3M408.4,434.3L412.6,435.1M412.6,434.2L416.6,435.2M416.7,434.0L420.7,435.4M445.2,433.9L441.4,435.5M449.4,434.1L445.4,435.3M453.5,434.2L449.5,435.2" fill="none" stroke="#2a1a00" stroke-width="1.10" opacity="0.75"/>
<path d="M409.7,382.5L409.7,387.1M409.7,390.8L409.7,395.4M409.7,399.1L409.7,403.7M409.7,407.4L409.7,412.0M409.7,415.7L409.7,420.3M410.8,424.1L414.4,426.9M417.4,429.2L421.0,432.0M423.9,434.3L427.6,437.0M416.8,377.5L414.8,381.6M413.8,385.1L413.8,389.6M413.8,393.4L413.8,397.9M413.8,401.7L413.8,406.2M413.8,410.0L413.8,414.5M412.6,418.6L414.7,422.6M416.5,425.9L419.8,429.0M422.6,431.6L425.9,434.7M417.9,379.3L417.9,383.9M417.9,387.6L417.9,392.2M417.9,395.9L417.9,400.5M417.9,404.2L417.9,408.8M417.9,412.5L417.9,417.1M417.9,420.8L419.6,425.1M421.8,428.0L424.7,431.6M427.1,434.4L430.0,438.0M431.1,441.3L431.1,445.9M421.9,381.2L421.9,385.8M421.9,389.5L421.9,394.1M421.9,397.8L421.9,402.4M421.9,406.1L421.9,410.7M421.9,414.4L421.9,419.0M421.8,423.0L424.1,426.9M426.0,430.1L428.3,434.1M431.4,436.9L431.4,441.5M426.0,382.6L426.0,387.2M426.0,390.9L426.0,395.5M426.0,399.2L426.0,403.8M426.0,407.5L426.0,412.1M426.0,415.8L426.0,420.4M426.3,424.2L427.8,428.5M429.1,432.0L430.6,436.3M431.7,439.8L431.7,444.4M430.1,383.4L430.1,388.0M430.1,391.7L430.1,396.3M430.1,400.0L430.1,404.6M430.1,408.3L430.1,412.9M429.9,416.6L430.1,421.2M430.3,424.9L430.8,429.4M431.2,433.1L431.8,437.7M432.0,441.4L432.0,446.0M434.2,383.4L434.2,388.0M434.2,391.7L434.2,396.3M434.2,400.0L434.2,404.6M434.2,408.3L434.2,412.9M434.4,416.6L434.2,421.2M434.0,424.9L433.4,429.4M433.0,433.1L432.4,437.7M432.2,441.4L432.2,445.9M438.3,382.6L438.3,387.2M438.3,390.9L438.3,395.5M438.3,399.2L438.3,403.8M438.3,407.5L438.3,412.1M438.3,415.8L438.3,420.4M438.0,424.2L436.4,428.5M435.2,432.0L433.6,436.3M432.5,439.8L432.5,444.4M442.4,381.2L442.4,385.8M442.4,389.5L442.4,394.1M442.4,397.8L442.4,402.4M442.4,406.1L442.4,410.7M442.4,414.4L442.4,419.0M442.5,423.0L440.2,426.9M438.3,430.1L436.0,434.0M432.8,436.9L432.8,441.5M446.4,379.3L446.4,383.9M446.4,387.6L446.4,392.2M446.4,395.9L446.4,400.5M446.4,404.2L446.4,408.8M446.4,412.5L446.4,417.1M446.4,420.8L444.7,425.1M442.5,428.0L439.6,431.5M437.2,434.4L434.3,437.9M433.1,441.2L433.1,445.8M447.5,377.5L449.5,381.6M450.5,385.1L450.5,389.6M450.5,393.4L450.5,397.9M450.5,401.7L450.5,406.2M450.5,410.0L450.5,414.5M451.7,418.6L449.6,422.6M447.8,425.9L444.4,429.0M441.7,431.5L438.4,434.6M454.6,382.5L454.6,387.1M454.6,390.8L454.6,395.4M454.6,399.1L454.6,403.7M454.6,407.4L454.6,412.0M454.6,415.7L454.6,420.3M453.5,424.1L449.9,426.9M446.9,429.2L443.3,432.0M440.3,434.2L436.7,437.0" fill="none" stroke="#2a1a00" stroke-width="1.10" opacity="0.75"/>
<path d="M425.3,369.5L426.7,366.2L428.8,369.1ZM418.6,374.4L420.0,371.2L422.1,374.1ZM412.2,379.5L412.2,376.0L415.3,377.9ZM409.7,387.1L407.9,384.1L411.5,384.1ZM409.7,395.4L407.9,392.4L411.5,392.4ZM409.7,403.7L407.9,400.7L411.5,400.7ZM409.7,412.0L407.9,409.0L411.5,409.0ZM409.7,420.3L407.9,417.3L411.5,417.3ZM414.4,426.9L410.9,426.5L413.1,423.7ZM421.0,432.0L417.5,431.6L419.7,428.7ZM427.6,437.0L424.1,436.6L426.3,433.8ZM426.2,369.8L427.2,366.4L429.6,369.1ZM420.1,375.3L421.1,372.0L423.5,374.7ZM414.8,381.6L414.5,378.1L417.7,379.7ZM413.8,389.6L412.0,386.6L415.6,386.6ZM413.8,397.9L412.0,394.9L415.6,394.9ZM413.8,406.2L412.0,403.2L415.6,403.2ZM413.8,414.5L412.0,411.5L415.6,411.5ZM414.7,422.6L411.7,420.8L414.9,419.1ZM419.8,429.0L416.4,428.3L418.9,425.6ZM425.9,434.7L422.5,433.9L424.9,431.3ZM429.9,363.1L428.1,360.1L431.7,360.1ZM427.0,370.4L427.6,366.9L430.3,369.3ZM421.6,376.7L422.2,373.2L424.9,375.6ZM417.9,383.9L416.1,380.9L419.7,380.9ZM417.9,392.2L416.1,389.2L419.7,389.2ZM417.9,400.5L416.1,397.5L419.7,397.5ZM417.9,408.8L416.1,405.8L419.7,405.8ZM417.9,417.1L416.1,414.1L419.7,414.1ZM419.6,425.1L416.8,423.0L420.1,421.6ZM424.7,431.6L421.4,430.4L424.2,428.1ZM430.0,438.0L426.7,436.8L429.5,434.5ZM431.1,445.9L429.3,442.9L432.9,442.9ZM430.6,363.1L428.8,360.1L432.4,360.1ZM428.2,370.8L428.3,367.3L431.3,369.2ZM423.9,377.9L423.9,374.4L427.0,376.2ZM421.9,385.8L420.1,382.8L423.7,382.8ZM421.9,394.1L420.1,391.1L423.7,391.1ZM421.9,402.4L420.1,399.4L423.7,399.4ZM421.9,410.7L420.1,407.7L423.7,407.7ZM421.9,419.0L420.1,416.0L423.7,416.0ZM424.1,426.9L421.0,425.2L424.1,423.4ZM428.3,434.1L425.2,432.4L428.3,430.6ZM431.4,441.5L429.6,438.5L433.2,438.5ZM431.2,363.1L429.4,360.1L433.0,360.1ZM429.7,371.2L429.0,367.7L432.4,369.0ZM426.8,379.0L425.5,375.7L429.1,376.3ZM426.0,387.2L424.2,384.2L427.8,384.2ZM426.0,395.5L424.2,392.5L427.8,392.5ZM426.0,403.8L424.2,400.8L427.8,400.8ZM426.0,412.1L424.2,409.1L427.8,409.1ZM426.0,420.4L424.2,417.4L427.8,417.4ZM427.8,428.5L425.2,426.2L428.5,425.0ZM430.6,436.3L427.9,434.1L431.3,432.9ZM431.7,444.4L429.9,441.4L433.5,441.4ZM431.8,363.1L430.0,360.1L433.6,360.1ZM431.3,371.4L429.9,368.2L433.4,368.7ZM430.3,379.7L428.7,376.6L432.3,376.8ZM430.1,388.0L428.3,385.0L431.9,385.0ZM430.1,396.3L428.3,393.3L431.9,393.3ZM430.1,404.6L428.3,401.6L431.9,401.6ZM430.1,412.9L428.3,409.9L431.9,409.9ZM430.1,421.2L428.2,418.3L431.8,418.1ZM430.8,429.4L428.7,426.6L432.3,426.2ZM431.8,437.7L429.6,434.9L433.2,434.5ZM432.0,446.0L430.2,443.0L433.8,443.0ZM432.5,363.1L430.7,360.1L434.3,360.1ZM433.0,371.4L430.9,368.7L434.4,368.2ZM434.0,379.7L432.0,376.8L435.6,376.6ZM434.2,388.0L432.4,385.0L436.0,385.0ZM434.2,396.3L432.4,393.3L436.0,393.3ZM434.2,404.6L432.4,401.6L436.0,401.6ZM434.2,412.9L432.4,409.9L436.0,409.9ZM434.2,421.2L432.6,418.1L436.1,418.3ZM433.4,429.4L432.0,426.2L435.6,426.7ZM432.4,437.7L431.0,434.5L434.6,434.9ZM432.2,445.9L430.4,442.9L434.0,442.9ZM433.1,363.1L431.3,360.1L434.9,360.1ZM434.6,371.2L431.9,369.0L435.3,367.7ZM437.5,379.0L435.2,376.3L438.8,375.7ZM438.3,387.2L436.5,384.2L440.1,384.2ZM438.3,395.5L436.5,392.5L440.1,392.5ZM438.3,403.8L436.5,400.8L440.1,400.8ZM438.3,412.1L436.5,409.1L440.1,409.1ZM438.3,420.4L436.5,417.4L440.1,417.4ZM436.4,428.5L435.7,425.0L439.1,426.2ZM433.6,436.3L432.9,432.8L436.3,434.0ZM432.5,444.4L430.7,441.4L434.3,441.4ZM433.7,363.1L431.9,360.1L435.5,360.1ZM436.1,370.8L433.0,369.2L436.0,367.3ZM440.4,377.9L437.3,376.2L440.4,374.4ZM442.4,385.8L440.6,382.8L444.2,382.8ZM442.4,394.1L440.6,391.1L444.2,391.1ZM442.4,402.4L440.6,399.4L444.2,399.4ZM442.4,410.7L440.6,407.7L444.2,407.7ZM442.4,419.0L440.6,416.0L444.2,416.0ZM440.2,426.9L440.2,423.4L443.3,425.2ZM436.0,434.0L436.0,430.5L439.0,432.4ZM432.8,441.5L431.0,438.5L434.6,438.5ZM434.4,363.1L432.6,360.1L436.2,360.1ZM437.3,370.4L434.0,369.3L436.7,366.9ZM442.7,376.7L439.4,375.6L442.1,373.2ZM446.4,383.9L444.6,380.9L448.2,380.9ZM446.4,392.2L444.6,389.2L448.2,389.2ZM446.4,400.5L444.6,397.5L448.2,397.5ZM446.4,408.8L444.6,405.8L448.2,405.8ZM446.4,417.1L444.6,414.1L448.2,414.1ZM444.7,425.1L444.2,421.6L447.5,423.0ZM439.6,431.5L440.1,428.1L442.9,430.4ZM434.3,437.9L434.8,434.5L437.6,436.8ZM433.1,445.8L431.3,442.8L434.9,442.8ZM438.1,369.8L434.7,369.1L437.1,366.4ZM444.2,375.3L440.8,374.7L443.2,372.0ZM449.5,381.6L446.6,379.7L449.8,378.1ZM450.5,389.6L448.7,386.6L452.3,386.6ZM450.5,397.9L448.7,394.9L452.3,394.9ZM450.5,406.2L448.7,403.2L452.3,403.2ZM450.5,414.5L448.7,411.5L452.3,411.5ZM449.6,422.6L449.4,419.1L452.6,420.8ZM444.4,429.0L445.4,425.6L447.9,428.2ZM438.4,434.6L439.3,431.3L441.8,433.9ZM439.0,369.5L435.5,369.1L437.6,366.2ZM445.7,374.4L442.2,374.1L444.3,371.2ZM452.1,379.5L449.0,377.9L452.1,376.0ZM454.6,387.1L452.8,384.1L456.4,384.1ZM454.6,395.4L452.8,392.4L456.4,392.4ZM454.6,403.7L452.8,400.7L456.4,400.7ZM454.6,412.0L452.8,409.0L456.4,409.0ZM454.6,420.3L452.8,417.3L456.4,417.3ZM449.9,426.9L451.2,423.7L453.4,426.5ZM443.3,432.0L444.6,428.7L446.8,431.6ZM436.7,437.0L438.0,433.7L440.2,436.6ZM412.3,427.4L408.8,427.4L410.7,424.3ZM414.4,431.4L410.9,431.8L412.4,428.5ZM447.5,431.5L449.4,428.5L451.0,431.7ZM451.6,431.3L453.6,428.5L455.0,431.8ZM412.6,435.1L409.2,436.3L410.0,432.8ZM416.6,435.2L413.3,436.2L414.2,432.7ZM420.7,435.4L417.3,436.1L418.4,432.7ZM441.4,435.5L443.4,432.7L444.8,436.0ZM445.4,435.3L447.7,432.7L448.8,436.2ZM449.5,435.2L452.0,432.7L452.8,436.2Z" fill="#2a1a00" opacity="0.75"/>
<path d="M430.5,448.6L428.1,448.9L425.7,449.2L423.3,449.6L421.0,450.2L418.7,450.9L416.6,451.8L414.7,452.9L413.0,454.3L411.6,455.9L410.6,457.8L409.9,460.0L409.7,462.6L409.7,519.7M430.8,448.6L428.9,448.9L426.9,449.2L424.9,449.6L423.0,450.2L421.1,450.9L419.4,451.8L417.9,452.9L416.5,454.3L415.4,455.9L414.5,457.8L414.0,460.0L413.8,462.6L413.8,519.7M431.1,440.6L431.1,448.6L429.6,448.9L428.0,449.2L426.5,449.6L425.0,450.2L423.6,450.9L422.2,451.8L421.0,452.9L420.0,454.3L419.1,455.9L418.4,457.8L418.0,460.0L417.9,462.6L417.9,519.7M431.4,440.6L431.4,448.6L430.3,448.9L429.2,449.2L428.1,449.6L427.0,450.2L426.0,450.9L425.1,451.8L424.2,452.9L423.4,454.3L422.8,455.9L422.3,457.8L422.0,460.0L421.9,462.6L421.9,519.7M431.7,440.6L431.7,448.6L431.0,448.9L430.4,449.2L429.7,449.6L429.1,450.2L428.5,450.9L427.9,451.8L427.4,452.9L426.9,454.3L426.6,455.9L426.3,457.8L426.1,460.0L426.0,462.6L426.0,519.7M432.0,440.6L432.0,448.6L431.7,448.9L431.5,449.2L431.3,449.6L431.1,450.2L430.9,450.9L430.7,451.8L430.6,452.9L430.4,454.3L430.3,455.9L430.2,457.8L430.1,460.0L430.1,462.6L430.1,519.7M432.2,440.6L432.2,448.6L432.5,448.9L432.7,449.2L432.9,449.6L433.1,450.2L433.3,450.9L433.5,451.8L433.7,452.9L433.9,454.3L434.0,455.9L434.1,457.8L434.2,460.0L434.2,462.6L434.2,519.7M432.5,440.6L432.5,448.6L433.2,448.9L433.9,449.2L434.5,449.6L435.2,450.2L435.8,450.9L436.4,451.8L436.9,452.9L437.4,454.3L437.7,455.9L438.0,457.8L438.2,460.0L438.3,462.6L438.3,519.7M432.8,440.6L432.8,448.6L433.9,448.9L435.0,449.2L436.1,449.6L437.2,450.2L438.2,450.9L439.2,451.8L440.1,452.9L440.8,454.3L441.5,455.9L441.9,457.8L442.2,460.0L442.4,462.6L442.4,519.7M433.1,440.6L433.1,448.6L434.6,448.9L436.2,449.2L437.7,449.6L439.2,450.2L440.7,450.9L442.0,451.8L443.2,452.9L444.3,454.3L445.2,455.9L445.9,457.8L446.3,460.0L446.4,462.6L446.4,519.7M433.4,448.6L435.4,448.9L437.3,449.2L439.3,449.6L441.3,450.2L443.1,450.9L444.8,451.8L446.4,452.9L447.8,454.3L448.9,455.9L449.8,457.8L450.3,460.0L450.5,462.6L450.5,519.7M433.7,448.6L436.1,448.9L438.5,449.2L440.9,449.6L443.3,450.2L445.6,450.9L447.7,451.8L449.6,452.9L451.3,454.3L452.7,455.9L453.7,457.8L454.4,460.0L454.6,462.6L454.6,519.7" fill="none" stroke="#2a0000" stroke-width="1.10" opacity="0.35"/>
<path d="M426.4,449.1L429.1,446.9L429.6,450.5ZM418.3,451.1L420.4,448.2L421.8,451.6ZM411.7,455.8L412.3,452.4L415.0,454.7ZM409.7,463.7L407.9,460.7L411.5,460.7ZM409.7,472.0L407.9,469.0L411.5,469.0ZM409.7,480.3L407.9,477.3L411.5,477.3ZM409.7,488.6L407.9,485.6L411.5,485.6ZM409.7,496.9L407.9,493.9L411.5,493.9ZM409.7,505.2L407.9,502.2L411.5,502.2ZM409.7,513.5L407.9,510.5L411.5,510.5ZM426.7,449.3L429.2,446.8L430.0,450.4ZM419.0,452.1L420.4,448.9L422.5,451.9ZM414.3,458.7L413.2,455.4L416.7,456.2ZM413.8,467.0L412.0,464.0L415.6,464.0ZM413.8,475.3L412.0,472.3L415.6,472.3ZM413.8,483.6L412.0,480.6L415.6,480.6ZM413.8,491.9L412.0,488.9L415.6,488.9ZM413.8,500.2L412.0,497.2L415.6,497.2ZM413.8,508.5L412.0,505.5L415.6,505.5ZM413.8,516.8L412.0,513.8L415.6,513.8ZM431.1,444.8L429.3,441.8L432.9,441.8ZM426.7,449.6L429.1,447.0L430.1,450.5ZM420.0,454.2L420.5,450.7L423.3,452.9ZM417.9,462.1L416.3,459.0L419.9,459.2ZM417.9,470.4L416.1,467.4L419.7,467.4ZM417.9,478.7L416.1,475.7L419.7,475.7ZM417.9,487.0L416.1,484.0L419.7,484.0ZM417.9,495.3L416.1,492.3L419.7,492.3ZM417.9,503.6L416.1,500.6L419.7,500.6ZM417.9,511.9L416.1,508.9L419.7,508.9ZM431.4,444.8L429.6,441.8L433.2,441.8ZM427.2,450.1L429.0,447.1L430.7,450.3ZM422.6,456.7L421.6,453.4L425.1,454.3ZM421.9,465.0L420.1,462.0L423.7,462.0ZM421.9,473.3L420.1,470.3L423.7,470.3ZM421.9,481.6L420.1,478.6L423.7,478.6ZM421.9,489.9L420.1,486.9L423.7,486.9ZM421.9,498.2L420.1,495.2L423.7,495.2ZM421.9,506.5L420.1,503.5L423.7,503.5ZM421.9,514.8L420.1,511.8L423.7,511.8ZM431.7,444.8L429.9,441.8L433.5,441.8ZM428.2,451.3L428.3,447.8L431.4,449.7ZM426.2,459.2L424.6,456.1L428.2,456.4ZM426.0,467.5L424.2,464.5L427.8,464.5ZM426.0,475.8L424.2,472.8L427.8,472.8ZM426.0,484.1L424.2,481.1L427.8,481.1ZM426.0,492.4L424.2,489.4L427.8,489.4ZM426.0,500.7L424.2,497.7L427.8,497.7ZM426.0,509.0L424.2,506.0L427.8,506.0ZM426.0,517.3L424.2,514.3L427.8,514.3ZM432.0,444.8L430.2,441.8L433.8,441.8ZM430.6,452.8L429.2,449.5L432.8,450.1ZM430.1,461.1L428.3,458.0L431.9,458.1ZM430.1,469.4L428.3,466.4L431.9,466.4ZM430.1,477.7L428.3,474.7L431.9,474.7ZM430.1,486.0L428.3,483.0L431.9,483.0ZM430.1,494.3L428.3,491.3L431.9,491.3ZM430.1,502.6L428.3,499.6L431.9,499.6ZM430.1,510.9L428.3,507.9L431.9,507.9ZM430.1,519.2L428.3,516.2L431.9,516.2ZM432.2,444.8L430.4,441.8L434.0,441.8ZM433.7,452.7L431.4,450.1L435.0,449.5ZM434.2,461.0L432.4,458.0L436.0,458.0ZM434.2,469.3L432.4,466.3L436.0,466.3ZM434.2,477.6L432.4,474.6L436.0,474.6ZM434.2,485.9L432.4,482.9L436.0,482.9ZM434.2,494.2L432.4,491.2L436.0,491.2ZM434.2,502.5L432.4,499.5L436.0,499.5ZM434.2,510.8L432.4,507.8L436.0,507.8ZM434.2,519.1L432.4,516.1L436.0,516.1ZM432.5,444.8L430.7,441.8L434.3,441.8ZM436.0,451.3L432.9,449.7L435.9,447.8ZM438.1,459.2L436.1,456.3L439.7,456.0ZM438.3,467.5L436.5,464.5L440.1,464.5ZM438.3,475.8L436.5,472.8L440.1,472.8ZM438.3,484.1L436.5,481.1L440.1,481.1ZM438.3,492.4L436.5,489.4L440.1,489.4ZM438.3,500.7L436.5,497.7L440.1,497.7ZM438.3,509.0L436.5,506.0L440.1,506.0ZM438.3,517.3L436.5,514.3L440.1,514.3ZM432.8,444.8L431.0,441.8L434.6,441.8ZM437.0,450.1L433.5,450.3L435.2,447.1ZM441.7,456.7L439.2,454.2L442.7,453.3ZM442.4,464.9L440.6,461.9L444.2,461.9ZM442.4,473.2L440.6,470.2L444.2,470.2ZM442.4,481.5L440.6,478.5L444.2,478.5ZM442.4,489.8L440.6,486.8L444.2,486.8ZM442.4,498.1L440.6,495.1L444.2,495.1ZM442.4,506.4L440.6,503.4L444.2,503.4ZM442.4,514.7L440.6,511.7L444.2,511.7ZM433.1,444.8L431.3,441.8L434.9,441.8ZM437.5,449.6L434.1,450.5L435.1,447.0ZM444.2,454.1L440.9,452.9L443.7,450.7ZM446.4,462.0L444.4,459.1L448.0,458.9ZM446.4,470.3L444.6,467.3L448.2,467.3ZM446.4,478.6L444.6,475.6L448.2,475.6ZM446.4,486.9L444.6,483.9L448.2,483.9ZM446.4,495.2L444.6,492.2L448.2,492.2ZM446.4,503.5L444.6,500.5L448.2,500.5ZM446.4,511.8L444.6,508.8L448.2,508.8ZM437.5,449.2L434.2,450.4L435.0,446.8ZM445.2,452.1L441.8,451.8L443.8,448.9ZM450.0,458.6L447.5,456.1L451.0,455.3ZM450.5,466.9L448.7,463.9L452.3,463.9ZM450.5,475.2L448.7,472.2L452.3,472.2ZM450.5,483.5L448.7,480.5L452.3,480.5ZM450.5,491.8L448.7,488.8L452.3,488.8ZM450.5,500.1L448.7,497.1L452.3,497.1ZM450.5,508.4L448.7,505.4L452.3,505.4ZM450.5,516.7L448.7,513.7L452.3,513.7ZM437.8,449.1L434.6,450.5L435.1,446.9ZM445.9,451.0L442.4,451.5L443.8,448.2ZM452.6,455.8L449.2,454.7L452.0,452.3ZM454.6,463.6L452.8,460.6L456.4,460.6ZM454.6,471.9L452.8,468.9L456.4,468.9ZM454.6,480.2L452.8,477.2L456.4,477.2ZM454.6,488.5L452.8,485.5L456.4,485.5ZM454.6,496.8L452.8,493.8L456.4,493.8ZM454.6,505.1L452.8,502.1L456.4,502.1ZM454.6,513.4L452.8,510.4L456.4,510.4Z" fill="#2a0000" opacity="0.35"/>
<path d="M390.7,287.7L391.4,290.3M394.8,287.6L395.4,290.4M398.9,287.6L399.4,290.4M403.0,287.5L403.4,290.5M407.1,287.5L407.4,290.5M411.2,287.5L411.4,290.5M415.4,287.4L415.3,290.6M419.5,287.4L419.3,290.6M423.6,287.4L423.3,290.6M427.7,287.4L427.3,290.6M431.8,287.4L431.3,290.6M436.0,287.4L435.2,290.6M440.1,287.4L439.2,290.6M444.2,287.4L443.2,290.6M448.3,287.4L447.2,290.6M452.4,287.5L451.2,290.5M456.5,287.5L455.2,290.5M460.6,287.5L459.2,290.5M464.6,287.6L463.3,290.4M468.7,287.6L467.3,290.4M472.8,287.7L471.3,290.3M476.8,287.7L475.4,290.3M480.9,287.8L479.4,290.2M485.0,287.8L483.4,290.2M370.2,296.1L371.4,298.5M374.2,296.1L375.5,298.5M378.3,296.0L379.5,298.6M382.4,295.9L383.5,298.7M386.5,295.9L387.5,298.7M390.6,295.8L391.5,298.8M394.7,295.8L395.5,298.8M398.9,295.7L399.4,298.9M403.0,295.7L403.4,298.9M407.1,295.6L407.4,299.0M411.2,295.6L411.4,299.0M415.3,295.5L415.4,299.1M419.5,295.5L419.3,299.1M423.6,295.5L423.3,299.1M427.7,295.5L427.3,299.1M431.9,295.5L431.2,299.1M436.0,295.5L435.2,299.1M440.2,295.5L439.1,299.1M444.3,295.5L443.1,299.1M448.4,295.6L447.1,299.0M452.5,295.6L451.1,299.0M456.6,295.7L455.1,298.9M460.7,295.7L459.1,298.9M464.8,295.8L463.1,298.8M468.9,295.8L467.1,298.8M472.9,295.9L471.2,298.7M477.0,296.0L475.2,298.6M481.0,296.1L479.3,298.5M485.1,296.1L483.3,298.5M489.1,296.2L487.4,298.4M353.7,304.6L355.5,306.6M357.8,304.5L359.5,306.7M361.8,304.4L363.6,306.8M365.9,304.3L367.6,306.9M370.0,304.3L371.6,306.9M374.1,304.2L375.6,307.0M378.2,304.2L379.6,307.0M382.3,304.1L383.6,307.1M386.4,304.0L387.6,307.2M390.6,304.0L391.5,307.2M394.7,303.9L395.5,307.3M398.8,303.8L399.5,307.4M402.9,303.8L403.5,307.4M407.0,303.7L407.5,307.5M411.2,303.6L411.4,307.6M460.9,303.9L458.9,307.3M465.0,304.0L462.9,307.2M469.0,304.1L467.0,307.1M473.1,304.2L471.0,307.0M477.1,304.3L475.1,306.9M481.2,304.3L479.1,306.9M485.2,304.4L483.2,306.8M489.2,304.5L487.3,306.7M493.3,304.6L491.3,306.6M497.3,304.6L495.4,306.6M341.4,313.1L343.5,314.7M345.4,313.0L347.6,314.8M349.5,312.9L351.6,314.9M353.5,312.8L355.7,315.0M357.6,312.7L359.7,315.1M361.7,312.6L363.7,315.2M365.8,312.5L367.7,315.3M369.9,312.4L371.7,315.4M374.0,312.3L375.7,315.5M378.1,312.3L379.7,315.5M382.2,312.2L383.7,315.6M386.3,312.1L387.7,315.7M390.5,312.1L391.6,315.7M394.6,312.0L395.6,315.8M473.3,312.4L470.8,315.4M477.3,312.5L474.9,315.3M481.3,312.6L479.0,315.2M485.3,312.7L483.1,315.1M489.4,312.8L487.1,315.0M493.4,312.9L491.2,314.9M497.4,313.0L495.3,314.8M337.2,321.5L339.6,322.9M341.2,321.4L343.7,323.0M345.2,321.3L347.8,323.1M349.2,321.2L351.9,323.2M353.3,321.0L355.9,323.4M357.3,320.9L360.0,323.5M361.4,320.7L364.0,323.7M477.5,320.9L474.7,323.5M481.5,321.0L478.8,323.4M485.5,321.1L482.9,323.3M489.5,321.2L487.0,323.2M493.5,321.2L491.1,323.2M497.5,321.3L495.2,323.1M501.5,321.4L499.3,323.0M329.0,330.0L331.6,331.0M333.0,329.9L335.7,331.1M337.0,329.8L339.8,331.2M341.0,329.7L343.9,331.3M344.9,329.6L348.1,331.4M348.9,329.5L352.2,331.5M481.7,329.4L478.6,331.6M485.7,329.5L482.7,331.5M489.6,329.6L486.9,331.4M493.6,329.6L491.0,331.4M497.6,329.7L495.1,331.3M501.6,329.8L499.2,331.2M328.9,338.4L331.7,339.2M332.9,338.4L335.8,339.2M336.8,338.3L340.0,339.3M340.7,338.2L344.2,339.4M485.8,337.9L482.6,339.7M489.8,338.0L486.7,339.6M493.7,338.1L490.9,339.5M497.7,338.1L495.0,339.5M501.7,338.2L499.1,339.4M324.9,346.9L327.6,347.3M328.8,346.9L331.8,347.3M332.7,346.8L336.0,347.4M336.6,346.8L340.2,347.4M340.5,346.7L344.4,347.5M391.4,345.4L390.7,348.8M402.3,345.9L404.1,348.3M485.9,346.5L482.5,347.7M489.9,346.5L486.6,347.7M493.8,346.5L490.8,347.7M497.7,346.6L495.0,347.6M501.7,346.6L499.1,347.6M324.8,355.4L327.7,355.4M328.8,355.4L331.8,355.4M332.7,355.4L336.0,355.4M336.6,355.4L340.2,355.4M405.7,355.2L408.8,355.6M482.1,355.0L478.2,355.8M486.0,355.0L482.4,355.8M489.9,355.0L486.6,355.8M493.8,355.0L490.8,355.8M497.8,355.0L494.9,355.8M501.7,355.0L499.1,355.8" fill="none" stroke="#16301a" stroke-width="0.70" opacity="0.22" stroke-linecap="round"/>
<path d="M415.3,303.6L415.4,307.6M419.5,303.5L419.3,307.7M423.6,303.5L423.3,307.7M427.8,303.5L427.2,307.7M432.0,303.5L431.1,307.7M436.1,303.5L435.1,307.7M440.3,303.5L439.0,307.7M444.4,303.6L443.0,307.6M448.6,303.7L446.9,307.5M452.7,303.7L450.9,307.5M456.8,303.8L454.9,307.4M398.7,311.9L399.6,315.9M402.8,311.9L403.6,315.9M406.9,311.8L407.6,316.0M411.1,311.7L411.5,316.1M415.2,311.6L415.5,316.2M419.4,311.5L419.4,316.3M423.6,311.5L423.3,316.3M427.8,311.4L427.2,316.4M432.0,311.4L431.1,316.4M436.3,311.4L434.9,316.4M440.5,311.5L438.8,316.3M444.7,311.6L442.7,316.2M448.8,311.7L446.7,316.1M452.9,311.8L450.7,316.0M457.1,312.0L454.6,315.8M461.1,312.1L458.7,315.7M465.2,312.2L462.7,315.6M469.3,312.3L466.7,315.5M365.5,320.6L368.0,323.8M369.6,320.5L372.0,323.9M373.8,320.4L375.9,324.0M378.0,320.3L379.8,324.1M382.1,320.3L383.8,324.1M386.3,320.2L387.7,324.2M390.4,320.2L391.7,324.2M394.5,320.1L395.7,324.3M398.6,320.1L399.7,324.3M402.7,320.0L403.7,324.4M406.8,319.9L407.7,324.5M410.9,319.7L411.7,324.7M415.1,319.6L415.6,324.8M419.3,319.4L419.5,325.0M423.5,319.3L423.4,325.1M427.8,319.2L427.2,325.2M432.1,319.1L431.0,325.3M436.4,319.2L434.8,325.2M440.7,319.3L438.6,325.1M445.0,319.5L442.4,324.9M449.2,319.7L446.3,324.7M453.3,319.9L450.3,324.5M457.4,320.1L454.3,324.3M461.5,320.3L458.3,324.1M465.5,320.4L462.4,324.0M469.5,320.6L466.5,323.8M473.5,320.7L470.6,323.7M352.9,329.3L356.3,331.7M356.9,329.1L360.4,331.9M361.0,328.9L364.4,332.1M365.1,328.6L368.4,332.4M369.3,328.4L372.3,332.6M373.6,328.3L376.1,332.7M377.8,328.2L380.0,332.8M382.1,328.2L383.8,332.8M386.3,328.3L387.7,332.7M390.4,328.3L391.7,332.7M394.5,328.4L395.7,332.6M398.5,328.3L399.8,332.7M402.5,328.2L403.9,332.8M406.6,328.1L407.9,332.9M410.6,327.8L412.0,333.2M414.7,327.5L416.0,333.5M418.9,327.2L419.9,333.8M423.2,326.8L423.7,334.2M427.7,326.6L427.3,334.4M445.6,327.1L441.8,333.9M449.8,327.5L445.7,333.5M454.0,327.9L449.6,333.1M458.0,328.2L453.7,332.8M462.0,328.5L457.8,332.5M465.9,328.8L462.0,332.2M469.9,329.0L466.1,332.0M473.8,329.1L470.3,331.9M477.8,329.3L474.4,331.7M344.6,338.0L348.4,339.6M348.5,337.9L352.6,339.7M352.4,337.6L356.8,340.0M356.3,337.3L361.0,340.3M360.3,337.0L365.1,340.6M364.4,336.5L369.1,341.1M368.6,336.0L373.0,341.6M373.2,335.7L376.5,341.9M377.8,335.7L380.0,341.9M382.3,335.9L383.6,341.7M386.6,336.3L387.4,341.3M390.7,336.6L391.4,341.0M394.6,336.8L395.6,340.8M398.5,336.9L399.8,340.7M402.4,336.8L404.0,340.8M406.2,336.6L408.3,341.0M410.0,336.2L412.6,341.4M413.9,335.6L416.8,342.0M458.8,336.6L452.9,341.0M462.6,337.0L457.2,340.6M466.4,337.2L461.5,340.4M470.3,337.4L465.7,340.2M474.1,337.6L470.0,340.0M478.0,337.7L474.2,339.9M481.9,337.9L478.4,339.7M344.3,346.6L348.7,347.6M348.1,346.5L353.0,347.7M351.8,346.3L357.4,347.9M355.5,346.0L361.8,348.2M387.7,344.6L386.3,349.6M405.8,345.7L408.7,348.5M409.3,345.2L413.3,349.0M412.5,344.5L418.2,349.7M463.2,345.8L456.6,348.4M466.9,346.0L461.0,348.2M470.6,346.1L465.4,348.1M474.4,346.2L469.7,348.0M478.2,346.3L474.0,347.9M482.1,346.4L478.2,347.8M340.4,355.4L344.5,355.4M344.2,355.4L348.8,355.4M347.9,355.4L353.2,355.4M351.5,355.3L357.7,355.5M354.9,355.3L362.4,355.5M389.4,355.1L384.6,355.7M408.8,355.1L413.8,355.7M411.4,355.0L419.3,355.8M463.5,354.9L456.3,355.9M467.1,354.9L460.8,355.9M470.7,355.0L465.3,355.8M474.5,355.0L469.6,355.8M478.3,355.0L473.9,355.8" fill="none" stroke="#16301a" stroke-width="0.80" opacity="0.55" stroke-linecap="round"/>
<path d="M432.2,326.5L430.9,334.5M436.8,326.5L434.4,334.5M441.3,326.8L438.0,334.2M418.0,334.9L420.8,342.7M422.3,334.0L424.6,343.6M427.1,333.1L427.9,344.5M432.3,332.7L430.8,344.9M437.6,332.9L433.6,344.7M442.5,333.7L436.8,343.9M446.9,334.6L440.5,343.0M451.0,335.4L444.5,342.2M455.0,336.1L448.6,341.5M359.0,345.4L366.4,348.8M362.6,344.5L370.9,349.7M366.5,343.0L375.1,351.2M371.8,341.3L377.9,352.9M378.3,341.4L379.5,352.8M383.7,343.1L382.2,351.1M415.7,343.2L423.1,351.0M419.0,340.8L427.9,353.4M424.8,339.6L430.2,354.6M431.9,339.1L431.2,355.1M439.1,339.9L432.1,354.3M445.1,341.2L434.2,353.0M450.0,342.5L437.4,351.7M453.1,344.0L442.4,350.2M456.3,344.9L447.3,349.3M459.7,345.4L452.0,348.8M357.9,355.2L367.5,355.6M360.1,355.1L373.4,355.7M362.8,354.7L378.8,356.1M367.1,353.5L382.6,357.3M386.4,352.6L371.4,358.2M389.0,354.5L376.9,356.3M413.2,354.8L425.6,356.0M415.5,354.6L431.4,356.2M419.6,354.1L435.4,356.7M427.2,348.7L435.9,362.1M443.5,354.0L427.7,356.8M447.6,354.6L431.7,356.2M451.7,354.7L435.7,356.1M454.8,354.8L440.7,356.0M457.2,354.9L446.4,355.9M460.2,354.9L451.5,355.9" fill="none" stroke="#16301a" stroke-width="0.95" opacity="0.90" stroke-linecap="round"/>
<path d="M415.4,299.1L414.3,297.2L416.4,297.2ZM419.3,299.1L418.4,297.2L420.5,297.2ZM423.3,299.1L422.4,297.1L424.5,297.3ZM427.3,299.1L426.5,297.1L428.6,297.4ZM431.2,299.1L430.5,297.0L432.6,297.4ZM435.2,299.1L434.6,297.0L436.7,297.5ZM439.1,299.1L438.6,297.0L440.7,297.5ZM443.1,299.1L442.7,296.9L444.7,297.6ZM447.1,299.0L446.8,296.9L448.8,297.6ZM451.1,299.0L450.9,296.8L452.8,297.6ZM455.1,298.9L454.9,296.8L456.8,297.7ZM459.1,298.9L459.0,296.7L460.9,297.7ZM395.5,307.3L394.1,305.7L396.1,305.2ZM399.5,307.4L398.1,305.7L400.2,305.3ZM403.5,307.4L402.1,305.7L404.2,305.4ZM407.5,307.5L406.2,305.7L408.3,305.4ZM411.4,307.6L410.2,305.7L412.4,305.5ZM458.9,307.3L459.0,305.0L460.9,306.1ZM462.9,307.2L463.1,305.0L464.9,306.1ZM467.0,307.1L467.2,304.9L468.9,306.1ZM471.0,307.0L471.3,304.9L473.0,306.1ZM371.7,315.4L369.9,314.4L371.6,313.2ZM375.7,315.5L373.9,314.3L375.7,313.3ZM379.7,315.5L377.9,314.3L379.8,313.4ZM383.7,315.6L381.9,314.2L383.9,313.4ZM387.7,315.7L386.0,314.2L388.0,313.5ZM391.6,315.7L390.0,314.2L392.1,313.5ZM395.6,315.8L394.0,314.2L396.1,313.6ZM470.8,315.4L471.3,313.2L472.9,314.6ZM474.9,315.3L475.4,313.1L476.9,314.5ZM355.9,323.4L353.8,322.9L355.2,321.3ZM360.0,323.5L357.9,322.9L359.4,321.4ZM364.0,323.7L361.9,322.9L363.5,321.5ZM474.7,323.5L475.4,321.4L476.9,323.0ZM478.8,323.4L479.5,321.4L480.9,322.9ZM348.1,331.4L345.9,331.4L346.9,329.5ZM352.2,331.5L349.9,331.4L351.1,329.6ZM478.6,331.6L479.6,329.6L480.8,331.4ZM482.7,331.5L483.7,329.6L484.9,331.3ZM344.2,339.4L342.0,339.8L342.7,337.8ZM482.6,339.7L483.8,337.8L484.8,339.7ZM340.2,347.4L338.1,348.1L338.5,346.1ZM344.4,347.5L342.2,348.2L342.6,346.0ZM482.5,347.7L483.9,346.1L484.6,348.1ZM340.2,355.4L338.3,356.5L338.3,354.3ZM478.2,355.8L479.9,354.3L480.4,356.5ZM482.4,355.8L484.1,354.4L484.5,356.4Z" fill="#16301a" opacity="0.22"/>
<path d="M415.4,307.6L414.2,305.6L416.5,305.6ZM419.3,307.7L418.3,305.6L420.5,305.7ZM423.3,307.7L422.3,305.6L424.6,305.7ZM427.2,307.7L426.4,305.5L428.6,305.8ZM431.1,307.7L430.4,305.5L432.7,305.9ZM435.1,307.7L434.5,305.4L436.7,306.0ZM439.0,307.7L438.5,305.3L440.7,306.0ZM443.0,307.6L442.6,305.3L444.7,306.1ZM446.9,307.5L446.7,305.2L448.8,306.1ZM450.9,307.5L450.8,305.1L452.8,306.1ZM454.9,307.4L454.9,305.1L456.8,306.1ZM399.6,315.9L398.1,314.2L400.2,313.7ZM403.6,315.9L402.1,314.1L404.3,313.7ZM407.6,316.0L406.1,314.1L408.4,313.8ZM411.5,316.1L410.2,314.1L412.5,313.9ZM415.5,316.2L414.2,314.1L416.5,314.0ZM419.4,316.3L418.2,314.1L420.6,314.1ZM423.3,316.3L422.2,314.0L424.7,314.2ZM427.2,316.4L426.2,314.0L428.7,314.3ZM431.1,316.4L430.3,313.9L432.7,314.4ZM434.9,316.4L434.3,313.8L436.7,314.5ZM438.8,316.3L438.4,313.8L440.7,314.6ZM442.7,316.2L442.5,313.7L444.8,314.6ZM446.7,316.1L446.6,313.6L448.8,314.6ZM450.7,316.0L450.7,313.5L452.8,314.6ZM454.6,315.8L454.8,313.4L456.8,314.6ZM458.7,315.7L458.9,313.3L460.8,314.6ZM462.7,315.6L463.0,313.3L464.8,314.6ZM466.7,315.5L467.1,313.2L468.9,314.6ZM368.0,323.8L365.9,322.9L367.6,321.5ZM372.0,323.9L369.9,322.9L371.7,321.6ZM375.9,324.0L373.9,322.8L375.8,321.7ZM379.8,324.1L377.9,322.8L379.9,321.7ZM383.8,324.1L381.9,322.7L384.0,321.8ZM387.7,324.2L386.0,322.6L388.1,321.9ZM391.7,324.2L390.0,322.6L392.1,321.9ZM395.7,324.3L394.0,322.6L396.2,322.0ZM399.7,324.3L398.1,322.6L400.3,322.0ZM403.7,324.4L402.1,322.6L404.4,322.1ZM407.7,324.5L406.1,322.6L408.5,322.1ZM411.7,324.7L410.1,322.6L412.6,322.3ZM415.6,324.8L414.1,322.7L416.7,322.4ZM419.5,325.0L418.1,322.7L420.7,322.5ZM423.4,325.1L422.1,322.6L424.8,322.7ZM427.2,325.2L426.1,322.6L428.8,322.9ZM431.0,325.3L430.1,322.5L432.8,323.0ZM434.8,325.2L434.1,322.4L436.8,323.1ZM438.6,325.1L438.1,322.2L440.8,323.2ZM442.4,324.9L442.2,322.1L444.7,323.3ZM446.3,324.7L446.3,321.9L448.7,323.3ZM450.3,324.5L450.5,321.8L452.7,323.3ZM454.3,324.3L454.6,321.7L456.7,323.2ZM458.3,324.1L458.8,321.6L460.7,323.2ZM462.4,324.0L462.9,321.5L464.7,323.1ZM466.5,323.8L467.1,321.5L468.8,323.1ZM470.6,323.7L471.2,321.4L472.8,323.0ZM356.3,331.7L354.0,331.4L355.3,329.6ZM360.4,331.9L358.0,331.5L359.5,329.7ZM364.4,332.1L362.0,331.5L363.7,329.8ZM368.4,332.4L366.0,331.5L367.8,329.9ZM372.3,332.6L369.9,331.5L372.0,330.0ZM376.1,332.7L373.9,331.4L376.1,330.1ZM380.0,332.8L377.9,331.3L380.1,330.2ZM383.8,332.8L381.9,331.1L384.2,330.3ZM387.7,332.7L385.9,331.0L388.2,330.3ZM391.7,332.7L390.0,331.0L392.2,330.3ZM395.7,332.6L394.0,330.9L396.2,330.3ZM399.8,332.7L398.1,331.0L400.3,330.3ZM403.9,332.8L402.1,331.0L404.4,330.3ZM407.9,332.9L406.1,331.1L408.5,330.4ZM412.0,333.2L410.1,331.2L412.7,330.5ZM416.0,333.5L414.1,331.3L416.8,330.7ZM419.9,333.8L418.0,331.4L421.0,331.0ZM423.7,334.2L421.9,331.4L425.1,331.2ZM427.3,334.4L425.8,331.4L429.1,331.5ZM441.8,333.9L441.8,330.5L444.6,332.1ZM445.7,333.5L446.0,330.3L448.5,332.1ZM449.6,333.1L450.2,330.1L452.5,332.0ZM453.7,332.8L454.4,329.9L456.5,331.9ZM457.8,332.5L458.7,329.8L460.5,331.8ZM462.0,332.2L462.9,329.7L464.5,331.7ZM466.1,332.0L467.1,329.7L468.6,331.6ZM470.3,331.9L471.2,329.7L472.7,331.5ZM474.4,331.7L475.4,329.6L476.7,331.4ZM348.4,339.6L346.1,339.8L346.9,337.8ZM352.6,339.7L350.2,339.9L351.1,337.8ZM356.8,340.0L354.2,340.0L355.4,337.8ZM361.0,340.3L358.3,340.1L359.7,337.9ZM365.1,340.6L362.3,340.2L363.9,338.0ZM369.1,341.1L366.2,340.3L368.2,338.2ZM373.0,341.6L370.1,340.3L372.5,338.5ZM376.5,341.9L373.9,340.2L376.5,338.7ZM380.0,341.9L377.8,339.9L380.5,338.9ZM383.6,341.7L381.7,339.6L384.4,338.9ZM387.4,341.3L385.8,339.3L388.3,338.9ZM391.4,341.0L389.9,339.1L392.2,338.7ZM395.6,340.8L394.0,339.1L396.2,338.6ZM399.8,340.7L398.1,339.1L400.2,338.5ZM404.0,340.8L402.2,339.3L404.3,338.4ZM408.3,341.0L406.2,339.5L408.5,338.5ZM412.6,341.4L410.3,339.8L412.7,338.6ZM416.8,342.0L414.3,340.1L417.0,338.9ZM452.9,341.0L454.2,338.1L456.1,340.6ZM457.2,340.6L458.6,338.0L460.2,340.4ZM461.5,340.4L462.8,337.9L464.3,340.2ZM465.7,340.2L467.1,337.9L468.4,340.1ZM470.0,340.0L471.3,337.8L472.5,339.9ZM474.2,339.9L475.5,337.8L476.6,339.9ZM478.4,339.7L479.6,337.8L480.7,339.8ZM348.7,347.6L346.4,348.3L346.8,346.0ZM353.0,347.7L350.5,348.4L351.1,346.0ZM357.4,347.9L354.6,348.5L355.4,345.9ZM361.8,348.2L358.8,348.7L359.8,345.9ZM386.3,349.6L385.7,347.0L388.1,347.7ZM408.7,348.5L406.5,347.9L408.0,346.3ZM413.3,349.0L410.7,348.3L412.5,346.4ZM418.2,349.7L414.9,348.9L417.1,346.5ZM456.6,348.4L458.6,346.0L459.7,348.8ZM461.0,348.2L462.9,346.0L463.9,348.6ZM465.4,348.1L467.2,346.0L468.1,348.5ZM469.7,348.0L471.4,346.0L472.3,348.3ZM474.0,347.9L475.6,346.0L476.4,348.2ZM478.2,347.8L479.8,346.1L480.5,348.1ZM344.5,355.4L342.5,356.5L342.5,354.3ZM348.8,355.4L346.6,356.6L346.7,354.2ZM353.2,355.4L350.8,356.7L350.9,354.1ZM357.7,355.5L355.1,356.8L355.2,354.0ZM362.4,355.5L359.5,357.0L359.6,353.8ZM384.6,355.7L386.6,354.2L386.9,356.6ZM413.8,355.7L411.4,356.7L411.7,354.2ZM419.3,355.8L416.1,357.1L416.5,353.9ZM456.3,355.9L458.9,354.0L459.3,357.1ZM460.8,355.9L463.2,354.1L463.6,356.9ZM465.3,355.8L467.4,354.2L467.8,356.8ZM469.6,355.8L471.6,354.2L472.0,356.6ZM473.9,355.8L475.8,354.3L476.2,356.6Z" fill="#16301a" opacity="0.55"/>
<path d="M430.9,334.5L429.7,331.3L433.0,331.9ZM434.4,334.5L433.7,331.1L436.9,332.1ZM438.0,334.2L437.7,330.8L440.7,332.1ZM420.8,342.7L418.3,340.5L421.4,339.3ZM424.6,343.6L422.3,341.1L425.5,340.3ZM427.9,344.5L426.0,341.6L429.3,341.4ZM430.8,344.9L429.5,341.8L432.8,342.2ZM433.6,344.7L433.0,341.3L436.1,342.4ZM436.8,343.9L436.8,340.5L439.7,342.1ZM440.5,343.0L441.0,339.6L443.6,341.6ZM444.5,342.2L445.4,338.9L447.7,341.2ZM448.6,341.5L449.8,338.3L452.0,340.8ZM366.4,348.8L363.0,349.0L364.3,346.0ZM370.9,349.7L367.5,349.5L369.2,346.7ZM375.1,351.2L371.8,350.3L374.1,348.0ZM377.9,352.9L375.0,351.0L377.9,349.5ZM379.5,352.8L377.5,350.0L380.8,349.7ZM382.2,351.1L381.1,347.9L384.4,348.4ZM423.1,351.0L419.9,350.0L422.3,347.7ZM427.9,353.4L424.8,351.9L427.5,350.0ZM430.2,354.6L427.7,352.4L430.8,351.2ZM431.2,355.1L429.7,352.0L433.0,352.2ZM432.1,354.3L431.9,350.9L434.9,352.3ZM434.2,353.0L435.0,349.6L437.5,351.9ZM437.4,351.7L438.9,348.6L440.8,351.3ZM442.4,350.2L444.2,347.3L445.8,350.1ZM447.3,349.3L449.2,346.5L450.7,349.5ZM452.0,348.8L454.1,346.1L455.4,349.1ZM367.5,355.6L364.4,357.1L364.6,353.8ZM373.4,355.7L370.3,357.2L370.5,353.9ZM378.8,356.1L375.6,357.5L375.9,354.2ZM382.6,357.3L379.3,358.2L380.1,355.0ZM371.4,358.2L373.6,355.6L374.8,358.7ZM376.9,356.3L379.6,354.2L380.1,357.5ZM425.6,356.0L422.5,357.4L422.8,354.1ZM431.4,356.2L428.2,357.6L428.6,354.3ZM435.4,356.7L432.2,357.8L432.7,354.6ZM435.9,362.1L432.9,360.5L435.7,358.7ZM427.7,356.8L430.4,354.6L431.0,357.9ZM431.7,356.2L434.5,354.3L434.8,357.5ZM435.7,356.1L438.6,354.2L438.9,357.5ZM440.7,356.0L443.6,354.1L443.9,357.4ZM446.4,355.9L449.2,354.0L449.5,357.3ZM451.5,355.9L454.3,353.9L454.7,357.2Z" fill="#16301a" opacity="0.90"/>
<path d="M360.4,343.4Q369.5,347.7 377.0,353.0M365.5,339.3Q371.8,345.5 377.0,353.0M371.5,337.9Q374.5,344.7 377.0,353.0M377.0,339.0Q377.0,345.3 377.0,353.0M382.5,337.9Q379.5,344.7 377.0,353.0M388.5,339.3Q382.2,345.5 377.0,353.0M393.6,343.4Q384.5,347.7 377.0,353.0" fill="none" stroke="#0a140a" stroke-width="0.90" opacity="0.60" stroke-dasharray="6 1.5"/>
<path d="M365.7,346.1L362.5,346.1L363.9,343.4ZM372.4,349.9L369.2,349.7L370.8,347.2ZM369.2,343.1L366.2,342.1L368.4,340.1ZM373.8,348.6L370.9,347.3L373.3,345.5ZM373.3,342.1L370.8,340.1L373.6,339.0ZM375.5,348.2L373.2,346.0L376.0,345.0ZM377.0,342.9L375.5,340.1L378.5,340.1ZM377.0,348.5L375.5,345.7L378.5,345.7ZM380.7,342.1L380.4,339.0L383.2,340.1ZM378.5,348.2L378.0,345.0L380.8,346.0ZM384.8,343.1L385.6,340.1L387.8,342.1ZM380.2,348.6L380.7,345.5L383.1,347.3ZM388.3,346.1L390.1,343.4L391.5,346.1ZM381.6,349.9L383.2,347.2L384.8,349.7Z" fill="#0a140a" opacity="0.60"/>
<path d="M376.1,353.0L373.9,367.5M377.0,353.0L377.1,367.5M378.0,353.0L380.2,367.5" fill="none" stroke="#0a140a" stroke-width="0.90" opacity="0.60"/>
<path d="M404.4,342.9Q419.6,347.5 432.0,353.0M412.2,334.3Q423.1,342.7 432.0,353.0M422.5,331.0Q427.7,340.9 432.0,353.0M432.0,333.0Q432.0,342.0 432.0,353.0M441.5,331.0Q436.3,340.9 432.0,353.0M451.8,334.3Q440.9,342.7 432.0,353.0M459.6,342.9Q444.4,347.5 432.0,353.0" fill="none" stroke="#0a140a" stroke-width="1.00" opacity="0.65" stroke-dasharray="6 1.5"/>
<path d="M413.2,345.8L410.1,346.3L411.1,343.4ZM424.3,349.8L421.1,350.1L422.2,347.4ZM418.5,339.5L415.4,338.8L417.4,336.5ZM426.5,347.0L423.4,346.0L425.6,343.9ZM425.6,337.1L423.0,335.2L425.7,334.0ZM429.4,345.9L426.9,343.9L429.7,342.8ZM432.0,338.6L430.5,335.8L433.5,335.8ZM432.0,346.6L430.5,343.8L433.5,343.8ZM438.4,337.1L438.3,334.0L441.0,335.2ZM434.6,345.9L434.3,342.8L437.1,343.9ZM445.5,339.5L446.6,336.5L448.6,338.8ZM437.5,347.0L438.4,343.9L440.6,346.0ZM450.8,345.8L452.9,343.4L453.9,346.3ZM439.7,349.8L441.8,347.4L442.9,350.1Z" fill="#0a140a" opacity="0.65"/>
<path d="M430.8,353.0L427.9,367.5M432.0,353.0L432.1,367.5M433.3,353.0L436.4,367.5" fill="none" stroke="#0a140a" stroke-width="1.00" opacity="0.65"/>
<rect x="318.00" y="389.50" width="11.25" height="6.50" fill="#2838d4"/>
<rect x="303.75" y="395.50" width="39.25" height="75.00" fill="#0a08e2"/>
<ellipse cx="323.7" cy="470.5" rx="6" ry="4.5" fill="url(#glow)" opacity="0.6"/>
<rect x="303.75" y="470.50" width="39.25" height="7.00" fill="#ffffff"/>
<rect x="322.00" y="470.00" width="3.50" height="8.00" fill="#c0c0f0"/>
<rect x="303.75" y="477.50" width="39.25" height="74.50" fill="#0a08e2"/>
<rect x="482.00" y="390.50" width="10.00" height="7.00" fill="#8890e0"/>
<rect x="468.00" y="397.00" width="37.50" height="49.25" fill="#0a08e2"/>
<ellipse cx="486.2" cy="446.3" rx="9" ry="7" fill="url(#glow)"/>
<rect x="468.00" y="446.25" width="37.50" height="7.50" fill="#ffffff"/>
<rect x="483.75" y="446.00" width="5.00" height="8.00" fill="#e8301e"/>
<rect x="468.00" y="453.75" width="37.50" height="49.85" fill="#0a08e2"/>
<path d="M339.85,284.30 H343.65 V295.30 H346.10 L341.75,302.20 L337.40,295.30 H339.85 Z" fill="#f4561e"/>
<path d="M370.60,284.30 H374.40 V295.30 H376.85 L372.50,302.20 L368.15,295.30 H370.60 Z" fill="#f4561e"/>
<path d="M401.50,284.30 H405.30 V295.30 H407.75 L403.40,302.20 L399.05,295.30 H401.50 Z" fill="#f4561e"/>
<path d="M432.10,284.30 H435.90 V295.30 H438.35 L434.00,302.20 L429.65,295.30 H432.10 Z" fill="#f4561e"/>
<path d="M462.40,284.30 H466.20 V295.30 H468.65 L464.30,302.20 L459.95,295.30 H462.40 Z" fill="#f4561e"/>
<text x="309.5" y="296.5" font-family="'Liberation Serif', serif" font-size="13.5" text-anchor="start" fill="#111" stroke="#111" stroke-width="0.00" font-weight="bold" font-style="normal">(f)</text>
<text x="505.5" y="343.8" font-family="'Liberation Serif', serif" font-size="11.0" text-anchor="end" fill="#111" stroke="#111" stroke-width="0.30" font-weight="normal" font-style="normal">Pressure</text>
<text x="502.0" y="357.0" font-family="'Liberation Serif', serif" font-size="11.0" text-anchor="end" fill="#111" stroke="#111" stroke-width="0.30" font-weight="normal" font-style="normal">field</text>
<text x="307.5" y="405.0" font-family="'Liberation Serif', serif" font-size="10.5" text-anchor="start" fill="#fff" stroke="#fff" stroke-width="0.00" font-weight="normal" font-style="normal" textLength="33" lengthAdjust="spacingAndGlyphs">0.03m/s</text>
<text x="307.5" y="488.0" font-family="'Liberation Serif', serif" font-size="10.5" text-anchor="start" fill="#fff" stroke="#fff" stroke-width="0.00" font-weight="normal" font-style="normal" textLength="33" lengthAdjust="spacingAndGlyphs">0.21m/s</text>
<text x="323.4" y="549.5" font-family="'Liberation Serif', serif" font-size="13.0" text-anchor="middle" fill="#fff" stroke="#fff" stroke-width="0.00" font-weight="normal" font-style="italic">v</text>
<text x="323.4" y="569.8" font-family="'Liberation Serif', serif" font-size="11.0" text-anchor="middle" fill="#222" stroke="#222" stroke-width="0.30" font-weight="normal" font-style="normal">Velocity</text>
<text x="323.4" y="582.5" font-family="'Liberation Serif', serif" font-size="11.0" text-anchor="middle" fill="#222" stroke="#222" stroke-width="0.30" font-weight="normal" font-style="normal">field</text>
<text x="471.5" y="407.0" font-family="'Liberation Serif', serif" font-size="10.5" text-anchor="start" fill="#fff" stroke="#fff" stroke-width="0.00" font-weight="normal" font-style="normal" textLength="32.5" lengthAdjust="spacingAndGlyphs">0.15m/s</text>
<text x="471.5" y="463.8" font-family="'Liberation Serif', serif" font-size="10.5" text-anchor="start" fill="#fff" stroke="#fff" stroke-width="0.00" font-weight="normal" font-style="normal" textLength="32.5" lengthAdjust="spacingAndGlyphs">0.78m/s</text>
<text x="486.8" y="500.3" font-family="'Liberation Serif', serif" font-size="13.0" text-anchor="middle" fill="#fff" stroke="#fff" stroke-width="0.00" font-weight="normal" font-style="italic">v</text>
<text x="486.8" y="519.0" font-family="'Liberation Serif', serif" font-size="11.0" text-anchor="middle" fill="#222" stroke="#222" stroke-width="0.30" font-weight="normal" font-style="normal">Velocity</text>
<text x="486.8" y="532.0" font-family="'Liberation Serif', serif" font-size="11.0" text-anchor="middle" fill="#222" stroke="#222" stroke-width="0.30" font-weight="normal" font-style="normal">field</text>
<text x="378.5" y="582.7" font-family="'Liberation Serif', serif" font-size="11.0" text-anchor="middle" fill="#222" stroke="#222" stroke-width="0.30" font-weight="normal" font-style="normal">cell 1</text>
<text x="433.0" y="535.3" font-family="'Liberation Serif', serif" font-size="11.0" text-anchor="middle" fill="#222" stroke="#222" stroke-width="0.30" font-weight="normal" font-style="normal">cell 3</text>
</svg>
</body></html>
